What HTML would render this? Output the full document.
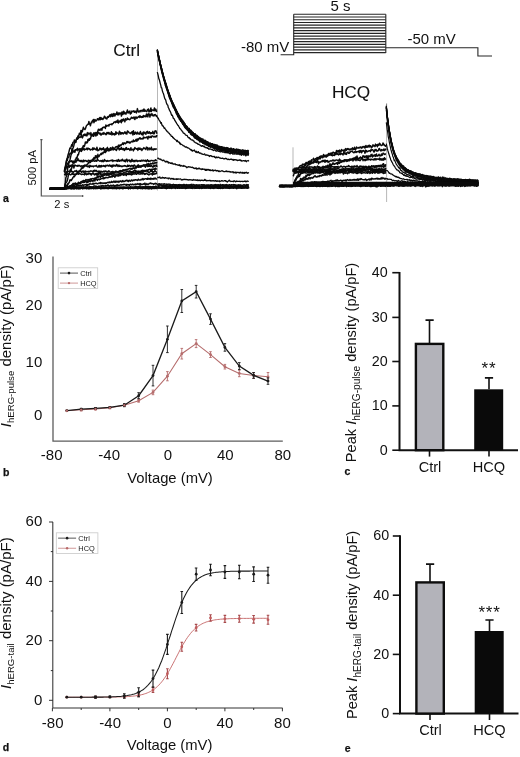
<!DOCTYPE html>
<html><head><meta charset="utf-8"><title>hERG figure</title>
<style>html,body{margin:0;padding:0;background:#fff;}body{width:520px;height:757px;overflow:hidden;font-family:"Liberation Sans", Arial, sans-serif;}svg{display:block;}.k{stroke:#111;stroke-width:.25px;}.k2{stroke:#111;stroke-width:.1px;}</style>
</head><body>
<svg width="520" height="757" viewBox="0 0 520 757" font-family='"Liberation Sans", Arial, sans-serif' fill="#111"><path d="M157.5 49.7V190.5M64.4 171V188.6" stroke="#999" stroke-width="0.7" fill="none"/>
<g fill="none" stroke="#0a0a0a" stroke-width="1.45" stroke-linejoin="round"><path d="M49.5 188.6L50.0 188.7L50.5 188.5L51.0 188.4L51.5 188.5L52.0 188.4L52.5 188.6L53.0 188.9L53.5 188.5L54.0 188.4L54.5 188.7L55.0 188.7L55.5 188.6L56.0 188.4L56.5 188.6L57.0 188.8L57.5 188.3L58.0 188.5L58.5 188.1L59.0 188.3L59.5 188.1L60.0 188.5L60.5 188.3L61.0 188.7L61.5 188.6L62.0 188.6L62.5 188.0L63.0 188.5L63.5 188.6L64.0 188.6M64.4 188.1L64.9 188.4L65.4 188.3L65.9 188.3L66.4 188.9L66.9 188.3L67.4 188.5L67.9 188.8L68.4 188.4L68.9 188.5L69.4 188.6L69.9 188.5L70.4 188.1L70.9 188.5L71.4 188.9L71.9 188.0L72.4 188.7L72.9 188.5L73.4 188.3L73.9 189.1L74.4 188.7L74.9 188.1L75.4 188.5L75.9 188.6L76.4 188.4L76.9 188.7L77.4 188.4L77.9 188.7L78.4 188.9L78.9 188.2L79.4 188.5L79.9 188.3L80.4 188.5L80.9 188.1L81.4 188.3L81.9 188.4L82.4 188.7L82.9 188.8L83.4 188.0L83.9 188.2L84.4 188.6L84.9 187.8L85.4 188.3L85.9 188.4L86.4 188.8L86.9 188.6L87.4 188.3L87.9 188.3L88.4 188.3L88.9 188.9L89.4 188.3L89.9 188.3L90.4 188.5L90.9 188.4L91.4 188.4L91.9 188.1L92.4 188.4L92.9 188.3L93.4 188.8L93.9 188.6L94.4 188.4L94.9 188.6L95.4 188.3L95.9 188.7L96.4 188.4L96.9 188.6L97.4 188.0L97.9 188.5L98.4 187.9L98.9 187.8L99.4 188.3L99.9 188.1L100.4 188.5L100.9 189.1L101.4 188.2L101.9 188.2L102.4 188.5L102.9 188.6L103.4 188.4L103.9 188.3L104.4 188.6L104.9 188.6L105.4 188.1L105.9 188.4L106.4 188.4L106.9 188.1L107.4 188.5L107.9 188.1L108.4 188.7L108.9 188.5L109.4 188.4L109.9 188.2L110.4 188.4L110.9 187.8L111.4 188.1L111.9 188.5L112.4 187.8L112.9 188.7L113.4 187.9L113.9 188.6L114.4 188.1L114.9 188.6L115.4 188.4L115.9 187.9L116.4 188.8L116.9 188.8L117.4 188.4L117.9 188.3L118.4 188.4L118.9 188.1L119.4 188.7L119.9 188.2L120.4 188.4L120.9 188.2L121.4 188.2L121.9 188.0L122.4 188.8L122.9 188.4L123.4 188.7L123.9 188.4L124.4 188.2L124.9 188.3L125.4 188.2L125.9 188.4L126.4 188.3L126.9 188.3L127.4 188.0L127.9 188.2L128.4 188.9L128.9 188.2L129.4 188.1L129.9 188.5L130.4 188.8L130.9 188.0L131.4 188.3L131.9 188.2L132.4 187.9L132.9 188.6L133.4 188.4L133.9 188.4L134.4 188.2L134.9 188.5L135.4 188.2L135.9 188.4L136.4 188.1L136.9 188.0L137.4 188.8L137.9 188.2L138.4 188.5L138.9 188.4L139.4 188.3L139.9 188.2L140.4 188.6L140.9 188.3L141.4 188.4L141.9 188.4L142.4 188.8L142.9 188.6L143.4 188.5L143.9 188.2L144.4 188.0L144.9 188.7L145.4 188.7L145.9 188.4L146.4 188.6L146.9 188.6L147.4 188.6L147.9 188.7L148.4 188.3L148.9 188.9L149.4 188.0L149.9 188.7L150.4 188.5L150.9 188.7L151.4 189.0L151.9 188.8L152.4 188.1L152.9 187.9L153.4 188.6L153.9 188.1L154.4 188.4L154.9 188.7L155.4 187.9L155.9 187.8L156.4 188.5L156.9 188.4"/><path d="M49.5 188.6L50.0 188.7L50.5 188.5L51.0 188.9L51.5 188.7L52.0 188.3L52.5 188.4L53.0 188.8L53.5 188.7L54.0 188.1L54.5 188.9L55.0 188.7L55.5 188.9L56.0 188.5L56.5 188.5L57.0 188.3L57.5 189.2L58.0 188.6L58.5 189.0L59.0 188.4L59.5 188.6L60.0 188.2L60.5 188.5L61.0 188.8L61.5 188.3L62.0 188.9L62.5 188.7L63.0 188.3L63.5 188.5L64.0 188.5M64.4 188.6L64.9 188.4L65.4 188.3L65.9 188.4L66.4 188.1L66.9 188.0L67.4 188.4L67.9 188.6L68.4 187.9L68.9 188.3L69.4 188.1L69.9 188.0L70.4 188.5L70.9 188.1L71.4 188.6L71.9 187.9L72.4 188.3L72.9 188.1L73.4 187.9L73.9 188.3L74.4 188.0L74.9 188.3L75.4 188.1L75.9 187.7L76.4 188.0L76.9 188.0L77.4 188.3L77.9 187.7L78.4 188.0L78.9 187.5L79.4 188.2L79.9 187.6L80.4 187.4L80.9 187.9L81.4 188.3L81.9 187.5L82.4 187.6L82.9 187.7L83.4 187.6L83.9 188.0L84.4 187.7L84.9 187.7L85.4 188.1L85.9 187.7L86.4 188.0L86.9 187.6L87.4 187.5L87.9 187.3L88.4 188.4L88.9 187.8L89.4 187.9L89.9 187.9L90.4 187.9L90.9 187.9L91.4 188.4L91.9 187.5L92.4 187.4L92.9 187.5L93.4 187.4L93.9 188.1L94.4 188.1L94.9 187.5L95.4 187.4L95.9 187.7L96.4 188.2L96.9 187.0L97.4 188.0L97.9 187.5L98.4 188.1L98.9 187.5L99.4 187.7L99.9 187.4L100.4 187.5L100.9 188.2L101.4 188.1L101.9 187.7L102.4 187.6L102.9 187.2L103.4 187.7L103.9 187.8L104.4 187.8L104.9 187.8L105.4 187.5L105.9 187.8L106.4 187.8L106.9 188.2L107.4 188.4L107.9 187.8L108.4 187.6L108.9 187.8L109.4 187.6L109.9 187.6L110.4 187.8L110.9 187.5L111.4 188.0L111.9 187.8L112.4 187.9L112.9 187.8L113.4 187.6L113.9 187.5L114.4 187.7L114.9 187.6L115.4 187.9L115.9 187.8L116.4 187.4L116.9 187.8L117.4 187.4L117.9 187.6L118.4 187.7L118.9 187.2L119.4 187.8L119.9 187.8L120.4 187.8L120.9 187.7L121.4 187.7L121.9 187.5L122.4 187.7L122.9 187.6L123.4 187.8L123.9 187.4L124.4 187.9L124.9 187.8L125.4 187.8L125.9 187.7L126.4 188.0L126.9 187.3L127.4 187.9L127.9 187.9L128.4 187.9L128.9 187.9L129.4 187.6L129.9 187.7L130.4 188.0L130.9 187.9L131.4 187.9L131.9 187.3L132.4 188.0L132.9 188.2L133.4 188.1L133.9 187.9L134.4 187.3L134.9 188.1L135.4 187.8L135.9 187.0L136.4 187.9L136.9 187.4L137.4 187.4L137.9 187.6L138.4 188.2L138.9 187.7L139.4 187.9L139.9 188.3L140.4 188.3L140.9 187.8L141.4 187.7L141.9 187.4L142.4 187.6L142.9 187.9L143.4 187.9L143.9 187.8L144.4 188.1L144.9 187.6L145.4 187.8L145.9 188.0L146.4 188.0L146.9 188.1L147.4 187.9L147.9 187.7L148.4 187.9L148.9 187.5L149.4 187.3L149.9 188.0L150.4 187.8L150.9 187.9L151.4 187.3L151.9 187.7L152.4 187.6L152.9 187.5L153.4 187.1L153.9 187.7L154.4 188.1L154.9 187.9L155.4 187.6L155.9 187.8L156.4 188.0L156.9 187.0"/><path d="M49.5 188.8L50.0 188.6L50.5 188.7L51.0 188.6L51.5 188.8L52.0 188.6L52.5 188.9L53.0 188.7L53.5 188.7L54.0 188.7L54.5 188.2L55.0 188.6L55.5 188.5L56.0 188.7L56.5 188.3L57.0 189.0L57.5 188.6L58.0 188.3L58.5 188.2L59.0 188.5L59.5 188.6L60.0 188.4L60.5 188.6L61.0 188.4L61.5 188.7L62.0 188.4L62.5 188.6L63.0 188.8L63.5 189.2L64.0 188.3M64.4 188.5L64.9 188.3L65.4 188.8L65.9 188.2L66.4 188.4L66.9 188.5L67.4 188.2L67.9 188.2L68.4 188.3L68.9 187.8L69.4 188.0L69.9 188.3L70.4 188.5L70.9 188.4L71.4 187.9L71.9 188.2L72.4 188.6L72.9 188.5L73.4 188.3L73.9 188.1L74.4 188.5L74.9 188.1L75.4 187.9L75.9 188.0L76.4 188.7L76.9 188.3L77.4 188.6L77.9 188.1L78.4 188.5L78.9 188.0L79.4 188.1L79.9 188.9L80.4 188.4L80.9 188.0L81.4 188.1L81.9 188.2L82.4 188.5L82.9 188.0L83.4 187.6L83.9 188.0L84.4 188.1L84.9 188.1L85.4 188.4L85.9 188.1L86.4 188.3L86.9 187.7L87.4 188.3L87.9 188.6L88.4 188.2L88.9 188.0L89.4 188.0L89.9 188.5L90.4 187.7L90.9 187.9L91.4 188.0L91.9 188.1L92.4 187.8L92.9 188.0L93.4 187.8L93.9 187.9L94.4 187.8L94.9 187.5L95.4 187.8L95.9 188.1L96.4 187.5L96.9 187.7L97.4 188.0L97.9 187.4L98.4 187.8L98.9 187.4L99.4 188.1L99.9 188.4L100.4 188.3L100.9 187.6L101.4 187.9L101.9 187.7L102.4 187.7L102.9 188.1L103.4 187.2L103.9 187.9L104.4 187.6L104.9 188.0L105.4 187.7L105.9 187.4L106.4 187.7L106.9 187.8L107.4 187.6L107.9 187.7L108.4 187.4L108.9 186.9L109.4 187.8L109.9 187.7L110.4 187.5L110.9 187.5L111.4 187.8L111.9 187.3L112.4 187.2L112.9 187.4L113.4 187.8L113.9 187.0L114.4 187.8L114.9 187.2L115.4 187.0L115.9 187.7L116.4 187.3L116.9 187.0L117.4 187.2L117.9 187.6L118.4 187.7L118.9 187.2L119.4 187.4L119.9 187.5L120.4 187.1L120.9 187.4L121.4 187.2L121.9 187.1L122.4 187.1L122.9 187.2L123.4 187.2L123.9 187.0L124.4 187.1L124.9 187.5L125.4 187.2L125.9 187.4L126.4 187.5L126.9 187.3L127.4 187.8L127.9 186.9L128.4 187.3L128.9 187.0L129.4 187.6L129.9 187.6L130.4 186.5L130.9 186.8L131.4 187.2L131.9 187.3L132.4 187.2L132.9 187.0L133.4 187.1L133.9 187.2L134.4 186.9L134.9 187.3L135.4 186.3L135.9 187.1L136.4 186.6L136.9 187.2L137.4 186.8L137.9 186.6L138.4 187.0L138.9 186.6L139.4 186.6L139.9 186.4L140.4 186.8L140.9 187.0L141.4 187.1L141.9 186.8L142.4 187.1L142.9 186.8L143.4 186.8L143.9 186.9L144.4 187.1L144.9 186.7L145.4 186.7L145.9 186.7L146.4 186.7L146.9 186.4L147.4 187.0L147.9 186.6L148.4 186.8L148.9 186.4L149.4 186.8L149.9 186.8L150.4 186.5L150.9 187.2L151.4 186.7L151.9 187.1L152.4 186.9L152.9 186.4L153.4 186.5L153.9 186.7L154.4 186.6L154.9 186.6L155.4 186.5L155.9 186.0L156.4 186.5L156.9 185.8"/><path d="M49.5 188.3L50.0 188.7L50.5 188.5L51.0 188.5L51.5 188.2L52.0 188.4L52.5 188.6L53.0 188.8L53.5 188.8L54.0 188.6L54.5 188.6L55.0 188.4L55.5 188.7L56.0 188.5L56.5 188.8L57.0 189.0L57.5 188.6L58.0 188.2L58.5 188.4L59.0 188.2L59.5 188.3L60.0 188.9L60.5 188.7L61.0 188.2L61.5 188.8L62.0 188.9L62.5 188.5L63.0 188.4L63.5 188.5L64.0 188.7M64.4 188.8L64.9 188.9L65.4 188.9L65.9 188.8L66.4 188.8L66.9 188.5L67.4 187.7L67.9 188.1L68.4 188.2L68.9 187.9L69.4 188.3L69.9 187.9L70.4 187.6L70.9 188.4L71.4 188.1L71.9 187.9L72.4 188.1L72.9 188.1L73.4 187.8L73.9 186.8L74.4 187.4L74.9 187.4L75.4 187.2L75.9 187.6L76.4 187.9L76.9 187.3L77.4 187.0L77.9 188.1L78.4 187.2L78.9 186.9L79.4 187.4L79.9 187.4L80.4 187.0L80.9 187.5L81.4 187.0L81.9 186.8L82.4 187.2L82.9 187.3L83.4 186.8L83.9 187.1L84.4 187.0L84.9 187.9L85.4 186.7L85.9 187.4L86.4 186.9L86.9 186.8L87.4 187.1L87.9 187.1L88.4 187.2L88.9 186.8L89.4 186.5L89.9 186.5L90.4 186.8L90.9 186.8L91.4 187.1L91.9 186.7L92.4 186.9L92.9 187.0L93.4 186.5L93.9 185.9L94.4 186.0L94.9 185.9L95.4 186.9L95.9 186.0L96.4 186.7L96.9 186.5L97.4 186.9L97.9 186.6L98.4 186.2L98.9 186.1L99.4 186.2L99.9 186.2L100.4 185.9L100.9 186.1L101.4 186.6L101.9 185.4L102.4 186.1L102.9 185.6L103.4 186.0L103.9 186.2L104.4 185.9L104.9 186.1L105.4 185.3L105.9 186.2L106.4 185.6L106.9 186.0L107.4 185.8L107.9 184.8L108.4 185.4L108.9 185.7L109.4 186.2L109.9 185.7L110.4 185.7L110.9 185.1L111.4 186.0L111.9 186.1L112.4 185.5L112.9 185.4L113.4 184.9L113.9 185.7L114.4 186.3L114.9 185.6L115.4 185.8L115.9 185.5L116.4 185.0L116.9 185.7L117.4 184.8L117.9 185.2L118.4 185.3L118.9 185.5L119.4 185.3L119.9 185.3L120.4 184.8L120.9 184.6L121.4 185.1L121.9 184.8L122.4 184.6L122.9 184.6L123.4 184.8L123.9 184.3L124.4 184.5L124.9 184.3L125.4 184.9L125.9 185.0L126.4 185.5L126.9 184.3L127.4 184.6L127.9 185.1L128.4 184.7L128.9 184.6L129.4 185.3L129.9 184.6L130.4 184.2L130.9 184.2L131.4 184.7L131.9 184.7L132.4 184.1L132.9 184.2L133.4 184.7L133.9 184.7L134.4 184.3L134.9 184.7L135.4 184.6L135.9 183.8L136.4 184.3L136.9 184.5L137.4 184.1L137.9 183.6L138.4 184.2L138.9 184.5L139.4 184.8L139.9 183.5L140.4 185.1L140.9 183.8L141.4 184.5L141.9 184.6L142.4 184.5L142.9 184.2L143.4 183.7L143.9 184.3L144.4 183.8L144.9 183.1L145.4 185.0L145.9 184.2L146.4 184.6L146.9 183.6L147.4 184.4L147.9 184.4L148.4 184.4L148.9 183.8L149.4 183.4L149.9 183.7L150.4 183.0L150.9 183.2L151.4 183.8L151.9 183.4L152.4 183.6L152.9 183.6L153.4 184.3L153.9 184.1L154.4 183.6L154.9 184.0L155.4 183.3L155.9 183.4L156.4 183.9L156.9 183.1"/><path d="M49.5 188.2L50.0 188.5L50.5 188.6L51.0 188.6L51.5 188.3L52.0 188.8L52.5 188.3L53.0 188.5L53.5 188.9L54.0 188.4L54.5 188.5L55.0 188.9L55.5 188.5L56.0 188.5L56.5 188.7L57.0 188.9L57.5 188.0L58.0 188.4L58.5 188.3L59.0 188.3L59.5 188.4L60.0 188.4L60.5 188.7L61.0 188.4L61.5 188.6L62.0 188.7L62.5 188.4L63.0 188.6L63.5 189.0L64.0 188.7M64.4 188.3L64.9 188.3L65.4 187.8L65.9 188.1L66.4 188.3L66.9 187.4L67.4 187.6L67.9 188.0L68.4 187.3L68.9 187.4L69.4 186.8L69.9 186.8L70.4 186.9L70.9 187.9L71.4 186.8L71.9 186.6L72.4 186.5L72.9 186.6L73.4 186.9L73.9 186.6L74.4 187.3L74.9 186.4L75.4 186.9L75.9 186.3L76.4 186.4L76.9 185.5L77.4 185.9L77.9 185.9L78.4 185.8L78.9 184.9L79.4 186.1L79.9 185.5L80.4 185.4L80.9 185.4L81.4 185.4L81.9 185.6L82.4 184.8L82.9 184.9L83.4 185.3L83.9 185.2L84.4 184.9L84.9 184.8L85.4 184.6L85.9 184.9L86.4 185.3L86.9 184.4L87.4 185.3L87.9 185.0L88.4 184.4L88.9 184.9L89.4 183.9L89.9 183.7L90.4 183.9L90.9 184.2L91.4 184.1L91.9 184.0L92.4 184.2L92.9 183.2L93.4 184.2L93.9 183.4L94.4 183.7L94.9 183.7L95.4 183.4L95.9 183.2L96.4 183.3L96.9 183.7L97.4 183.8L97.9 183.8L98.4 183.1L98.9 183.1L99.4 183.0L99.9 183.5L100.4 182.5L100.9 183.7L101.4 183.0L101.9 182.8L102.4 183.2L102.9 183.5L103.4 183.1L103.9 183.4L104.4 182.9L104.9 183.3L105.4 183.3L105.9 182.7L106.4 183.3L106.9 182.7L107.4 182.6L107.9 182.2L108.4 182.4L108.9 182.8L109.4 181.9L109.9 182.6L110.4 182.4L110.9 182.4L111.4 181.3L111.9 182.1L112.4 182.4L112.9 181.8L113.4 182.1L113.9 181.0L114.4 182.2L114.9 181.6L115.4 182.2L115.9 181.0L116.4 182.0L116.9 181.6L117.4 182.0L117.9 181.2L118.4 181.3L118.9 182.4L119.4 181.1L119.9 181.1L120.4 181.3L120.9 180.9L121.4 181.8L121.9 181.9L122.4 180.9L122.9 180.5L123.4 181.6L123.9 181.5L124.4 181.3L124.9 181.4L125.4 180.6L125.9 180.8L126.4 180.3L126.9 180.2L127.4 181.1L127.9 180.4L128.4 181.6L128.9 180.7L129.4 180.3L129.9 180.9L130.4 181.2L130.9 180.6L131.4 179.9L131.9 180.5L132.4 180.9L132.9 180.1L133.4 179.9L133.9 180.6L134.4 180.2L134.9 179.7L135.4 179.9L135.9 179.7L136.4 180.1L136.9 180.0L137.4 180.4L137.9 180.1L138.4 179.2L138.9 179.9L139.4 180.1L139.9 179.9L140.4 180.1L140.9 179.4L141.4 179.2L141.9 179.9L142.4 179.1L142.9 178.6L143.4 179.8L143.9 179.1L144.4 179.2L144.9 178.7L145.4 178.7L145.9 178.7L146.4 179.0L146.9 179.3L147.4 178.2L147.9 179.3L148.4 178.5L148.9 178.5L149.4 179.2L149.9 178.9L150.4 178.2L150.9 179.5L151.4 178.4L151.9 178.8L152.4 178.8L152.9 179.2L153.4 178.4L153.9 179.0L154.4 178.2L154.9 178.9L155.4 178.1L155.9 178.3L156.4 179.1L156.9 178.5"/><path d="M49.5 188.5L50.0 188.7L50.5 188.6L51.0 188.4L51.5 188.8L52.0 188.5L52.5 188.5L53.0 188.3L53.5 188.4L54.0 188.8L54.5 188.2L55.0 188.6L55.5 188.8L56.0 188.5L56.5 188.7L57.0 188.3L57.5 188.9L58.0 188.9L58.5 188.7L59.0 188.2L59.5 188.3L60.0 188.8L60.5 189.0L61.0 188.7L61.5 188.9L62.0 188.4L62.5 188.6L63.0 188.6L63.5 188.7L64.0 188.2M64.4 189.1L64.9 188.9L65.4 187.4L65.9 187.0L66.4 187.7L66.9 187.0L67.4 185.9L67.9 187.3L68.4 186.8L68.9 186.3L69.4 187.4L69.9 186.3L70.4 185.7L70.9 185.9L71.4 185.2L71.9 185.2L72.4 185.6L72.9 185.0L73.4 184.9L73.9 185.8L74.4 185.3L74.9 185.1L75.4 184.8L75.9 184.7L76.4 185.0L76.9 184.2L77.4 185.0L77.9 183.4L78.4 183.7L78.9 183.0L79.4 183.4L79.9 183.7L80.4 184.0L80.9 182.8L81.4 183.0L81.9 182.7L82.4 182.4L82.9 182.1L83.4 182.6L83.9 181.6L84.4 182.4L84.9 182.2L85.4 181.7L85.9 181.5L86.4 181.2L86.9 182.7L87.4 180.9L87.9 182.3L88.4 181.7L88.9 181.1L89.4 180.6L89.9 181.6L90.4 181.8L90.9 180.4L91.4 180.6L91.9 181.1L92.4 180.7L92.9 181.4L93.4 180.0L93.9 180.5L94.4 179.4L94.9 181.0L95.4 179.5L95.9 178.7L96.4 179.6L96.9 179.5L97.4 180.4L97.9 179.2L98.4 179.2L98.9 179.4L99.4 179.8L99.9 178.9L100.4 179.3L100.9 179.0L101.4 178.5L101.9 178.6L102.4 178.4L102.9 177.9L103.4 178.8L103.9 177.4L104.4 178.6L104.9 178.4L105.4 177.8L105.9 177.3L106.4 177.5L106.9 177.8L107.4 177.8L107.9 177.5L108.4 177.7L108.9 176.9L109.4 177.2L109.9 176.2L110.4 177.2L110.9 176.8L111.4 176.5L111.9 177.1L112.4 176.8L112.9 175.0L113.4 176.3L113.9 175.5L114.4 176.6L114.9 177.2L115.4 175.6L115.9 175.9L116.4 175.6L116.9 175.8L117.4 175.9L117.9 176.1L118.4 174.9L118.9 176.0L119.4 174.7L119.9 175.2L120.4 175.6L120.9 175.3L121.4 174.3L121.9 174.4L122.4 174.4L122.9 174.5L123.4 175.0L123.9 173.7L124.4 174.5L124.9 174.5L125.4 174.4L125.9 174.2L126.4 174.7L126.9 174.1L127.4 174.2L127.9 173.9L128.4 174.4L128.9 172.5L129.4 174.0L129.9 173.2L130.4 173.1L130.9 172.6L131.4 172.1L131.9 172.7L132.4 172.5L132.9 173.0L133.4 171.9L133.9 173.3L134.4 172.6L134.9 172.3L135.4 172.0L135.9 171.9L136.4 171.6L136.9 171.8L137.4 172.0L137.9 171.8L138.4 171.1L138.9 171.6L139.4 171.2L139.9 171.6L140.4 172.4L140.9 171.7L141.4 171.2L141.9 170.4L142.4 170.4L142.9 170.2L143.4 171.3L143.9 170.5L144.4 170.8L144.9 170.4L145.4 170.7L145.9 171.3L146.4 170.1L146.9 170.2L147.4 169.9L147.9 170.7L148.4 169.6L148.9 169.5L149.4 169.3L149.9 169.2L150.4 170.1L150.9 171.0L151.4 169.2L151.9 170.0L152.4 169.6L152.9 168.9L153.4 169.2L153.9 169.1L154.4 168.8L154.9 170.1L155.4 168.1L155.9 169.1L156.4 169.0L156.9 168.5"/><path d="M49.5 188.3L50.0 188.8L50.5 188.5L51.0 188.7L51.5 188.5L52.0 188.7L52.5 188.4L53.0 188.6L53.5 188.7L54.0 188.6L54.5 188.5L55.0 188.3L55.5 188.6L56.0 188.7L56.5 188.5L57.0 188.4L57.5 188.7L58.0 189.2L58.5 188.5L59.0 188.7L59.5 188.7L60.0 188.0L60.5 188.6L61.0 188.4L61.5 188.9L62.0 188.5L62.5 188.4L63.0 188.5L63.5 188.6L64.0 188.5M64.4 188.6L64.9 187.5L65.4 187.8L65.9 188.1L66.4 188.5L66.9 187.5L67.4 187.1L67.9 187.3L68.4 187.0L68.9 187.2L69.4 186.7L69.9 185.8L70.4 185.8L70.9 185.6L71.4 185.5L71.9 185.2L72.4 184.5L72.9 183.6L73.4 184.2L73.9 183.3L74.4 184.2L74.9 184.0L75.4 182.9L75.9 184.1L76.4 184.0L76.9 183.4L77.4 184.1L77.9 184.0L78.4 182.2L78.9 183.2L79.4 182.8L79.9 182.6L80.4 182.7L80.9 181.6L81.4 181.5L81.9 181.3L82.4 181.1L82.9 181.3L83.4 180.4L83.9 180.5L84.4 181.2L84.9 180.7L85.4 180.8L85.9 179.4L86.4 179.9L86.9 179.9L87.4 180.0L87.9 179.6L88.4 180.2L88.9 179.5L89.4 179.4L89.9 179.3L90.4 179.5L90.9 178.7L91.4 179.5L91.9 179.0L92.4 178.6L92.9 178.4L93.4 178.6L93.9 178.7L94.4 178.5L94.9 178.1L95.4 178.2L95.9 177.6L96.4 178.1L96.9 177.3L97.4 176.0L97.9 177.8L98.4 176.9L98.9 176.1L99.4 176.5L99.9 176.0L100.4 177.5L100.9 176.5L101.4 175.2L101.9 176.2L102.4 175.6L102.9 176.7L103.4 174.9L103.9 174.1L104.4 175.3L104.9 174.9L105.4 174.8L105.9 173.7L106.4 175.0L106.9 175.5L107.4 173.4L107.9 175.0L108.4 173.9L108.9 175.4L109.4 174.2L109.9 173.7L110.4 174.3L110.9 173.8L111.4 173.1L111.9 173.7L112.4 172.9L112.9 172.0L113.4 174.0L113.9 172.6L114.4 172.3L114.9 172.7L115.4 171.5L115.9 171.5L116.4 171.9L116.9 171.7L117.4 171.9L117.9 172.4L118.4 171.4L118.9 171.8L119.4 171.7L119.9 170.7L120.4 171.2L120.9 170.5L121.4 171.5L121.9 171.0L122.4 170.6L122.9 169.8L123.4 170.4L123.9 169.8L124.4 170.5L124.9 169.9L125.4 169.4L125.9 170.3L126.4 170.0L126.9 169.2L127.4 170.0L127.9 169.1L128.4 169.0L128.9 169.1L129.4 168.5L129.9 168.5L130.4 168.6L130.9 169.4L131.4 169.3L131.9 168.2L132.4 169.1L132.9 168.0L133.4 168.2L133.9 168.3L134.4 167.9L134.9 168.9L135.4 167.6L135.9 166.7L136.4 168.0L136.9 166.9L137.4 166.8L137.9 165.2L138.4 167.3L138.9 167.1L139.4 167.0L139.9 166.9L140.4 167.2L140.9 166.1L141.4 166.6L141.9 165.5L142.4 165.6L142.9 166.3L143.4 165.8L143.9 164.7L144.4 165.6L144.9 165.1L145.4 164.7L145.9 165.2L146.4 164.7L146.9 163.9L147.4 164.0L147.9 165.5L148.4 163.6L148.9 164.4L149.4 164.5L149.9 164.4L150.4 163.3L150.9 163.7L151.4 163.8L151.9 164.1L152.4 163.2L152.9 162.8L153.4 163.8L153.9 163.8L154.4 163.3L154.9 162.6L155.4 163.1L155.9 162.8L156.4 163.1L156.9 161.8"/><path d="M49.5 188.8L50.0 188.8L50.5 188.4L51.0 188.6L51.5 188.9L52.0 188.4L52.5 188.4L53.0 188.8L53.5 189.0L54.0 188.3L54.5 188.0L55.0 188.2L55.5 188.3L56.0 188.6L56.5 188.8L57.0 188.6L57.5 188.4L58.0 188.6L58.5 188.4L59.0 188.6L59.5 188.4L60.0 189.3L60.5 188.8L61.0 188.4L61.5 188.4L62.0 188.5L62.5 188.2L63.0 188.4L63.5 188.4L64.0 188.8M64.4 188.3L64.9 187.3L65.4 186.3L65.9 185.7L66.4 185.8L66.9 185.0L67.4 185.3L67.9 183.4L68.4 184.0L68.9 182.8L69.4 182.0L69.9 179.9L70.4 179.8L70.9 180.6L71.4 180.5L71.9 179.1L72.4 178.9L72.9 177.5L73.4 176.9L73.9 176.2L74.4 176.8L74.9 175.8L75.4 174.8L75.9 174.2L76.4 174.3L76.9 173.6L77.4 172.3L77.9 173.5L78.4 172.0L78.9 171.3L79.4 171.9L79.9 171.1L80.4 169.8L80.9 169.8L81.4 168.2L81.9 168.0L82.4 166.4L82.9 168.4L83.4 165.8L83.9 167.1L84.4 165.6L84.9 165.1L85.4 165.2L85.9 165.1L86.4 164.9L86.9 165.3L87.4 163.9L87.9 163.9L88.4 162.4L88.9 163.0L89.4 162.2L89.9 161.4L90.4 161.2L90.9 160.9L91.4 160.7L91.9 160.5L92.4 159.5L92.9 158.9L93.4 159.6L93.9 157.6L94.4 158.0L94.9 159.2L95.4 155.8L95.9 156.9L96.4 157.5L96.9 155.6L97.4 158.2L97.9 154.3L98.4 156.8L98.9 156.6L99.4 155.8L99.9 154.7L100.4 154.8L100.9 153.6L101.4 154.5L101.9 152.9L102.4 153.2L102.9 153.8L103.4 152.0L103.9 152.3L104.4 152.4L104.9 151.1L105.4 152.6L105.9 151.7L106.4 150.2L106.9 150.9L107.4 150.2L107.9 150.0L108.4 150.3L108.9 149.5L109.4 150.4L109.9 149.0L110.4 149.9L110.9 149.0L111.4 149.4L111.9 148.2L112.4 148.0L112.9 147.3L113.4 148.3L113.9 148.3L114.4 148.9L114.9 148.1L115.4 147.2L115.9 146.7L116.4 146.9L116.9 146.4L117.4 147.2L117.9 146.7L118.4 145.2L118.9 145.1L119.4 146.4L119.9 145.5L120.4 144.9L120.9 145.7L121.4 144.4L121.9 144.3L122.4 144.0L122.9 142.8L123.4 144.6L123.9 143.0L124.4 143.2L124.9 142.9L125.4 143.8L125.9 143.1L126.4 143.0L126.9 141.6L127.4 142.6L127.9 141.5L128.4 142.6L128.9 142.5L129.4 142.0L129.9 143.3L130.4 142.1L130.9 142.0L131.4 141.6L131.9 141.2L132.4 141.9L132.9 141.8L133.4 140.0L133.9 141.5L134.4 141.0L134.9 141.2L135.4 140.7L135.9 139.4L136.4 139.3L136.9 141.3L137.4 140.0L137.9 138.7L138.4 139.9L138.9 139.2L139.4 138.1L139.9 137.7L140.4 138.0L140.9 139.2L141.4 138.9L141.9 138.6L142.4 138.9L142.9 139.0L143.4 137.0L143.9 138.2L144.4 137.7L144.9 137.3L145.4 137.7L145.9 137.9L146.4 137.7L146.9 136.7L147.4 137.3L147.9 139.0L148.4 136.7L148.9 136.2L149.4 137.5L149.9 137.6L150.4 137.4L150.9 136.2L151.4 137.6L151.9 136.3L152.4 135.9L152.9 136.2L153.4 136.5L153.9 137.0L154.4 136.8L154.9 136.3L155.4 136.9L155.9 136.2L156.4 136.7L156.9 135.0"/><path d="M49.5 188.6L50.0 188.7L50.5 189.1L51.0 189.2L51.5 188.4L52.0 188.9L52.5 188.8L53.0 188.7L53.5 188.7L54.0 188.6L54.5 189.0L55.0 188.8L55.5 188.7L56.0 188.9L56.5 188.8L57.0 188.7L57.5 188.7L58.0 189.0L58.5 188.7L59.0 188.6L59.5 188.4L60.0 188.5L60.5 188.3L61.0 188.6L61.5 188.7L62.0 188.1L62.5 188.6L63.0 188.8L63.5 188.6L64.0 188.4M64.4 189.8L64.9 186.3L65.4 184.1L65.9 182.7L66.4 182.2L66.9 181.6L67.4 180.3L67.9 177.9L68.4 175.2L68.9 174.3L69.4 172.8L69.9 172.1L70.4 169.3L70.9 169.9L71.4 169.1L71.9 167.2L72.4 166.6L72.9 164.1L73.4 162.5L73.9 162.2L74.4 162.9L74.9 161.7L75.4 159.3L75.9 159.9L76.4 157.4L76.9 158.2L77.4 156.3L77.9 154.5L78.4 154.8L78.9 152.5L79.4 151.5L79.9 150.2L80.4 151.0L80.9 149.9L81.4 149.1L81.9 148.1L82.4 149.1L82.9 146.6L83.4 145.6L83.9 146.8L84.4 146.3L84.9 144.6L85.4 142.0L85.9 142.4L86.4 143.0L86.9 141.8L87.4 142.7L87.9 139.4L88.4 140.7L88.9 138.9L89.4 140.3L89.9 138.4L90.4 139.0L90.9 136.9L91.4 135.6L91.9 135.4L92.4 135.5L92.9 134.6L93.4 136.3L93.9 136.0L94.4 134.5L94.9 132.9L95.4 133.3L95.9 132.4L96.4 134.0L96.9 132.6L97.4 132.3L97.9 131.1L98.4 129.2L98.9 130.1L99.4 129.4L99.9 130.5L100.4 129.9L100.9 128.7L101.4 128.8L101.9 130.3L102.4 127.6L102.9 127.4L103.4 127.7L103.9 127.0L104.4 127.0L104.9 127.6L105.4 128.5L105.9 124.9L106.4 126.3L106.9 126.1L107.4 125.7L107.9 125.4L108.4 125.0L108.9 126.1L109.4 124.4L109.9 124.5L110.4 124.4L110.9 124.3L111.4 123.9L111.9 124.8L112.4 123.6L112.9 123.6L113.4 123.2L113.9 122.1L114.4 122.1L114.9 121.7L115.4 122.7L115.9 121.6L116.4 121.1L116.9 122.2L117.4 122.3L117.9 120.0L118.4 123.1L118.9 121.4L119.4 121.1L119.9 122.0L120.4 120.9L120.9 120.2L121.4 122.7L121.9 119.4L122.4 120.2L122.9 121.0L123.4 119.0L123.9 119.8L124.4 120.2L124.9 121.9L125.4 118.7L125.9 119.4L126.4 119.9L126.9 119.3L127.4 117.9L127.9 119.4L128.4 119.0L128.9 119.2L129.4 119.7L129.9 119.5L130.4 118.8L130.9 118.6L131.4 117.2L131.9 118.0L132.4 118.2L132.9 117.6L133.4 117.9L133.9 117.0L134.4 119.1L134.9 119.6L135.4 117.1L135.9 117.8L136.4 117.1L136.9 118.4L137.4 117.6L137.9 117.2L138.4 116.8L138.9 117.0L139.4 115.9L139.9 117.4L140.4 116.0L140.9 117.1L141.4 116.7L141.9 117.5L142.4 116.4L142.9 117.3L143.4 115.4L143.9 116.8L144.4 115.9L144.9 116.3L145.4 116.1L145.9 116.9L146.4 114.0L146.9 116.2L147.4 114.4L147.9 116.9L148.4 113.8L148.9 114.7L149.4 114.0L149.9 117.1L150.4 114.2L150.9 115.5L151.4 114.8L151.9 113.6L152.4 114.9L152.9 115.8L153.4 115.0L153.9 116.0L154.4 114.7L154.9 115.0L155.4 114.6L155.9 115.2L156.4 116.6L156.9 115.1"/><path d="M49.5 188.6L50.0 188.2L50.5 188.7L51.0 188.5L51.5 188.5L52.0 188.2L52.5 188.5L53.0 188.4L53.5 188.6L54.0 188.2L54.5 188.6L55.0 188.6L55.5 188.3L56.0 188.4L56.5 188.4L57.0 188.8L57.5 188.0L58.0 188.5L58.5 188.2L59.0 188.5L59.5 188.8L60.0 188.4L60.5 188.6L61.0 188.4L61.5 189.1L62.0 188.8L62.5 188.9L63.0 188.3L63.5 188.3L64.0 188.9M64.4 188.4L64.9 184.9L65.4 182.2L65.9 177.4L66.4 176.6L66.9 173.0L67.4 170.8L67.9 167.0L68.4 165.9L68.9 162.3L69.4 161.9L69.9 160.0L70.4 157.8L70.9 155.6L71.4 153.9L71.9 148.7L72.4 150.9L72.9 148.2L73.4 147.1L73.9 145.4L74.4 142.9L74.9 142.5L75.4 142.6L75.9 142.3L76.4 139.1L76.9 137.7L77.4 139.2L77.9 135.9L78.4 138.1L78.9 135.1L79.4 133.3L79.9 134.5L80.4 134.5L80.9 130.5L81.4 133.0L81.9 130.4L82.4 131.7L82.9 129.1L83.4 127.3L83.9 128.9L84.4 128.9L84.9 129.6L85.4 128.7L85.9 127.2L86.4 125.8L86.9 125.1L87.4 124.9L87.9 124.0L88.4 124.2L88.9 121.4L89.4 123.9L89.9 123.4L90.4 125.8L90.9 123.6L91.4 122.0L91.9 122.8L92.4 120.6L92.9 121.0L93.4 119.4L93.9 122.7L94.4 121.5L94.9 119.4L95.4 120.4L95.9 121.2L96.4 120.5L96.9 120.2L97.4 118.7L97.9 118.7L98.4 119.3L98.9 120.0L99.4 118.0L99.9 117.5L100.4 119.7L100.9 117.4L101.4 119.3L101.9 118.3L102.4 118.8L102.9 119.5L103.4 118.3L103.9 118.2L104.4 116.3L104.9 116.4L105.4 117.7L105.9 118.5L106.4 118.2L106.9 119.0L107.4 116.8L107.9 116.6L108.4 117.3L108.9 116.1L109.4 115.9L109.9 114.8L110.4 116.8L110.9 114.5L111.4 116.1L111.9 113.9L112.4 116.5L112.9 114.2L113.4 116.0L113.9 113.4L114.4 114.5L114.9 116.1L115.4 113.9L115.9 114.7L116.4 114.0L116.9 112.0L117.4 114.7L117.9 114.7L118.4 113.0L118.9 114.7L119.4 113.2L119.9 112.9L120.4 113.8L120.9 113.0L121.4 116.1L121.9 112.0L122.4 114.3L122.9 114.5L123.4 111.3L123.9 111.5L124.4 113.8L124.9 112.6L125.4 113.5L125.9 114.2L126.4 112.5L126.9 111.7L127.4 109.9L127.9 112.9L128.4 111.6L128.9 112.9L129.4 112.7L129.9 111.0L130.4 114.1L130.9 113.4L131.4 113.1L131.9 110.9L132.4 111.6L132.9 111.4L133.4 111.5L133.9 110.7L134.4 112.3L134.9 112.0L135.4 112.1L135.9 111.1L136.4 112.9L136.9 111.7L137.4 108.6L137.9 110.7L138.4 111.3L138.9 112.3L139.4 110.9L139.9 110.9L140.4 110.4L140.9 111.8L141.4 110.5L141.9 110.3L142.4 110.1L142.9 111.4L143.4 110.2L143.9 109.0L144.4 111.3L144.9 109.9L145.4 110.9L145.9 110.9L146.4 111.7L146.9 111.5L147.4 109.8L147.9 110.1L148.4 108.9L148.9 112.0L149.4 110.6L149.9 111.6L150.4 109.7L150.9 107.9L151.4 111.6L151.9 110.0L152.4 110.0L152.9 109.9L153.4 110.5L153.9 110.3L154.4 108.0L154.9 110.8L155.4 109.1L155.9 109.1L156.4 111.4L156.9 110.5"/><path d="M49.5 188.8L50.0 188.9L50.5 188.4L51.0 188.9L51.5 188.5L52.0 188.3L52.5 188.6L53.0 188.2L53.5 188.6L54.0 188.7L54.5 188.5L55.0 188.7L55.5 188.5L56.0 188.6L56.5 188.2L57.0 188.6L57.5 188.4L58.0 188.5L58.5 188.6L59.0 188.6L59.5 188.2L60.0 188.2L60.5 188.5L61.0 188.7L61.5 188.7L62.0 188.8L62.5 188.9L63.0 188.7L63.5 188.6L64.0 188.3M64.4 170.7L64.9 168.2L65.4 166.1L65.9 163.5L66.4 161.0L66.9 158.7L67.4 157.5L67.9 155.3L68.4 153.7L68.9 152.1L69.4 149.9L69.9 148.1L70.4 148.4L70.9 147.2L71.4 145.6L71.9 144.4L72.4 146.1L72.9 142.4L73.4 142.2L73.9 142.0L74.4 140.0L74.9 140.7L75.4 141.7L75.9 140.4L76.4 139.7L76.9 139.2L77.4 138.4L77.9 138.8L78.4 137.4L78.9 136.9L79.4 137.1L79.9 137.6L80.4 136.8L80.9 136.9L81.4 134.1L81.9 137.0L82.4 137.9L82.9 136.8L83.4 135.1L83.9 134.4L84.4 135.4L84.9 134.1L85.4 135.6L85.9 134.3L86.4 135.6L86.9 135.9L87.4 132.6L87.9 134.7L88.4 133.7L88.9 132.9L89.4 133.6L89.9 134.0L90.4 135.1L90.9 132.6L91.4 135.0L91.9 135.9L92.4 134.5L92.9 134.4L93.4 133.8L93.9 132.7L94.4 134.3L94.9 134.1L95.4 134.4L95.9 136.1L96.4 134.4L96.9 134.0L97.4 135.1L97.9 132.3L98.4 132.5L98.9 133.2L99.4 132.9L99.9 134.2L100.4 133.2L100.9 135.1L101.4 134.9L101.9 134.2L102.4 133.1L102.9 134.0L103.4 134.2L103.9 132.4L104.4 133.7L104.9 134.0L105.4 133.6L105.9 134.8L106.4 134.5L106.9 132.5L107.4 133.4L107.9 132.5L108.4 133.8L108.9 132.4L109.4 134.1L109.9 133.6L110.4 134.2L110.9 133.1L111.4 131.8L111.9 134.9L112.4 133.0L112.9 134.5L113.4 133.6L113.9 133.8L114.4 134.9L114.9 133.5L115.4 134.5L115.9 131.7L116.4 134.0L116.9 132.9L117.4 133.0L117.9 133.1L118.4 133.4L118.9 134.7L119.4 131.3L119.9 133.1L120.4 132.4L120.9 134.2L121.4 132.7L121.9 133.5L122.4 132.7L122.9 133.7L123.4 134.0L123.9 132.7L124.4 133.1L124.9 131.7L125.4 133.3L125.9 133.8L126.4 132.5L126.9 134.1L127.4 131.0L127.9 131.2L128.4 131.7L128.9 132.5L129.4 133.0L129.9 132.9L130.4 132.9L130.9 133.7L131.4 132.5L131.9 131.8L132.4 131.8L132.9 135.0L133.4 130.7L133.9 132.8L134.4 134.3L134.9 133.4L135.4 132.1L135.9 132.9L136.4 133.8L136.9 134.1L137.4 132.1L137.9 133.6L138.4 133.2L138.9 134.0L139.4 134.2L139.9 132.6L140.4 131.5L140.9 133.3L141.4 134.6L141.9 133.5L142.4 133.1L142.9 135.2L143.4 131.9L143.9 133.7L144.4 132.3L144.9 132.9L145.4 132.9L145.9 134.3L146.4 132.0L146.9 132.3L147.4 131.3L147.9 133.3L148.4 132.4L148.9 133.2L149.4 131.8L149.9 132.5L150.4 133.8L150.9 132.7L151.4 133.4L151.9 133.3L152.4 132.5L152.9 131.3L153.4 133.8L153.9 133.0L154.4 133.7L154.9 130.9L155.4 131.2L155.9 130.8L156.4 132.0L156.9 133.8"/><path d="M49.5 188.6L50.0 188.7L50.5 188.7L51.0 188.1L51.5 188.5L52.0 188.7L52.5 188.7L53.0 188.9L53.5 188.3L54.0 188.7L54.5 188.4L55.0 188.6L55.5 188.7L56.0 188.8L56.5 188.4L57.0 188.6L57.5 188.3L58.0 188.2L58.5 188.7L59.0 188.6L59.5 188.2L60.0 188.4L60.5 188.6L61.0 189.0L61.5 188.8L62.0 188.8L62.5 188.1L63.0 188.6L63.5 188.7L64.0 188.7M64.4 171.9L64.9 168.4L65.4 167.5L65.9 165.0L66.4 161.9L66.9 159.5L67.4 160.5L67.9 157.2L68.4 157.5L68.9 157.1L69.4 154.0L69.9 154.3L70.4 153.2L70.9 153.3L71.4 152.7L71.9 153.6L72.4 152.2L72.9 151.4L73.4 152.0L73.9 150.7L74.4 150.4L74.9 152.3L75.4 149.7L75.9 149.8L76.4 150.1L76.9 149.2L77.4 148.2L77.9 150.7L78.4 149.1L78.9 149.3L79.4 149.4L79.9 148.8L80.4 148.7L80.9 149.7L81.4 151.4L81.9 150.1L82.4 150.0L82.9 148.2L83.4 149.4L83.9 148.4L84.4 150.0L84.9 149.2L85.4 149.4L85.9 149.3L86.4 148.9L86.9 148.1L87.4 149.8L87.9 148.2L88.4 148.3L88.9 149.0L89.4 148.7L89.9 149.5L90.4 150.1L90.9 149.4L91.4 149.4L91.9 149.3L92.4 149.9L92.9 147.7L93.4 149.5L93.9 148.5L94.4 148.2L94.9 149.2L95.4 148.9L95.9 149.7L96.4 150.1L96.9 147.3L97.4 149.1L97.9 150.7L98.4 149.9L98.9 150.3L99.4 149.3L99.9 148.0L100.4 148.3L100.9 149.7L101.4 149.9L101.9 148.6L102.4 148.9L102.9 149.4L103.4 147.7L103.9 148.9L104.4 150.4L104.9 150.9L105.4 149.0L105.9 150.6L106.4 148.7L106.9 148.5L107.4 147.3L107.9 149.9L108.4 148.8L108.9 151.0L109.4 149.4L109.9 149.3L110.4 147.7L110.9 150.3L111.4 148.8L111.9 149.0L112.4 147.3L112.9 149.8L113.4 149.9L113.9 148.6L114.4 149.2L114.9 149.4L115.4 149.8L115.9 149.2L116.4 150.5L116.9 148.9L117.4 148.6L117.9 148.7L118.4 147.0L118.9 148.4L119.4 149.9L119.9 149.3L120.4 148.4L120.9 149.3L121.4 147.4L121.9 148.8L122.4 149.5L122.9 149.6L123.4 148.4L123.9 149.8L124.4 150.5L124.9 148.7L125.4 149.6L125.9 147.8L126.4 147.5L126.9 149.5L127.4 149.1L127.9 149.2L128.4 148.6L128.9 148.8L129.4 149.7L129.9 150.4L130.4 148.8L130.9 147.7L131.4 150.0L131.9 149.5L132.4 149.6L132.9 149.2L133.4 150.9L133.9 149.1L134.4 149.4L134.9 147.5L135.4 148.5L135.9 148.5L136.4 149.0L136.9 149.3L137.4 148.4L137.9 150.4L138.4 148.1L138.9 148.6L139.4 149.2L139.9 148.0L140.4 149.5L140.9 149.5L141.4 148.8L141.9 150.5L142.4 149.1L142.9 149.2L143.4 148.2L143.9 147.6L144.4 148.5L144.9 148.7L145.4 148.6L145.9 149.6L146.4 147.1L146.9 148.1L147.4 147.5L147.9 150.1L148.4 148.5L148.9 148.6L149.4 148.1L149.9 149.7L150.4 148.6L150.9 149.1L151.4 147.3L151.9 149.9L152.4 149.3L152.9 149.4L153.4 150.0L153.9 148.8L154.4 148.8L154.9 149.5L155.4 149.3L155.9 148.8L156.4 149.0L156.9 148.6"/><path d="M49.5 188.9L50.0 188.8L50.5 188.7L51.0 188.7L51.5 188.4L52.0 188.5L52.5 188.8L53.0 188.6L53.5 189.1L54.0 188.5L54.5 188.0L55.0 188.5L55.5 188.7L56.0 188.7L56.5 188.6L57.0 188.4L57.5 189.0L58.0 188.4L58.5 188.8L59.0 188.5L59.5 188.3L60.0 188.9L60.5 188.0L61.0 188.4L61.5 188.7L62.0 188.5L62.5 188.8L63.0 188.6L63.5 188.5L64.0 189.1M64.4 171.4L64.9 169.5L65.4 167.3L65.9 166.2L66.4 166.0L66.9 165.1L67.4 164.0L67.9 162.9L68.4 163.3L68.9 161.4L69.4 161.9L69.9 161.7L70.4 161.1L70.9 161.6L71.4 160.9L71.9 160.7L72.4 162.3L72.9 161.5L73.4 161.8L73.9 161.0L74.4 161.5L74.9 161.4L75.4 161.6L75.9 162.3L76.4 160.6L76.9 160.9L77.4 160.7L77.9 158.5L78.4 159.8L78.9 160.7L79.4 161.1L79.9 160.3L80.4 161.5L80.9 161.5L81.4 160.4L81.9 161.6L82.4 161.8L82.9 161.0L83.4 160.1L83.9 161.7L84.4 160.6L84.9 160.5L85.4 160.8L85.9 160.4L86.4 161.4L86.9 161.2L87.4 161.5L87.9 161.1L88.4 160.2L88.9 160.6L89.4 161.3L89.9 160.4L90.4 162.6L90.9 160.5L91.4 160.3L91.9 161.4L92.4 161.2L92.9 160.7L93.4 160.6L93.9 161.0L94.4 161.2L94.9 161.2L95.4 160.5L95.9 161.0L96.4 161.2L96.9 161.2L97.4 158.7L97.9 160.1L98.4 160.2L98.9 160.6L99.4 160.8L99.9 161.3L100.4 161.1L100.9 160.6L101.4 160.7L101.9 161.8L102.4 160.3L102.9 160.9L103.4 161.7L103.9 160.9L104.4 159.4L104.9 160.9L105.4 160.4L105.9 160.6L106.4 161.4L106.9 161.0L107.4 160.5L107.9 161.3L108.4 161.0L108.9 160.8L109.4 160.9L109.9 160.9L110.4 160.5L110.9 160.4L111.4 160.7L111.9 160.1L112.4 159.9L112.9 161.5L113.4 160.5L113.9 160.7L114.4 160.6L114.9 160.7L115.4 160.7L115.9 160.7L116.4 160.2L116.9 161.3L117.4 160.3L117.9 161.4L118.4 159.5L118.9 160.0L119.4 161.3L119.9 160.6L120.4 160.3L120.9 160.9L121.4 160.0L121.9 160.7L122.4 159.3L122.9 160.4L123.4 160.3L123.9 161.1L124.4 161.3L124.9 160.1L125.4 161.7L125.9 160.3L126.4 159.4L126.9 159.2L127.4 161.7L127.9 160.6L128.4 160.3L128.9 160.2L129.4 160.0L129.9 161.6L130.4 160.6L130.9 161.9L131.4 160.6L131.9 159.2L132.4 161.2L132.9 160.5L133.4 160.5L133.9 161.7L134.4 160.5L134.9 161.5L135.4 160.7L135.9 160.2L136.4 161.0L136.9 160.3L137.4 161.5L137.9 161.3L138.4 160.7L138.9 161.1L139.4 161.1L139.9 160.5L140.4 161.3L140.9 160.6L141.4 161.1L141.9 160.1L142.4 160.8L142.9 161.0L143.4 160.2L143.9 160.4L144.4 160.4L144.9 161.2L145.4 160.2L145.9 161.0L146.4 161.7L146.9 160.9L147.4 159.7L147.9 160.8L148.4 161.4L148.9 160.5L149.4 161.4L149.9 161.1L150.4 161.0L150.9 160.5L151.4 160.4L151.9 160.5L152.4 160.7L152.9 161.0L153.4 161.0L153.9 160.5L154.4 160.7L154.9 161.0L155.4 159.7L155.9 160.2L156.4 160.2L156.9 160.6"/><path d="M49.5 188.7L50.0 188.8L50.5 188.6L51.0 188.4L51.5 188.5L52.0 188.6L52.5 188.9L53.0 189.0L53.5 188.7L54.0 188.4L54.5 188.4L55.0 188.6L55.5 188.9L56.0 188.7L56.5 188.6L57.0 188.4L57.5 188.8L58.0 188.7L58.5 188.6L59.0 188.6L59.5 189.0L60.0 188.6L60.5 189.0L61.0 188.9L61.5 188.6L62.0 188.8L62.5 188.6L63.0 188.4L63.5 188.5L64.0 188.4M64.4 171.9L64.9 170.4L65.4 169.7L65.9 169.1L66.4 166.2L66.9 167.8L67.4 166.2L67.9 167.1L68.4 166.2L68.9 166.7L69.4 167.3L69.9 165.3L70.4 166.4L70.9 166.2L71.4 165.0L71.9 166.5L72.4 166.1L72.9 165.8L73.4 165.6L73.9 168.0L74.4 165.8L74.9 164.9L75.4 165.5L75.9 165.8L76.4 165.8L76.9 166.0L77.4 165.4L77.9 166.3L78.4 165.7L78.9 165.2L79.4 165.5L79.9 165.8L80.4 166.5L80.9 166.3L81.4 165.8L81.9 166.0L82.4 166.1L82.9 167.2L83.4 165.6L83.9 166.3L84.4 166.4L84.9 165.4L85.4 166.1L85.9 166.1L86.4 165.7L86.9 166.3L87.4 166.6L87.9 166.7L88.4 165.9L88.9 166.1L89.4 167.4L89.9 165.3L90.4 166.1L90.9 166.5L91.4 166.1L91.9 166.4L92.4 166.1L92.9 166.5L93.4 166.8L93.9 165.9L94.4 166.1L94.9 166.0L95.4 165.8L95.9 166.0L96.4 165.3L96.9 166.4L97.4 167.0L97.9 167.0L98.4 166.8L98.9 165.4L99.4 166.9L99.9 165.6L100.4 166.0L100.9 167.1L101.4 165.4L101.9 166.5L102.4 166.2L102.9 165.9L103.4 165.5L103.9 166.3L104.4 165.7L104.9 166.6L105.4 166.7L105.9 165.2L106.4 165.7L106.9 165.8L107.4 165.3L107.9 165.3L108.4 166.1L108.9 165.9L109.4 165.0L109.9 165.7L110.4 166.3L110.9 165.3L111.4 165.4L111.9 167.0L112.4 166.8L112.9 165.0L113.4 165.2L113.9 166.2L114.4 165.3L114.9 165.8L115.4 165.7L115.9 166.3L116.4 164.5L116.9 164.7L117.4 165.3L117.9 166.6L118.4 165.9L118.9 165.0L119.4 166.3L119.9 166.4L120.4 165.9L120.9 165.8L121.4 166.3L121.9 166.7L122.4 166.1L122.9 166.3L123.4 166.0L123.9 165.8L124.4 165.5L124.9 166.2L125.4 165.8L125.9 165.9L126.4 166.6L126.9 166.3L127.4 166.5L127.9 165.1L128.4 166.3L128.9 165.6L129.4 165.5L129.9 165.5L130.4 166.7L130.9 166.5L131.4 165.6L131.9 165.3L132.4 166.0L132.9 165.7L133.4 167.0L133.9 165.1L134.4 164.9L134.9 165.8L135.4 166.0L135.9 166.1L136.4 166.5L136.9 167.2L137.4 165.8L137.9 165.7L138.4 164.9L138.9 166.1L139.4 166.5L139.9 165.8L140.4 166.7L140.9 166.0L141.4 166.9L141.9 166.2L142.4 165.4L142.9 165.6L143.4 165.1L143.9 165.0L144.4 166.2L144.9 166.5L145.4 167.2L145.9 166.0L146.4 165.9L146.9 165.3L147.4 166.6L147.9 166.2L148.4 165.6L148.9 166.4L149.4 166.3L149.9 164.9L150.4 166.4L150.9 166.1L151.4 165.8L151.9 165.7L152.4 167.0L152.9 166.9L153.4 167.1L153.9 165.3L154.4 165.6L154.9 166.5L155.4 165.3L155.9 165.6L156.4 164.9L156.9 167.1"/><path d="M49.5 188.5L50.0 188.5L50.5 188.4L51.0 188.2L51.5 188.5L52.0 188.7L52.5 188.5L53.0 188.6L53.5 188.1L54.0 188.5L54.5 188.6L55.0 188.3L55.5 188.2L56.0 188.7L56.5 188.4L57.0 188.7L57.5 188.5L58.0 188.8L58.5 188.5L59.0 188.2L59.5 188.6L60.0 188.5L60.5 188.8L61.0 188.5L61.5 188.5L62.0 188.8L62.5 188.9L63.0 188.8L63.5 188.9L64.0 188.7M64.4 173.0L64.9 172.7L65.4 172.1L65.9 171.8L66.4 171.7L66.9 172.9L67.4 171.6L67.9 171.4L68.4 171.3L68.9 171.5L69.4 171.6L69.9 170.9L70.4 170.4L70.9 171.7L71.4 170.6L71.9 171.6L72.4 171.6L72.9 172.1L73.4 172.4L73.9 171.7L74.4 171.2L74.9 170.9L75.4 171.1L75.9 171.5L76.4 170.4L76.9 171.5L77.4 171.5L77.9 171.9L78.4 171.3L78.9 171.6L79.4 171.1L79.9 171.2L80.4 170.5L80.9 171.6L81.4 172.4L81.9 171.6L82.4 171.7L82.9 171.0L83.4 172.3L83.9 171.1L84.4 171.9L84.9 171.6L85.4 171.0L85.9 172.1L86.4 171.5L86.9 171.6L87.4 171.7L87.9 171.5L88.4 171.3L88.9 171.8L89.4 171.3L89.9 171.5L90.4 171.1L90.9 170.7L91.4 171.1L91.9 171.2L92.4 171.5L92.9 172.2L93.4 170.6L93.9 171.6L94.4 170.3L94.9 170.9L95.4 171.2L95.9 170.3L96.4 170.5L96.9 171.6L97.4 171.5L97.9 171.4L98.4 171.1L98.9 172.7L99.4 171.4L99.9 171.0L100.4 172.4L100.9 171.8L101.4 171.3L101.9 172.2L102.4 171.6L102.9 171.9L103.4 171.6L103.9 170.9L104.4 172.0L104.9 171.6L105.4 170.9L105.9 171.1L106.4 172.0L106.9 171.3L107.4 171.5L107.9 171.9L108.4 171.6L108.9 170.7L109.4 171.9L109.9 172.0L110.4 172.0L110.9 172.4L111.4 171.7L111.9 171.9L112.4 172.4L112.9 171.3L113.4 172.5L113.9 172.5L114.4 171.9L114.9 172.5L115.4 172.0L115.9 171.0L116.4 172.1L116.9 171.7L117.4 171.7L117.9 171.6L118.4 172.2L118.9 171.8L119.4 171.1L119.9 171.8L120.4 171.9L120.9 171.1L121.4 171.3L121.9 171.3L122.4 171.2L122.9 171.7L123.4 172.1L123.9 172.5L124.4 172.2L124.9 172.1L125.4 172.1L125.9 172.2L126.4 171.3L126.9 171.9L127.4 171.7L127.9 171.4L128.4 171.2L128.9 171.2L129.4 171.4L129.9 170.8L130.4 171.8L130.9 171.5L131.4 171.6L131.9 171.7L132.4 171.9L132.9 171.2L133.4 171.4L133.9 170.6L134.4 170.3L134.9 170.4L135.4 172.3L135.9 170.5L136.4 171.8L136.9 172.3L137.4 171.2L137.9 172.4L138.4 172.5L138.9 172.0L139.4 172.8L139.9 171.8L140.4 171.1L140.9 171.8L141.4 171.3L141.9 170.8L142.4 170.8L142.9 172.8L143.4 171.2L143.9 171.5L144.4 171.1L144.9 171.6L145.4 171.4L145.9 171.3L146.4 170.8L146.9 170.7L147.4 171.1L147.9 171.7L148.4 172.6L148.9 172.1L149.4 172.5L149.9 171.8L150.4 171.5L150.9 170.8L151.4 171.5L151.9 170.3L152.4 171.3L152.9 172.4L153.4 171.7L153.9 172.1L154.4 171.3L154.9 170.8L155.4 171.2L155.9 171.3L156.4 172.2L156.9 172.6"/><path d="M49.5 188.3L50.0 188.6L50.5 189.1L51.0 188.2L51.5 188.8L52.0 188.6L52.5 188.6L53.0 188.5L53.5 188.5L54.0 188.9L54.5 188.8L55.0 188.4L55.5 189.0L56.0 188.3L56.5 188.8L57.0 188.7L57.5 188.9L58.0 188.7L58.5 188.9L59.0 188.6L59.5 188.9L60.0 188.7L60.5 189.2L61.0 188.4L61.5 188.9L62.0 188.7L62.5 188.7L63.0 188.5L63.5 188.7L64.0 188.2M64.4 173.9L64.9 174.8L65.4 173.4L65.9 175.0L66.4 174.0L66.9 174.2L67.4 174.1L67.9 174.3L68.4 173.9L68.9 173.8L69.4 174.0L69.9 174.6L70.4 174.7L70.9 174.7L71.4 174.2L71.9 173.9L72.4 173.1L72.9 174.4L73.4 174.5L73.9 173.8L74.4 174.5L74.9 174.8L75.4 174.1L75.9 174.6L76.4 174.2L76.9 173.1L77.4 173.8L77.9 173.8L78.4 174.3L78.9 173.6L79.4 173.8L79.9 173.5L80.4 174.0L80.9 174.1L81.4 174.6L81.9 174.5L82.4 174.1L82.9 174.2L83.4 174.1L83.9 174.1L84.4 174.9L84.9 172.7L85.4 173.9L85.9 174.2L86.4 174.7L86.9 173.4L87.4 174.2L87.9 174.5L88.4 173.8L88.9 173.0L89.4 173.8L89.9 173.4L90.4 174.4L90.9 173.6L91.4 175.0L91.9 174.1L92.4 173.6L92.9 173.8L93.4 173.4L93.9 174.3L94.4 174.9L94.9 173.9L95.4 174.6L95.9 173.5L96.4 174.2L96.9 175.3L97.4 173.3L97.9 174.7L98.4 174.7L98.9 173.0L99.4 173.3L99.9 173.5L100.4 174.6L100.9 173.8L101.4 174.0L101.9 174.4L102.4 174.1L102.9 174.2L103.4 173.9L103.9 174.7L104.4 173.6L104.9 175.0L105.4 173.9L105.9 173.6L106.4 174.4L106.9 174.3L107.4 173.0L107.9 174.2L108.4 173.3L108.9 173.6L109.4 174.5L109.9 173.6L110.4 174.2L110.9 173.8L111.4 175.1L111.9 174.0L112.4 173.4L112.9 173.4L113.4 173.5L113.9 174.1L114.4 174.0L114.9 174.6L115.4 174.1L115.9 174.1L116.4 174.2L116.9 174.0L117.4 174.2L117.9 174.5L118.4 174.5L118.9 173.7L119.4 173.1L119.9 173.6L120.4 174.2L120.9 172.7L121.4 173.8L121.9 174.3L122.4 173.7L122.9 173.4L123.4 175.0L123.9 174.8L124.4 173.9L124.9 174.8L125.4 174.7L125.9 173.4L126.4 175.5L126.9 173.5L127.4 173.9L127.9 173.4L128.4 174.1L128.9 173.3L129.4 174.0L129.9 174.6L130.4 174.1L130.9 173.9L131.4 174.9L131.9 173.5L132.4 174.6L132.9 173.9L133.4 174.1L133.9 174.0L134.4 174.1L134.9 174.0L135.4 173.6L135.9 173.7L136.4 174.3L136.9 174.0L137.4 173.4L137.9 173.6L138.4 173.6L138.9 174.0L139.4 174.1L139.9 174.1L140.4 173.7L140.9 174.0L141.4 173.3L141.9 172.4L142.4 174.0L142.9 173.1L143.4 173.5L143.9 173.4L144.4 174.4L144.9 173.4L145.4 174.2L145.9 173.7L146.4 173.3L146.9 173.2L147.4 174.3L147.9 174.2L148.4 174.4L148.9 175.0L149.4 174.2L149.9 174.2L150.4 173.9L150.9 174.1L151.4 173.8L151.9 173.5L152.4 175.1L152.9 173.0L153.4 174.1L153.9 174.3L154.4 174.1L154.9 173.5L155.4 173.9L155.9 173.8L156.4 173.4L156.9 174.0"/></g><g fill="none" stroke="#0a0a0a" stroke-width="1.3" stroke-linejoin="round"><path d="M157.3 188.2L157.8 188.3L158.3 188.0L158.8 187.8L159.3 188.2L159.8 188.0L160.3 187.7L160.8 188.4L161.3 188.2L161.8 188.3L162.3 187.9L162.8 188.0L163.3 187.9L163.8 187.9L164.3 188.2L164.8 187.9L165.3 188.3L165.8 188.3L166.3 188.8L166.8 187.7L167.3 188.4L167.8 188.1L168.3 188.1L168.8 187.7L169.3 188.0L169.8 188.4L170.3 188.1L170.8 188.2L171.3 188.0L171.8 188.5L172.3 188.1L172.8 187.5L173.3 187.9L173.8 187.5L174.3 187.1L174.8 187.9L175.3 188.5L175.8 188.1L176.3 187.7L176.8 187.8L177.3 188.4L177.8 188.1L178.3 188.1L178.8 188.1L179.3 188.1L179.8 188.3L180.3 188.2L180.8 188.1L181.3 187.8L181.8 188.2L182.3 187.9L182.8 188.4L183.3 187.7L183.8 188.0L184.3 188.1L184.8 187.7L185.3 188.6L185.8 188.5L186.3 187.9L186.8 188.3L187.3 188.2L187.8 187.3L188.3 188.1L188.8 188.0L189.3 188.1L189.8 187.7L190.3 188.0L190.8 188.0L191.3 188.4L191.8 188.2L192.3 188.0L192.8 188.5L193.3 187.9L193.8 187.9L194.3 187.5L194.8 188.5L195.3 188.3L195.8 188.3L196.3 188.2L196.8 188.1L197.3 188.1L197.8 188.0L198.3 188.0L198.8 188.1L199.3 188.5L199.8 188.2L200.3 188.0L200.8 187.9L201.3 187.8L201.8 188.5L202.3 188.2L202.8 188.1L203.3 187.9L203.8 187.7L204.3 188.0L204.8 188.3L205.3 187.9L205.8 188.0L206.3 188.0L206.8 188.1L207.3 187.6L207.8 188.0L208.3 187.8L208.8 188.3L209.3 187.8L209.8 188.2L210.3 188.5L210.8 187.9L211.3 187.8L211.8 188.1L212.3 188.0L212.8 187.7L213.3 188.2L213.8 188.6L214.3 187.9L214.8 188.0L215.3 187.7L215.8 188.1L216.3 187.6L216.8 187.7L217.3 188.4L217.8 187.7L218.3 188.3L218.8 188.5L219.3 188.1L219.8 188.2L220.3 188.6L220.8 188.0L221.3 187.8L221.8 187.6L222.3 188.0L222.8 188.5L223.3 188.3L223.8 187.7L224.3 187.8L224.8 187.9L225.3 188.1L225.8 188.0L226.3 188.1L226.8 188.1L227.3 187.9L227.8 188.0L228.3 188.1L228.8 188.0L229.3 188.2L229.8 188.6L230.3 188.2L230.8 188.0L231.3 187.5L231.8 188.1L232.3 187.4L232.8 187.6L233.3 188.3L233.8 188.2L234.3 188.0L234.8 187.5L235.3 187.9L235.8 187.8L236.3 188.2L236.8 188.7L237.3 188.1L237.8 187.8L238.3 187.7L238.8 188.0L239.3 188.0L239.8 187.7L240.3 188.0L240.8 187.7L241.3 188.3L241.8 188.3L242.3 188.3L242.8 187.9L243.3 188.2L243.8 188.0L244.3 187.9L244.8 187.9L245.3 187.6L245.8 187.6L246.3 188.2L246.8 187.9L247.3 188.1L247.8 188.3L248.3 187.5L248.8 187.8"/><path d="M157.3 187.5L157.8 187.7L158.3 187.7L158.8 188.0L159.3 187.8L159.8 187.6L160.3 187.6L160.8 187.7L161.3 187.3L161.8 187.5L162.3 187.7L162.8 188.1L163.3 187.4L163.8 187.4L164.3 187.5L164.8 187.9L165.3 187.4L165.8 187.9L166.3 187.2L166.8 187.4L167.3 187.4L167.8 187.7L168.3 187.8L168.8 187.0L169.3 187.2L169.8 187.5L170.3 187.2L170.8 187.0L171.3 187.8L171.8 187.6L172.3 187.6L172.8 187.3L173.3 187.7L173.8 187.4L174.3 187.8L174.8 187.2L175.3 187.2L175.8 187.5L176.3 187.2L176.8 187.6L177.3 187.5L177.8 187.2L178.3 187.5L178.8 187.3L179.3 187.7L179.8 187.2L180.3 187.3L180.8 187.8L181.3 188.1L181.8 188.0L182.3 187.4L182.8 187.5L183.3 187.9L183.8 187.4L184.3 187.1L184.8 187.5L185.3 187.6L185.8 187.2L186.3 186.9L186.8 187.0L187.3 187.6L187.8 187.2L188.3 187.4L188.8 187.5L189.3 187.6L189.8 187.3L190.3 187.6L190.8 187.2L191.3 187.3L191.8 187.1L192.3 187.8L192.8 187.4L193.3 187.2L193.8 187.3L194.3 187.3L194.8 187.6L195.3 186.9L195.8 187.1L196.3 187.3L196.8 188.2L197.3 187.7L197.8 187.4L198.3 187.6L198.8 188.0L199.3 187.3L199.8 187.3L200.3 187.8L200.8 187.6L201.3 187.6L201.8 187.3L202.3 188.0L202.8 187.9L203.3 187.6L203.8 187.6L204.3 186.8L204.8 187.6L205.3 187.4L205.8 187.5L206.3 187.6L206.8 187.3L207.3 186.9L207.8 187.5L208.3 187.2L208.8 187.3L209.3 187.2L209.8 187.3L210.3 186.7L210.8 187.8L211.3 187.5L211.8 187.7L212.3 188.0L212.8 187.4L213.3 186.9L213.8 187.1L214.3 187.0L214.8 187.3L215.3 187.4L215.8 186.8L216.3 187.5L216.8 187.0L217.3 187.5L217.8 187.4L218.3 187.3L218.8 187.4L219.3 187.2L219.8 187.2L220.3 186.9L220.8 187.4L221.3 188.0L221.8 188.0L222.3 187.8L222.8 187.6L223.3 187.2L223.8 187.8L224.3 187.4L224.8 187.4L225.3 187.3L225.8 187.4L226.3 187.3L226.8 187.4L227.3 187.1L227.8 187.3L228.3 188.1L228.8 187.4L229.3 187.3L229.8 187.6L230.3 187.6L230.8 187.1L231.3 187.3L231.8 187.7L232.3 187.5L232.8 187.4L233.3 187.9L233.8 187.2L234.3 187.4L234.8 187.2L235.3 187.8L235.8 186.8L236.3 187.2L236.8 187.2L237.3 187.6L237.8 187.6L238.3 187.8L238.8 186.9L239.3 187.6L239.8 187.3L240.3 187.2L240.8 187.6L241.3 187.1L241.8 186.8L242.3 187.3L242.8 187.0L243.3 187.2L243.8 187.5L244.3 187.5L244.8 187.9L245.3 187.3L245.8 186.9L246.3 187.2L246.8 187.1L247.3 187.0L247.8 187.5L248.3 187.2L248.8 186.8"/><path d="M157.3 186.4L157.8 186.1L158.3 186.1L158.8 186.3L159.3 186.4L159.8 185.9L160.3 185.8L160.8 186.0L161.3 185.8L161.8 186.1L162.3 186.9L162.8 186.1L163.3 186.6L163.8 186.0L164.3 186.5L164.8 186.3L165.3 186.4L165.8 186.6L166.3 187.0L166.8 186.5L167.3 186.5L167.8 186.2L168.3 186.6L168.8 186.4L169.3 186.7L169.8 186.5L170.3 187.0L170.8 185.9L171.3 186.4L171.8 186.7L172.3 186.4L172.8 186.2L173.3 186.4L173.8 186.1L174.3 186.5L174.8 187.2L175.3 186.8L175.8 186.2L176.3 186.2L176.8 186.4L177.3 186.8L177.8 186.3L178.3 186.3L178.8 186.8L179.3 186.8L179.8 186.4L180.3 186.2L180.8 186.1L181.3 186.3L181.8 185.9L182.3 186.8L182.8 186.3L183.3 186.7L183.8 187.1L184.3 186.9L184.8 186.2L185.3 186.8L185.8 186.9L186.3 186.3L186.8 186.3L187.3 186.5L187.8 186.1L188.3 187.0L188.8 185.8L189.3 186.2L189.8 186.5L190.3 186.5L190.8 186.6L191.3 186.6L191.8 186.5L192.3 186.9L192.8 185.9L193.3 186.6L193.8 186.3L194.3 186.6L194.8 186.6L195.3 186.3L195.8 186.4L196.3 186.8L196.8 186.7L197.3 186.4L197.8 187.2L198.3 187.3L198.8 186.1L199.3 186.7L199.8 187.3L200.3 186.8L200.8 186.6L201.3 186.5L201.8 186.4L202.3 186.5L202.8 186.4L203.3 186.8L203.8 186.4L204.3 186.4L204.8 186.2L205.3 186.6L205.8 186.3L206.3 186.5L206.8 186.9L207.3 186.7L207.8 186.7L208.3 186.7L208.8 186.6L209.3 186.5L209.8 186.5L210.3 186.8L210.8 186.2L211.3 187.0L211.8 186.6L212.3 186.4L212.8 186.4L213.3 186.4L213.8 186.6L214.3 186.4L214.8 186.9L215.3 186.3L215.8 185.9L216.3 186.4L216.8 186.0L217.3 186.6L217.8 186.9L218.3 186.8L218.8 186.2L219.3 186.4L219.8 187.1L220.3 186.7L220.8 186.6L221.3 186.9L221.8 187.3L222.3 187.0L222.8 186.6L223.3 186.7L223.8 186.8L224.3 186.4L224.8 186.3L225.3 186.6L225.8 186.3L226.3 186.6L226.8 186.6L227.3 187.3L227.8 186.3L228.3 186.6L228.8 186.5L229.3 186.7L229.8 186.9L230.3 186.4L230.8 186.3L231.3 186.1L231.8 186.3L232.3 186.8L232.8 186.6L233.3 186.3L233.8 186.5L234.3 186.6L234.8 186.7L235.3 186.4L235.8 186.5L236.3 186.0L236.8 186.2L237.3 187.1L237.8 185.9L238.3 186.5L238.8 186.7L239.3 186.5L239.8 186.4L240.3 186.6L240.8 186.6L241.3 186.6L241.8 186.0L242.3 186.6L242.8 186.3L243.3 186.4L243.8 186.7L244.3 186.8L244.8 186.9L245.3 186.4L245.8 186.9L246.3 187.0L246.8 186.9L247.3 187.0L247.8 186.6L248.3 186.5L248.8 186.8"/><path d="M157.3 184.9L157.8 184.6L158.3 185.1L158.8 185.6L159.3 184.9L159.8 185.2L160.3 184.9L160.8 184.8L161.3 184.8L161.8 185.7L162.3 185.9L162.8 185.4L163.3 185.1L163.8 185.5L164.3 185.2L164.8 185.6L165.3 185.4L165.8 185.4L166.3 185.5L166.8 185.2L167.3 185.3L167.8 184.9L168.3 185.3L168.8 185.0L169.3 185.4L169.8 185.2L170.3 185.5L170.8 185.6L171.3 185.0L171.8 185.2L172.3 185.2L172.8 185.7L173.3 186.0L173.8 185.8L174.3 185.4L174.8 186.0L175.3 185.1L175.8 186.0L176.3 185.3L176.8 184.7L177.3 186.3L177.8 186.0L178.3 185.3L178.8 185.6L179.3 185.5L179.8 185.6L180.3 185.1L180.8 185.4L181.3 185.7L181.8 185.7L182.3 186.0L182.8 185.6L183.3 186.3L183.8 185.4L184.3 185.7L184.8 185.0L185.3 185.2L185.8 186.0L186.3 185.3L186.8 185.8L187.3 185.6L187.8 185.3L188.3 185.5L188.8 185.5L189.3 185.5L189.8 185.9L190.3 185.9L190.8 185.5L191.3 185.4L191.8 185.7L192.3 185.6L192.8 186.0L193.3 186.5L193.8 185.9L194.3 185.7L194.8 185.6L195.3 185.4L195.8 185.4L196.3 185.4L196.8 185.6L197.3 185.6L197.8 185.9L198.3 185.6L198.8 185.6L199.3 185.3L199.8 186.2L200.3 185.9L200.8 186.2L201.3 185.9L201.8 186.2L202.3 185.6L202.8 185.9L203.3 186.5L203.8 185.3L204.3 186.1L204.8 186.2L205.3 185.8L205.8 185.9L206.3 186.1L206.8 185.5L207.3 185.8L207.8 185.5L208.3 185.5L208.8 185.5L209.3 185.7L209.8 185.8L210.3 185.9L210.8 185.3L211.3 186.3L211.8 186.1L212.3 186.0L212.8 185.6L213.3 185.7L213.8 185.9L214.3 185.9L214.8 185.2L215.3 186.0L215.8 186.6L216.3 185.2L216.8 186.1L217.3 185.9L217.8 185.7L218.3 186.2L218.8 185.4L219.3 185.8L219.8 186.2L220.3 185.7L220.8 185.6L221.3 185.8L221.8 185.6L222.3 186.2L222.8 185.5L223.3 186.0L223.8 185.4L224.3 186.0L224.8 185.7L225.3 185.0L225.8 185.8L226.3 185.4L226.8 185.6L227.3 186.2L227.8 185.4L228.3 185.4L228.8 186.2L229.3 185.8L229.8 186.2L230.3 185.9L230.8 185.5L231.3 185.8L231.8 186.2L232.3 186.1L232.8 185.8L233.3 185.8L233.8 185.7L234.3 185.6L234.8 186.4L235.3 185.8L235.8 185.4L236.3 185.6L236.8 186.0L237.3 186.0L237.8 185.7L238.3 185.6L238.8 185.8L239.3 185.3L239.8 185.4L240.3 186.0L240.8 185.6L241.3 185.9L241.8 186.2L242.3 186.0L242.8 185.8L243.3 186.4L243.8 186.0L244.3 185.7L244.8 186.0L245.3 185.9L245.8 185.5L246.3 185.8L246.8 185.7L247.3 185.2L247.8 185.7L248.3 185.7L248.8 185.7"/><path d="M157.3 183.8L157.8 184.5L158.3 184.0L158.8 183.7L159.3 184.2L159.8 183.6L160.3 184.4L160.8 184.4L161.3 183.9L161.8 183.9L162.3 184.2L162.8 184.2L163.3 183.9L163.8 184.4L164.3 183.6L164.8 184.1L165.3 184.2L165.8 184.2L166.3 184.4L166.8 184.0L167.3 184.6L167.8 184.3L168.3 184.2L168.8 184.0L169.3 184.1L169.8 184.6L170.3 184.2L170.8 184.5L171.3 184.8L171.8 184.8L172.3 185.0L172.8 184.5L173.3 184.2L173.8 184.9L174.3 184.7L174.8 184.9L175.3 184.6L175.8 185.0L176.3 184.9L176.8 184.8L177.3 184.8L177.8 184.8L178.3 184.7L178.8 184.7L179.3 185.0L179.8 184.5L180.3 185.2L180.8 184.7L181.3 185.0L181.8 184.7L182.3 184.6L182.8 185.3L183.3 184.6L183.8 184.3L184.3 184.5L184.8 184.6L185.3 185.4L185.8 184.8L186.3 185.0L186.8 184.5L187.3 184.9L187.8 185.0L188.3 185.3L188.8 184.6L189.3 185.0L189.8 184.9L190.3 184.5L190.8 184.8L191.3 184.7L191.8 184.1L192.3 185.0L192.8 185.0L193.3 184.7L193.8 184.4L194.3 185.3L194.8 184.9L195.3 185.1L195.8 185.2L196.3 184.7L196.8 185.1L197.3 184.8L197.8 184.8L198.3 184.8L198.8 184.8L199.3 185.2L199.8 184.9L200.3 184.8L200.8 184.8L201.3 185.0L201.8 184.6L202.3 184.7L202.8 184.8L203.3 184.7L203.8 184.8L204.3 184.7L204.8 185.5L205.3 185.3L205.8 185.0L206.3 184.9L206.8 185.5L207.3 185.0L207.8 184.9L208.3 185.0L208.8 185.0L209.3 185.3L209.8 184.9L210.3 185.5L210.8 184.6L211.3 185.1L211.8 184.6L212.3 185.4L212.8 184.8L213.3 184.9L213.8 185.2L214.3 185.3L214.8 184.6L215.3 184.8L215.8 184.5L216.3 185.0L216.8 184.9L217.3 184.8L217.8 184.7L218.3 184.8L218.8 184.7L219.3 185.1L219.8 185.4L220.3 184.3L220.8 184.9L221.3 184.8L221.8 185.1L222.3 184.6L222.8 184.9L223.3 184.6L223.8 185.1L224.3 185.0L224.8 184.9L225.3 185.1L225.8 184.9L226.3 184.5L226.8 185.1L227.3 185.0L227.8 184.9L228.3 185.2L228.8 185.3L229.3 184.6L229.8 184.7L230.3 185.4L230.8 185.4L231.3 184.7L231.8 184.6L232.3 184.8L232.8 184.8L233.3 184.5L233.8 185.0L234.3 184.6L234.8 184.6L235.3 185.2L235.8 184.8L236.3 185.0L236.8 185.2L237.3 185.2L237.8 184.9L238.3 185.0L238.8 184.7L239.3 185.5L239.8 185.2L240.3 184.7L240.8 185.0L241.3 185.2L241.8 185.1L242.3 185.5L242.8 185.4L243.3 184.8L243.8 185.0L244.3 184.6L244.8 185.1L245.3 185.0L245.8 185.8L246.3 185.0L246.8 184.4L247.3 184.8L247.8 185.0L248.3 184.6L248.8 184.7"/><path d="M157.3 177.2L157.8 177.5L158.3 177.4L158.8 177.5L159.3 177.6L159.8 176.9L160.3 178.0L160.8 178.3L161.3 178.0L161.8 178.0L162.3 177.3L162.8 177.8L163.3 177.6L163.8 177.7L164.3 178.3L164.8 177.8L165.3 178.0L165.8 177.6L166.3 178.1L166.8 178.2L167.3 178.1L167.8 178.1L168.3 178.9L168.8 178.0L169.3 178.1L169.8 178.2L170.3 178.9L170.8 179.2L171.3 178.7L171.8 178.4L172.3 178.6L172.8 179.1L173.3 178.5L173.8 179.3L174.3 179.3L174.8 178.9L175.3 179.1L175.8 179.2L176.3 179.5L176.8 178.7L177.3 179.4L177.8 179.0L178.3 178.9L178.8 179.2L179.3 179.2L179.8 179.0L180.3 178.8L180.8 179.0L181.3 179.8L181.8 180.0L182.3 179.6L182.8 179.8L183.3 179.3L183.8 179.5L184.3 179.6L184.8 179.2L185.3 179.3L185.8 179.7L186.3 179.6L186.8 179.4L187.3 179.8L187.8 179.7L188.3 180.1L188.8 179.8L189.3 179.7L189.8 179.9L190.3 179.8L190.8 179.7L191.3 179.8L191.8 180.2L192.3 180.2L192.8 180.4L193.3 179.5L193.8 179.9L194.3 179.9L194.8 180.1L195.3 180.0L195.8 180.0L196.3 180.4L196.8 180.2L197.3 179.8L197.8 180.6L198.3 180.5L198.8 180.1L199.3 180.5L199.8 180.1L200.3 180.7L200.8 180.3L201.3 180.1L201.8 180.3L202.3 180.2L202.8 180.5L203.3 180.5L203.8 180.5L204.3 180.3L204.8 179.4L205.3 180.5L205.8 180.0L206.3 180.6L206.8 180.9L207.3 180.7L207.8 180.5L208.3 180.6L208.8 180.6L209.3 180.5L209.8 180.5L210.3 180.4L210.8 181.0L211.3 180.7L211.8 181.0L212.3 180.7L212.8 180.8L213.3 180.7L213.8 180.9L214.3 181.0L214.8 180.9L215.3 180.6L215.8 180.6L216.3 181.4L216.8 180.8L217.3 180.8L217.8 181.3L218.3 181.2L218.8 181.1L219.3 180.8L219.8 181.7L220.3 181.1L220.8 181.1L221.3 180.9L221.8 180.6L222.3 180.6L222.8 181.1L223.3 181.2L223.8 181.0L224.3 180.7L224.8 180.6L225.3 181.0L225.8 180.7L226.3 181.4L226.8 181.5L227.3 182.0L227.8 181.4L228.3 181.0L228.8 180.9L229.3 180.1L229.8 181.0L230.3 181.1L230.8 181.5L231.3 181.4L231.8 181.4L232.3 181.3L232.8 181.4L233.3 181.7L233.8 180.9L234.3 181.1L234.8 180.9L235.3 181.8L235.8 181.7L236.3 181.5L236.8 181.0L237.3 181.4L237.8 181.3L238.3 181.4L238.8 181.3L239.3 181.5L239.8 181.2L240.3 181.6L240.8 181.5L241.3 181.3L241.8 181.4L242.3 181.3L242.8 181.7L243.3 181.3L243.8 181.5L244.3 181.3L244.8 181.0L245.3 181.7L245.8 181.1L246.3 181.7L246.8 181.6L247.3 181.0L247.8 181.2L248.3 181.3L248.8 181.3"/><path d="M157.3 158.2L157.8 158.4L158.3 158.2L158.8 158.9L159.3 159.0L159.8 159.1L160.3 159.5L160.8 159.1L161.3 159.8L161.8 160.1L162.3 160.3L162.8 160.7L163.3 160.1L163.8 160.2L164.3 161.0L164.8 161.2L165.3 162.0L165.8 161.6L166.3 161.2L166.8 162.0L167.3 161.6L167.8 161.5L168.3 163.1L168.8 162.4L169.3 162.7L169.8 162.8L170.3 163.4L170.8 163.0L171.3 163.5L171.8 162.9L172.3 162.9L172.8 164.0L173.3 164.2L173.8 163.9L174.3 164.0L174.8 164.1L175.3 163.9L175.8 164.8L176.3 164.7L176.8 164.7L177.3 164.8L177.8 165.2L178.3 165.1L178.8 165.3L179.3 164.7L179.8 165.4L180.3 166.1L180.8 165.3L181.3 165.6L181.8 166.0L182.3 166.2L182.8 166.1L183.3 165.5L183.8 166.3L184.3 165.8L184.8 166.1L185.3 166.6L185.8 166.4L186.3 166.9L186.8 167.8L187.3 167.1L187.8 167.2L188.3 166.7L188.8 166.9L189.3 166.8L189.8 167.1L190.3 167.0L190.8 167.2L191.3 167.5L191.8 167.3L192.3 167.2L192.8 167.3L193.3 168.0L193.8 168.0L194.3 168.4L194.8 168.5L195.3 168.1L195.8 168.5L196.3 167.9L196.8 169.2L197.3 168.9L197.8 168.5L198.3 168.2L198.8 168.9L199.3 168.1L199.8 168.6L200.3 169.2L200.8 169.0L201.3 168.9L201.8 169.5L202.3 168.8L202.8 169.4L203.3 169.2L203.8 169.1L204.3 169.6L204.8 169.2L205.3 170.3L205.8 169.4L206.3 170.4L206.8 169.4L207.3 170.0L207.8 169.5L208.3 169.5L208.8 170.1L209.3 170.3L209.8 169.7L210.3 170.6L210.8 169.9L211.3 170.3L211.8 170.5L212.3 170.6L212.8 169.8L213.3 171.0L213.8 170.7L214.3 170.4L214.8 170.3L215.3 170.1L215.8 170.3L216.3 171.0L216.8 170.7L217.3 170.5L217.8 170.7L218.3 171.5L218.8 170.9L219.3 170.9L219.8 171.6L220.3 171.3L220.8 171.2L221.3 171.0L221.8 170.7L222.3 170.9L222.8 171.2L223.3 171.3L223.8 171.6L224.3 171.7L224.8 171.6L225.3 171.6L225.8 171.2L226.3 170.9L226.8 171.5L227.3 171.4L227.8 171.5L228.3 171.7L228.8 171.4L229.3 171.5L229.8 171.9L230.3 172.0L230.8 171.7L231.3 172.2L231.8 172.0L232.3 171.7L232.8 172.1L233.3 172.8L233.8 171.9L234.3 172.6L234.8 172.7L235.3 172.8L235.8 172.0L236.3 173.0L236.8 172.4L237.3 172.3L237.8 172.3L238.3 172.7L238.8 172.5L239.3 172.4L239.8 173.0L240.3 172.3L240.8 172.2L241.3 172.9L241.8 172.9L242.3 173.1L242.8 172.3L243.3 173.1L243.8 172.9L244.3 173.4L244.8 172.4L245.3 172.9L245.8 172.8L246.3 172.3L246.8 172.7L247.3 173.3L247.8 172.8L248.3 172.7L248.8 173.3"/><path d="M157.3 116.4L157.8 118.1L158.3 118.2L158.8 119.5L159.3 120.4L159.8 121.0L160.3 121.8L160.8 123.3L161.3 122.6L161.8 124.6L162.3 125.8L162.8 125.7L163.3 126.4L163.8 127.3L164.3 128.4L164.8 128.0L165.3 129.1L165.8 129.6L166.3 130.5L166.8 131.0L167.3 131.7L167.8 131.9L168.3 132.7L168.8 133.0L169.3 133.5L169.8 134.2L170.3 134.8L170.8 134.9L171.3 136.4L171.8 136.3L172.3 136.3L172.8 137.7L173.3 137.5L173.8 138.4L174.3 138.7L174.8 139.2L175.3 139.6L175.8 139.8L176.3 140.4L176.8 141.5L177.3 140.4L177.8 141.6L178.3 142.1L178.8 141.9L179.3 142.2L179.8 143.8L180.3 143.3L180.8 144.5L181.3 144.3L181.8 144.4L182.3 144.9L182.8 145.3L183.3 145.8L183.8 145.8L184.3 146.0L184.8 146.4L185.3 147.1L185.8 147.2L186.3 146.8L186.8 147.2L187.3 147.8L187.8 147.7L188.3 148.1L188.8 148.1L189.3 148.6L189.8 149.1L190.3 149.6L190.8 149.4L191.3 150.4L191.8 149.9L192.3 151.2L192.8 150.7L193.3 150.7L193.8 150.6L194.3 150.0L194.8 151.1L195.3 151.4L195.8 152.3L196.3 151.3L196.8 152.6L197.3 152.1L197.8 152.6L198.3 151.6L198.8 152.7L199.3 152.7L199.8 153.3L200.3 153.2L200.8 153.0L201.3 153.8L201.8 153.9L202.3 154.0L202.8 154.3L203.3 154.5L203.8 154.3L204.3 153.9L204.8 154.1L205.3 155.2L205.8 155.1L206.3 155.0L206.8 154.9L207.3 155.2L207.8 155.4L208.3 155.4L208.8 155.4L209.3 156.5L209.8 155.9L210.3 155.7L210.8 155.6L211.3 155.9L211.8 156.5L212.3 156.7L212.8 156.4L213.3 156.6L213.8 156.6L214.3 156.4L214.8 157.4L215.3 157.1L215.8 158.0L216.3 156.9L216.8 157.3L217.3 157.7L217.8 157.4L218.3 157.1L218.8 157.3L219.3 157.8L219.8 158.0L220.3 157.9L220.8 158.3L221.3 158.4L221.8 158.3L222.3 158.2L222.8 158.2L223.3 158.6L223.8 158.8L224.3 158.6L224.8 158.8L225.3 158.6L225.8 158.2L226.3 158.5L226.8 159.1L227.3 159.1L227.8 159.6L228.3 159.1L228.8 159.4L229.3 159.7L229.8 159.6L230.3 159.1L230.8 159.3L231.3 159.5L231.8 159.1L232.3 159.7L232.8 160.0L233.3 159.5L233.8 160.4L234.3 159.7L234.8 159.7L235.3 159.8L235.8 159.7L236.3 160.1L236.8 160.0L237.3 160.6L237.8 160.3L238.3 160.3L238.8 160.1L239.3 159.8L239.8 160.3L240.3 160.0L240.8 160.7L241.3 160.4L241.8 161.1L242.3 160.8L242.8 160.8L243.3 160.7L243.8 160.7L244.3 160.9L244.8 161.0L245.3 160.5L245.8 161.0L246.3 161.7L246.8 160.8L247.3 160.8L247.8 160.7L248.3 160.5L248.8 161.4"/><path d="M157.3 72.1L157.8 73.9L158.3 75.8L158.8 78.6L159.3 79.6L159.8 81.5L160.3 83.6L160.8 85.3L161.3 87.9L161.8 88.0L162.3 90.6L162.8 92.3L163.3 93.3L163.8 94.9L164.3 96.8L164.8 98.7L165.3 99.2L165.8 100.3L166.3 102.6L166.8 104.0L167.3 104.7L167.8 105.2L168.3 107.7L168.8 108.3L169.3 109.9L169.8 110.7L170.3 111.6L170.8 112.7L171.3 114.4L171.8 115.4L172.3 115.1L172.8 116.5L173.3 118.4L173.8 118.5L174.3 119.1L174.8 120.4L175.3 121.2L175.8 122.0L176.3 122.7L176.8 123.6L177.3 124.3L177.8 125.3L178.3 125.6L178.8 126.5L179.3 127.3L179.8 128.4L180.3 128.8L180.8 129.2L181.3 130.1L181.8 130.7L182.3 131.5L182.8 131.9L183.3 132.9L183.8 133.3L184.3 133.3L184.8 133.7L185.3 134.7L185.8 135.1L186.3 135.3L186.8 135.3L187.3 135.7L187.8 136.9L188.3 137.5L188.8 137.9L189.3 137.6L189.8 138.8L190.3 138.7L190.8 139.4L191.3 139.8L191.8 139.8L192.3 140.2L192.8 140.0L193.3 140.8L193.8 140.8L194.3 141.9L194.8 142.1L195.3 142.7L195.8 142.8L196.3 142.8L196.8 143.4L197.3 143.5L197.8 144.1L198.3 144.3L198.8 144.1L199.3 144.7L199.8 145.0L200.3 145.1L200.8 145.7L201.3 146.3L201.8 145.8L202.3 146.0L202.8 145.6L203.3 146.5L203.8 146.6L204.3 146.2L204.8 147.3L205.3 147.6L205.8 147.3L206.3 147.6L206.8 147.6L207.3 148.4L207.8 147.8L208.3 148.4L208.8 149.3L209.3 148.8L209.8 149.1L210.3 149.1L210.8 148.9L211.3 149.4L211.8 149.7L212.3 149.4L212.8 150.0L213.3 150.4L213.8 150.5L214.3 149.7L214.8 150.0L215.3 150.0L215.8 151.0L216.3 151.0L216.8 151.1L217.3 150.7L217.8 150.7L218.3 151.2L218.8 151.4L219.3 151.1L219.8 151.6L220.3 151.9L220.8 151.8L221.3 151.5L221.8 151.2L222.3 151.9L222.8 152.2L223.3 152.1L223.8 152.1L224.3 152.1L224.8 152.7L225.3 152.5L225.8 152.7L226.3 152.4L226.8 152.6L227.3 152.9L227.8 152.6L228.3 152.5L228.8 152.9L229.3 153.6L229.8 153.3L230.3 153.8L230.8 153.3L231.3 153.3L231.8 153.0L232.3 153.3L232.8 154.1L233.3 153.8L233.8 154.0L234.3 154.0L234.8 153.8L235.3 153.8L235.8 154.0L236.3 154.2L236.8 154.2L237.3 154.2L237.8 154.2L238.3 153.9L238.8 154.1L239.3 153.9L239.8 154.7L240.3 153.6L240.8 154.3L241.3 155.3L241.8 154.4L242.3 154.1L242.8 154.6L243.3 155.1L243.8 154.6L244.3 154.9L244.8 154.8L245.3 154.6L245.8 155.9L246.3 154.9L246.8 154.7L247.3 154.7L247.8 155.1L248.3 155.1L248.8 155.3"/><path d="M157.3 51.9L157.8 53.8L158.3 56.9L158.8 59.3L159.3 61.4L159.8 63.2L160.3 65.5L160.8 67.5L161.3 70.1L161.8 72.3L162.3 74.3L162.8 75.6L163.3 77.8L163.8 79.7L164.3 81.1L164.8 83.0L165.3 85.5L165.8 86.5L166.3 88.3L166.8 89.4L167.3 91.1L167.8 92.0L168.3 94.1L168.8 95.9L169.3 97.6L169.8 98.7L170.3 99.8L170.8 100.9L171.3 102.0L171.8 103.3L172.3 104.8L172.8 105.5L173.3 107.3L173.8 107.7L174.3 108.5L174.8 109.9L175.3 110.7L175.8 111.8L176.3 113.7L176.8 114.2L177.3 115.3L177.8 116.5L178.3 117.5L178.8 117.7L179.3 119.2L179.8 119.7L180.3 120.4L180.8 121.4L181.3 121.5L181.8 122.5L182.3 123.5L182.8 124.5L183.3 124.8L183.8 125.6L184.3 126.7L184.8 127.5L185.3 127.9L185.8 128.7L186.3 128.8L186.8 129.4L187.3 130.2L187.8 130.6L188.3 131.1L188.8 132.4L189.3 132.3L189.8 132.5L190.3 133.6L190.8 134.5L191.3 134.4L191.8 135.3L192.3 135.2L192.8 135.6L193.3 136.0L193.8 136.6L194.3 137.7L194.8 137.1L195.3 138.5L195.8 138.0L196.3 138.6L196.8 139.4L197.3 139.7L197.8 139.9L198.3 139.6L198.8 140.7L199.3 140.5L199.8 142.1L200.3 141.4L200.8 141.9L201.3 141.7L201.8 142.3L202.3 142.3L202.8 143.4L203.3 143.2L203.8 143.8L204.3 143.6L204.8 144.0L205.3 144.8L205.8 144.3L206.3 144.3L206.8 145.3L207.3 145.0L207.8 145.5L208.3 146.2L208.8 145.8L209.3 146.6L209.8 146.3L210.3 147.2L210.8 147.4L211.3 146.9L211.8 147.2L212.3 147.2L212.8 147.7L213.3 148.3L213.8 147.5L214.3 148.5L214.8 147.9L215.3 148.3L215.8 148.1L216.3 149.6L216.8 149.1L217.3 149.3L217.8 149.1L218.3 149.9L218.8 148.9L219.3 149.8L219.8 150.7L220.3 149.9L220.8 150.2L221.3 150.5L221.8 150.2L222.3 150.6L222.8 151.0L223.3 150.9L223.8 151.1L224.3 150.9L224.8 151.3L225.3 151.3L225.8 151.9L226.3 151.7L226.8 151.5L227.3 150.8L227.8 152.0L228.3 152.1L228.8 151.6L229.3 151.4L229.8 151.8L230.3 152.6L230.8 152.0L231.3 152.3L231.8 152.6L232.3 153.0L232.8 152.7L233.3 152.7L233.8 152.6L234.3 153.5L234.8 153.4L235.3 153.0L235.8 152.6L236.3 152.9L236.8 153.5L237.3 153.1L237.8 153.7L238.3 153.6L238.8 153.6L239.3 153.8L239.8 153.8L240.3 153.4L240.8 153.7L241.3 154.7L241.8 153.5L242.3 153.8L242.8 154.4L243.3 154.0L243.8 153.8L244.3 153.7L244.8 154.4L245.3 154.6L245.8 154.8L246.3 154.4L246.8 154.8L247.3 154.1L247.8 154.6L248.3 154.3L248.8 154.7"/><path d="M157.3 51.2L157.8 53.4L158.3 55.9L158.8 58.5L159.3 60.4L159.8 62.8L160.3 64.9L160.8 66.2L161.3 68.9L161.8 71.5L162.3 72.9L162.8 74.9L163.3 76.6L163.8 78.5L164.3 80.8L164.8 82.1L165.3 83.5L165.8 84.5L166.3 87.0L166.8 88.1L167.3 89.6L167.8 92.1L168.3 93.5L168.8 94.0L169.3 96.4L169.8 97.6L170.3 98.5L170.8 100.3L171.3 100.8L171.8 102.2L172.3 103.3L172.8 104.6L173.3 106.5L173.8 106.8L174.3 108.0L174.8 109.1L175.3 110.6L175.8 111.4L176.3 112.8L176.8 113.2L177.3 114.0L177.8 115.2L178.3 116.3L178.8 116.8L179.3 118.1L179.8 119.5L180.3 119.5L180.8 120.5L181.3 121.8L181.8 121.8L182.3 122.5L182.8 123.2L183.3 124.4L183.8 125.1L184.3 125.6L184.8 126.3L185.3 127.4L185.8 127.9L186.3 127.7L186.8 128.8L187.3 129.4L187.8 130.2L188.3 130.5L188.8 130.9L189.3 131.5L189.8 131.6L190.3 132.7L190.8 133.0L191.3 133.9L191.8 133.8L192.3 134.5L192.8 134.8L193.3 135.2L193.8 136.2L194.3 136.3L194.8 137.0L195.3 136.8L195.8 137.7L196.3 137.4L196.8 138.2L197.3 138.6L197.8 139.4L198.3 139.6L198.8 139.8L199.3 140.5L199.8 140.6L200.3 141.0L200.8 141.4L201.3 141.5L201.8 141.7L202.3 142.2L202.8 142.2L203.3 142.8L203.8 143.3L204.3 143.5L204.8 143.3L205.3 143.3L205.8 144.0L206.3 144.2L206.8 144.9L207.3 144.6L207.8 144.9L208.3 145.4L208.8 145.2L209.3 145.6L209.8 146.4L210.3 146.6L210.8 146.5L211.3 146.6L211.8 146.3L212.3 147.0L212.8 147.1L213.3 147.3L213.8 147.2L214.3 147.6L214.8 147.7L215.3 148.0L215.8 148.6L216.3 148.4L216.8 147.8L217.3 148.2L217.8 148.1L218.3 148.6L218.8 149.2L219.3 149.3L219.8 149.1L220.3 149.5L220.8 149.3L221.3 149.2L221.8 149.3L222.3 149.6L222.8 150.5L223.3 149.7L223.8 150.7L224.3 150.9L224.8 150.5L225.3 150.6L225.8 150.5L226.3 150.8L226.8 151.2L227.3 151.1L227.8 151.5L228.3 151.7L228.8 151.5L229.3 151.6L229.8 151.5L230.3 151.7L230.8 151.3L231.3 151.9L231.8 152.0L232.3 151.7L232.8 152.8L233.3 151.8L233.8 151.9L234.3 152.4L234.8 151.7L235.3 152.2L235.8 152.0L236.3 152.2L236.8 152.6L237.3 152.8L237.8 153.2L238.3 153.1L238.8 153.3L239.3 153.2L239.8 152.9L240.3 153.5L240.8 153.0L241.3 153.0L241.8 153.8L242.3 153.6L242.8 153.5L243.3 153.7L243.8 153.8L244.3 153.1L244.8 153.6L245.3 153.2L245.8 153.7L246.3 153.5L246.8 154.3L247.3 154.0L247.8 153.6L248.3 153.9L248.8 153.6"/><path d="M157.3 50.7L157.8 53.3L158.3 55.3L158.8 58.3L159.3 59.4L159.8 62.1L160.3 64.9L160.8 66.3L161.3 68.0L161.8 71.0L162.3 72.7L162.8 74.0L163.3 76.6L163.8 77.8L164.3 79.4L164.8 81.6L165.3 83.2L165.8 84.6L166.3 86.5L166.8 87.8L167.3 89.7L167.8 91.2L168.3 93.0L168.8 94.0L169.3 95.1L169.8 96.4L170.3 98.1L170.8 100.1L171.3 101.1L171.8 101.8L172.3 103.6L172.8 104.0L173.3 105.9L173.8 106.6L174.3 108.1L174.8 109.1L175.3 109.8L175.8 111.1L176.3 111.6L176.8 112.9L177.3 114.2L177.8 116.2L178.3 115.9L178.8 116.6L179.3 117.1L179.8 118.7L180.3 118.5L180.8 119.6L181.3 120.8L181.8 121.1L182.3 122.8L182.8 123.3L183.3 123.5L183.8 124.2L184.3 124.6L184.8 125.2L185.3 126.5L185.8 127.2L186.3 127.8L186.8 128.3L187.3 128.6L187.8 129.5L188.3 129.5L188.8 130.5L189.3 131.6L189.8 132.1L190.3 131.9L190.8 132.5L191.3 133.6L191.8 134.2L192.3 133.5L192.8 134.4L193.3 135.0L193.8 135.8L194.3 135.5L194.8 136.5L195.3 136.5L195.8 137.9L196.3 137.6L196.8 137.8L197.3 138.1L197.8 138.9L198.3 139.2L198.8 138.9L199.3 139.7L199.8 139.5L200.3 140.0L200.8 140.1L201.3 140.4L201.8 141.0L202.3 141.2L202.8 142.0L203.3 142.4L203.8 142.3L204.3 142.2L204.8 143.2L205.3 142.4L205.8 142.7L206.3 143.9L206.8 144.1L207.3 144.5L207.8 144.3L208.3 144.2L208.8 144.6L209.3 145.2L209.8 145.0L210.3 145.2L210.8 145.2L211.3 145.5L211.8 146.4L212.3 146.4L212.8 146.0L213.3 146.2L213.8 146.6L214.3 147.2L214.8 146.7L215.3 147.3L215.8 146.7L216.3 147.2L216.8 148.0L217.3 148.3L217.8 147.7L218.3 148.0L218.8 148.7L219.3 148.4L219.8 148.5L220.3 149.0L220.8 149.0L221.3 149.5L221.8 149.5L222.3 149.1L222.8 149.4L223.3 149.6L223.8 149.2L224.3 149.5L224.8 150.3L225.3 149.5L225.8 150.5L226.3 150.3L226.8 150.3L227.3 150.6L227.8 150.7L228.3 151.1L228.8 150.6L229.3 150.8L229.8 150.8L230.3 151.7L230.8 151.4L231.3 150.9L231.8 151.2L232.3 151.1L232.8 151.5L233.3 151.6L233.8 152.4L234.3 151.0L234.8 152.1L235.3 152.0L235.8 151.7L236.3 151.9L236.8 151.9L237.3 152.1L237.8 152.5L238.3 151.7L238.8 152.8L239.3 152.2L239.8 153.0L240.3 152.6L240.8 153.0L241.3 152.8L241.8 153.1L242.3 152.8L242.8 152.5L243.3 153.1L243.8 153.2L244.3 153.7L244.8 152.3L245.3 153.0L245.8 153.5L246.3 152.7L246.8 153.1L247.3 154.0L247.8 153.8L248.3 153.0L248.8 153.9"/><path d="M157.3 49.9L157.8 52.4L158.3 54.5L158.8 57.4L159.3 59.5L159.8 61.1L160.3 63.8L160.8 65.6L161.3 68.6L161.8 69.9L162.3 71.9L162.8 73.9L163.3 75.7L163.8 77.6L164.3 79.9L164.8 81.2L165.3 83.1L165.8 84.9L166.3 85.8L166.8 88.3L167.3 89.5L167.8 91.0L168.3 91.9L168.8 93.9L169.3 95.2L169.8 96.2L170.3 98.5L170.8 99.2L171.3 100.2L171.8 101.6L172.3 103.0L172.8 104.3L173.3 105.2L173.8 106.6L174.3 107.8L174.8 107.9L175.3 109.2L175.8 110.1L176.3 111.4L176.8 112.9L177.3 113.6L177.8 113.9L178.3 115.1L178.8 116.4L179.3 116.7L179.8 117.7L180.3 118.7L180.8 118.7L181.3 120.4L181.8 121.1L182.3 121.9L182.8 122.1L183.3 122.9L183.8 123.6L184.3 124.6L184.8 125.2L185.3 125.9L185.8 127.1L186.3 127.5L186.8 127.4L187.3 128.0L187.8 129.5L188.3 129.3L188.8 130.5L189.3 131.1L189.8 130.8L190.3 131.5L190.8 132.1L191.3 132.2L191.8 132.7L192.3 133.4L192.8 134.3L193.3 134.2L193.8 134.8L194.3 135.1L194.8 135.2L195.3 136.6L195.8 135.7L196.3 136.7L196.8 137.5L197.3 137.1L197.8 138.2L198.3 138.8L198.8 138.4L199.3 139.1L199.8 139.0L200.3 139.9L200.8 140.1L201.3 140.4L201.8 141.1L202.3 141.1L202.8 141.7L203.3 141.7L203.8 141.4L204.3 142.2L204.8 142.5L205.3 142.1L205.8 143.3L206.3 143.1L206.8 143.5L207.3 143.3L207.8 143.8L208.3 144.1L208.8 144.1L209.3 144.5L209.8 143.9L210.3 145.4L210.8 144.7L211.3 144.5L211.8 145.2L212.3 145.4L212.8 146.1L213.3 145.7L213.8 146.3L214.3 146.1L214.8 147.4L215.3 146.9L215.8 147.6L216.3 146.7L216.8 147.5L217.3 147.0L217.8 147.7L218.3 147.9L218.8 147.3L219.3 147.6L219.8 147.7L220.3 147.7L220.8 148.1L221.3 148.2L221.8 148.1L222.3 148.8L222.8 149.1L223.3 148.5L223.8 148.9L224.3 149.2L224.8 149.3L225.3 149.2L225.8 149.8L226.3 150.0L226.8 150.0L227.3 149.8L227.8 150.7L228.3 150.7L228.8 150.0L229.3 150.2L229.8 150.8L230.3 150.2L230.8 150.7L231.3 150.6L231.8 150.5L232.3 150.7L232.8 150.3L233.3 150.8L233.8 150.3L234.3 151.9L234.8 151.7L235.3 151.7L235.8 151.4L236.3 151.7L236.8 151.9L237.3 151.9L237.8 151.9L238.3 151.4L238.8 151.9L239.3 151.6L239.8 151.4L240.3 151.5L240.8 152.1L241.3 152.4L241.8 151.6L242.3 152.8L242.8 152.7L243.3 152.1L243.8 152.2L244.3 152.3L244.8 152.8L245.3 152.3L245.8 152.1L246.3 152.7L246.8 151.9L247.3 152.7L247.8 153.1L248.3 152.9L248.8 153.1"/><path d="M157.3 50.1L157.8 52.3L158.3 54.6L158.8 56.7L159.3 59.0L159.8 61.5L160.3 63.2L160.8 66.0L161.3 67.5L161.8 69.4L162.3 72.1L162.8 73.5L163.3 75.6L163.8 77.1L164.3 78.2L164.8 80.9L165.3 81.9L165.8 84.5L166.3 85.1L166.8 86.6L167.3 88.9L167.8 90.4L168.3 91.8L168.8 92.8L169.3 94.9L169.8 95.4L170.3 97.1L170.8 98.3L171.3 99.7L171.8 101.3L172.3 102.0L172.8 103.6L173.3 104.8L173.8 105.1L174.3 106.4L174.8 107.7L175.3 108.7L175.8 110.0L176.3 110.2L176.8 112.1L177.3 113.1L177.8 113.7L178.3 114.2L178.8 115.5L179.3 116.2L179.8 117.4L180.3 118.0L180.8 119.1L181.3 119.5L181.8 120.9L182.3 120.4L182.8 121.5L183.3 122.8L183.8 122.8L184.3 124.2L184.8 124.2L185.3 125.3L185.8 125.6L186.3 126.4L186.8 127.2L187.3 127.7L187.8 128.2L188.3 129.6L188.8 129.4L189.3 129.6L189.8 130.8L190.3 131.3L190.8 131.9L191.3 132.6L191.8 132.1L192.3 133.3L192.8 133.8L193.3 133.8L193.8 134.4L194.3 133.7L194.8 134.9L195.3 136.2L195.8 135.3L196.3 136.1L196.8 136.8L197.3 137.3L197.8 138.0L198.3 137.2L198.8 138.2L199.3 138.8L199.8 138.4L200.3 139.1L200.8 140.1L201.3 140.2L201.8 140.3L202.3 139.4L202.8 140.6L203.3 141.1L203.8 141.1L204.3 141.5L204.8 142.8L205.3 141.9L205.8 141.9L206.3 142.6L206.8 142.6L207.3 142.9L207.8 143.2L208.3 143.7L208.8 143.8L209.3 143.5L209.8 144.1L210.3 144.5L210.8 144.3L211.3 145.1L211.8 145.2L212.3 144.7L212.8 145.4L213.3 146.2L213.8 146.2L214.3 145.8L214.8 146.3L215.3 145.9L215.8 145.8L216.3 146.7L216.8 146.7L217.3 147.0L217.8 146.9L218.3 147.2L218.8 147.1L219.3 147.5L219.8 147.8L220.3 147.6L220.8 148.1L221.3 147.3L221.8 147.8L222.3 148.7L222.8 148.9L223.3 148.5L223.8 148.5L224.3 148.2L224.8 148.9L225.3 149.1L225.8 148.5L226.3 149.3L226.8 149.4L227.3 149.4L227.8 149.0L228.3 149.7L228.8 149.0L229.3 150.2L229.8 149.8L230.3 149.4L230.8 150.4L231.3 150.4L231.8 149.9L232.3 151.0L232.8 149.9L233.3 150.5L233.8 150.8L234.3 149.7L234.8 150.9L235.3 150.6L235.8 150.7L236.3 150.4L236.8 151.0L237.3 150.5L237.8 150.7L238.3 150.9L238.8 150.7L239.3 151.7L239.8 150.8L240.3 151.1L240.8 151.3L241.3 151.4L241.8 151.8L242.3 151.8L242.8 151.5L243.3 151.5L243.8 151.7L244.3 152.1L244.8 152.1L245.3 151.7L245.8 151.2L246.3 152.7L246.8 152.4L247.3 152.2L247.8 152.2L248.3 152.0L248.8 151.8"/><path d="M157.3 49.4L157.8 52.0L158.3 54.5L158.8 56.7L159.3 58.6L159.8 61.3L160.3 63.5L160.8 65.7L161.3 67.1L161.8 69.5L162.3 70.9L162.8 73.7L163.3 74.9L163.8 77.0L164.3 78.7L164.8 80.4L165.3 81.9L165.8 83.3L166.3 86.1L166.8 87.1L167.3 88.7L167.8 90.8L168.3 91.5L168.8 93.1L169.3 94.3L169.8 96.1L170.3 97.2L170.8 98.4L171.3 99.4L171.8 100.9L172.3 102.4L172.8 102.4L173.3 104.2L173.8 105.2L174.3 106.4L174.8 106.8L175.3 108.8L175.8 109.3L176.3 110.5L176.8 111.4L177.3 111.9L177.8 113.2L178.3 113.6L178.8 114.8L179.3 115.9L179.8 116.9L180.3 117.7L180.8 118.4L181.3 120.0L181.8 120.2L182.3 120.3L182.8 121.3L183.3 122.0L183.8 122.8L184.3 123.3L184.8 123.9L185.3 125.4L185.8 125.5L186.3 126.0L186.8 126.6L187.3 127.2L187.8 128.4L188.3 128.6L188.8 129.4L189.3 128.4L189.8 130.1L190.3 130.9L190.8 131.7L191.3 131.5L191.8 131.4L192.3 132.7L192.8 132.7L193.3 132.7L193.8 133.6L194.3 134.6L194.8 135.1L195.3 135.3L195.8 135.1L196.3 136.7L196.8 135.8L197.3 136.5L197.8 136.4L198.3 137.8L198.8 137.8L199.3 138.3L199.8 138.3L200.3 138.6L200.8 139.0L201.3 138.6L201.8 139.9L202.3 140.2L202.8 140.0L203.3 140.4L203.8 140.8L204.3 141.5L204.8 141.4L205.3 141.5L205.8 141.6L206.3 141.5L206.8 142.0L207.3 142.5L207.8 142.6L208.3 142.9L208.8 143.4L209.3 143.5L209.8 143.7L210.3 144.0L210.8 144.0L211.3 144.2L211.8 144.5L212.3 143.9L212.8 145.2L213.3 144.5L213.8 145.4L214.3 145.3L214.8 145.8L215.3 145.6L215.8 145.4L216.3 146.3L216.8 146.2L217.3 146.3L217.8 146.4L218.3 146.9L218.8 147.0L219.3 146.9L219.8 146.4L220.3 147.0L220.8 147.3L221.3 148.0L221.8 147.6L222.3 147.6L222.8 148.1L223.3 147.8L223.8 148.0L224.3 148.1L224.8 147.7L225.3 148.6L225.8 148.6L226.3 148.4L226.8 148.2L227.3 148.8L227.8 149.3L228.3 148.7L228.8 148.6L229.3 149.2L229.8 148.6L230.3 148.5L230.8 149.2L231.3 149.2L231.8 149.4L232.3 149.4L232.8 149.8L233.3 149.7L233.8 149.7L234.3 149.8L234.8 150.2L235.3 150.4L235.8 150.5L236.3 150.5L236.8 149.1L237.3 150.0L237.8 150.3L238.3 150.6L238.8 150.0L239.3 151.1L239.8 150.8L240.3 150.5L240.8 150.9L241.3 150.7L241.8 150.7L242.3 151.2L242.8 150.9L243.3 150.6L243.8 150.9L244.3 151.2L244.8 150.9L245.3 151.7L245.8 151.0L246.3 152.0L246.8 151.8L247.3 151.2L247.8 151.6L248.3 152.0L248.8 151.6"/><path d="M157.3 49.9L157.8 52.2L158.3 55.0L158.8 56.7L159.3 59.4L159.8 61.3L160.3 63.7L160.8 65.7L161.3 67.8L161.8 69.3L162.3 71.3L162.8 73.2L163.3 75.4L163.8 77.4L164.3 79.2L164.8 80.4L165.3 82.3L165.8 83.3L166.3 84.7L166.8 86.7L167.3 88.3L167.8 89.4L168.3 90.8L168.8 93.0L169.3 93.9L169.8 95.0L170.3 97.7L170.8 98.2L171.3 99.3L171.8 100.8L172.3 101.5L172.8 103.5L173.3 103.5L173.8 104.7L174.3 106.2L174.8 107.0L175.3 108.8L175.8 108.8L176.3 110.1L176.8 111.4L177.3 112.4L177.8 113.5L178.3 114.1L178.8 115.6L179.3 115.6L179.8 116.6L180.3 117.7L180.8 118.0L181.3 118.8L181.8 119.5L182.3 120.2L182.8 120.7L183.3 121.6L183.8 122.0L184.3 123.3L184.8 123.3L185.3 125.2L185.8 125.7L186.3 126.1L186.8 126.2L187.3 126.7L187.8 127.9L188.3 128.1L188.8 128.7L189.3 128.8L189.8 130.0L190.3 129.8L190.8 130.6L191.3 130.5L191.8 131.3L192.3 132.2L192.8 132.3L193.3 132.7L193.8 133.6L194.3 133.7L194.8 134.6L195.3 133.7L195.8 135.2L196.3 135.5L196.8 135.2L197.3 135.6L197.8 136.7L198.3 136.4L198.8 136.9L199.3 137.7L199.8 137.7L200.3 138.3L200.8 138.1L201.3 138.8L201.8 139.4L202.3 139.4L202.8 138.8L203.3 140.1L203.8 140.2L204.3 140.1L204.8 141.2L205.3 140.3L205.8 141.8L206.3 141.2L206.8 142.2L207.3 141.9L207.8 141.7L208.3 142.4L208.8 142.7L209.3 143.0L209.8 143.4L210.3 142.9L210.8 143.6L211.3 143.9L211.8 143.7L212.3 143.7L212.8 143.8L213.3 144.6L213.8 144.8L214.3 144.4L214.8 144.4L215.3 145.5L215.8 144.6L216.3 145.4L216.8 145.2L217.3 145.0L217.8 145.8L218.3 145.9L218.8 146.6L219.3 147.0L219.8 146.3L220.3 146.9L220.8 147.0L221.3 146.6L221.8 146.6L222.3 147.6L222.8 147.0L223.3 147.2L223.8 147.3L224.3 147.4L224.8 147.4L225.3 148.0L225.8 148.2L226.3 147.8L226.8 147.5L227.3 148.1L227.8 147.7L228.3 148.1L228.8 148.8L229.3 149.3L229.8 148.7L230.3 148.3L230.8 149.0L231.3 148.1L231.8 148.7L232.3 149.5L232.8 149.3L233.3 148.7L233.8 148.7L234.3 149.6L234.8 149.4L235.3 149.3L235.8 149.7L236.3 149.4L236.8 149.0L237.3 150.0L237.8 149.6L238.3 149.5L238.8 149.5L239.3 150.1L239.8 149.8L240.3 150.3L240.8 150.1L241.3 150.6L241.8 150.2L242.3 150.1L242.8 149.7L243.3 150.1L243.8 150.8L244.3 151.6L244.8 150.2L245.3 150.3L245.8 150.8L246.3 150.9L246.8 150.6L247.3 150.9L247.8 150.3L248.3 150.8L248.8 151.3"/></g>
<path d="M49.6 188.6H64.4" stroke="#0a0a0a" stroke-width="2.4" fill="none"/>
<path d="M64.4 187.6H249.3" stroke="#0a0a0a" stroke-width="1.6" fill="none"/>
<path d="M41.3 139.6V196H82.7M40.3 139.6h2.2M82.7 195v2" fill="none" stroke="#555" stroke-width="1.2"/>
<text x="36.3" y="167.8" font-size="11.2" text-anchor="middle" transform="rotate(-90 36.3 167.8)">500 pA</text>
<text x="61.8" y="207.6" font-size="11.2" text-anchor="middle">2 s</text>
<text x="126.7" y="55.8" font-size="17.2" text-anchor="middle" class="k2">Ctrl</text>
<text x="351" y="98.3" font-size="17.2" text-anchor="middle" class="k2">HCQ</text>
<text x="2.9" y="202.2" font-size="10.5" font-weight="bold" class="k">a</text>
<path d="M293 147.3V187M386.6 112V202" stroke="#999" stroke-width="0.7" fill="none"/><path d="M386.6 103.5V112" stroke="#555" stroke-width="0.8" fill="none"/>
<g fill="none" stroke="#0a0a0a" stroke-width="1.45" stroke-linejoin="round"><path d="M279.2 186.4L279.7 185.9L280.2 185.9L280.7 186.1L281.2 186.3L281.7 186.1L282.2 185.8L282.7 186.1L283.2 186.2L283.7 185.8L284.2 185.7L284.7 186.1L285.2 186.1L285.7 186.2L286.2 186.0L286.7 185.8L287.2 185.9L287.7 185.7L288.2 185.8L288.7 185.8L289.2 185.9L289.7 186.3L290.2 185.7L290.7 186.0L291.2 185.8L291.7 186.4L292.2 186.1L292.7 185.9M293.0 186.3L293.5 186.0L294.0 185.8L294.5 186.5L295.0 186.2L295.5 186.6L296.0 186.4L296.5 186.3L297.0 186.0L297.5 185.6L298.0 186.2L298.5 186.0L299.0 186.2L299.5 186.0L300.0 185.7L300.5 185.6L301.0 186.2L301.5 186.4L302.0 185.9L302.5 186.1L303.0 186.5L303.5 185.7L304.0 185.9L304.5 185.6L305.0 186.4L305.5 186.1L306.0 185.8L306.5 185.4L307.0 185.9L307.5 186.3L308.0 185.9L308.5 185.8L309.0 186.2L309.5 185.6L310.0 186.0L310.5 186.2L311.0 185.7L311.5 185.7L312.0 186.1L312.5 186.0L313.0 185.9L313.5 186.1L314.0 186.1L314.5 185.7L315.0 185.8L315.5 186.1L316.0 186.4L316.5 186.5L317.0 185.7L317.5 186.4L318.0 186.3L318.5 186.0L319.0 186.2L319.5 186.3L320.0 186.6L320.5 185.6L321.0 186.2L321.5 185.9L322.0 185.9L322.5 186.4L323.0 186.3L323.5 185.6L324.0 185.9L324.5 186.1L325.0 185.5L325.5 186.3L326.0 186.0L326.5 186.0L327.0 186.1L327.5 186.6L328.0 186.0L328.5 185.9L329.0 186.6L329.5 185.8L330.0 185.8L330.5 185.5L331.0 186.4L331.5 186.1L332.0 186.2L332.5 186.0L333.0 185.9L333.5 185.7L334.0 185.7L334.5 186.1L335.0 186.0L335.5 186.6L336.0 185.7L336.5 185.8L337.0 185.6L337.5 186.5L338.0 185.6L338.5 186.3L339.0 186.5L339.5 185.9L340.0 186.2L340.5 185.3L341.0 185.9L341.5 185.4L342.0 186.0L342.5 186.0L343.0 185.7L343.5 186.3L344.0 186.1L344.5 185.8L345.0 185.8L345.5 185.5L346.0 185.9L346.5 186.7L347.0 185.7L347.5 186.1L348.0 185.8L348.5 186.3L349.0 186.1L349.5 185.9L350.0 185.4L350.5 185.8L351.0 186.4L351.5 185.9L352.0 186.2L352.5 185.8L353.0 185.3L353.5 186.1L354.0 186.1L354.5 185.8L355.0 185.9L355.5 186.1L356.0 185.8L356.5 186.1L357.0 185.9L357.5 185.2L358.0 185.9L358.5 185.8L359.0 185.7L359.5 186.1L360.0 185.8L360.5 186.2L361.0 186.4L361.5 186.0L362.0 185.5L362.5 185.7L363.0 186.3L363.5 185.9L364.0 185.7L364.5 186.0L365.0 186.2L365.5 186.1L366.0 186.2L366.5 185.7L367.0 185.9L367.5 185.9L368.0 186.0L368.5 185.3L369.0 185.9L369.5 185.5L370.0 186.5L370.5 186.5L371.0 186.6L371.5 186.3L372.0 185.8L372.5 186.3L373.0 185.9L373.5 186.2L374.0 185.7L374.5 185.8L375.0 186.2L375.5 186.6L376.0 186.0L376.5 186.8L377.0 186.9L377.5 185.6L378.0 186.0L378.5 185.7L379.0 185.9L379.5 185.8L380.0 186.0L380.5 186.3L381.0 186.3L381.5 186.1L382.0 186.0L382.5 186.0L383.0 186.0L383.5 186.2L384.0 186.0L384.5 186.2L385.0 185.5L385.5 186.3L386.0 186.6"/><path d="M279.2 186.0L279.7 185.8L280.2 186.0L280.7 186.3L281.2 186.1L281.7 185.9L282.2 185.8L282.7 185.9L283.2 186.1L283.7 186.5L284.2 185.7L284.7 186.0L285.2 185.9L285.7 185.8L286.2 186.1L286.7 186.1L287.2 185.6L287.7 185.7L288.2 186.3L288.7 186.1L289.2 186.1L289.7 185.9L290.2 185.9L290.7 186.1L291.2 185.9L291.7 185.7L292.2 186.0L292.7 186.2M293.0 185.6L293.5 186.3L294.0 186.2L294.5 185.6L295.0 185.9L295.5 185.9L296.0 186.1L296.5 186.1L297.0 185.4L297.5 185.4L298.0 186.2L298.5 185.9L299.0 186.0L299.5 185.9L300.0 186.3L300.5 185.4L301.0 186.1L301.5 185.5L302.0 186.0L302.5 186.2L303.0 185.3L303.5 185.9L304.0 185.6L304.5 185.6L305.0 185.7L305.5 185.3L306.0 185.4L306.5 185.9L307.0 186.0L307.5 185.5L308.0 185.2L308.5 186.5L309.0 186.0L309.5 185.8L310.0 185.3L310.5 185.5L311.0 185.7L311.5 185.3L312.0 186.2L312.5 185.7L313.0 185.8L313.5 185.3L314.0 185.3L314.5 185.4L315.0 185.7L315.5 185.5L316.0 185.5L316.5 185.7L317.0 185.7L317.5 186.1L318.0 185.6L318.5 185.3L319.0 185.6L319.5 186.1L320.0 185.4L320.5 185.6L321.0 185.5L321.5 185.8L322.0 185.7L322.5 185.3L323.0 185.5L323.5 185.9L324.0 186.0L324.5 185.9L325.0 185.9L325.5 185.5L326.0 185.5L326.5 185.9L327.0 185.2L327.5 185.6L328.0 185.0L328.5 185.5L329.0 185.4L329.5 185.2L330.0 185.8L330.5 185.3L331.0 185.5L331.5 185.5L332.0 185.3L332.5 186.1L333.0 185.4L333.5 185.7L334.0 185.1L334.5 185.4L335.0 185.5L335.5 185.5L336.0 185.4L336.5 185.6L337.0 186.1L337.5 185.5L338.0 185.5L338.5 185.5L339.0 186.5L339.5 186.1L340.0 185.8L340.5 185.8L341.0 185.3L341.5 185.5L342.0 185.7L342.5 185.6L343.0 185.3L343.5 185.3L344.0 185.8L344.5 185.7L345.0 184.9L345.5 185.6L346.0 186.0L346.5 185.4L347.0 185.7L347.5 185.1L348.0 185.9L348.5 185.2L349.0 185.2L349.5 185.5L350.0 186.4L350.5 185.4L351.0 185.2L351.5 185.7L352.0 185.7L352.5 186.2L353.0 185.2L353.5 185.0L354.0 185.5L354.5 185.7L355.0 185.7L355.5 186.0L356.0 185.1L356.5 185.3L357.0 185.5L357.5 185.9L358.0 185.8L358.5 185.4L359.0 185.2L359.5 185.9L360.0 185.9L360.5 186.5L361.0 185.5L361.5 186.1L362.0 185.2L362.5 185.4L363.0 185.4L363.5 185.4L364.0 185.3L364.5 185.4L365.0 185.6L365.5 185.4L366.0 185.8L366.5 185.6L367.0 185.6L367.5 186.1L368.0 185.7L368.5 185.6L369.0 185.6L369.5 185.6L370.0 185.8L370.5 185.3L371.0 186.0L371.5 186.1L372.0 186.0L372.5 185.4L373.0 185.0L373.5 185.4L374.0 185.6L374.5 185.9L375.0 185.5L375.5 185.5L376.0 186.1L376.5 185.4L377.0 186.0L377.5 185.9L378.0 185.1L378.5 185.7L379.0 185.4L379.5 185.3L380.0 185.0L380.5 185.1L381.0 185.7L381.5 185.5L382.0 185.7L382.5 185.2L383.0 185.5L383.5 185.5L384.0 185.1L384.5 185.0L385.0 185.7L385.5 185.6L386.0 185.3"/><path d="M279.2 185.7L279.7 186.1L280.2 185.6L280.7 185.8L281.2 185.8L281.7 186.0L282.2 185.6L282.7 186.3L283.2 185.9L283.7 185.9L284.2 185.9L284.7 185.8L285.2 185.7L285.7 186.3L286.2 186.0L286.7 186.0L287.2 186.2L287.7 185.8L288.2 186.1L288.7 186.0L289.2 185.8L289.7 186.2L290.2 185.6L290.7 186.1L291.2 185.8L291.7 186.1L292.2 186.3L292.7 186.1M293.0 185.8L293.5 186.0L294.0 185.8L294.5 185.5L295.0 185.6L295.5 186.0L296.0 186.1L296.5 185.3L297.0 185.9L297.5 186.1L298.0 185.9L298.5 185.5L299.0 186.2L299.5 185.5L300.0 186.1L300.5 186.4L301.0 185.2L301.5 185.9L302.0 186.0L302.5 185.9L303.0 185.6L303.5 185.7L304.0 185.3L304.5 185.9L305.0 186.0L305.5 185.6L306.0 185.5L306.5 185.6L307.0 185.8L307.5 185.8L308.0 185.7L308.5 185.8L309.0 185.3L309.5 184.8L310.0 186.0L310.5 186.2L311.0 185.3L311.5 185.5L312.0 185.8L312.5 186.1L313.0 185.9L313.5 186.2L314.0 185.7L314.5 185.8L315.0 185.8L315.5 185.5L316.0 186.1L316.5 185.9L317.0 186.0L317.5 185.5L318.0 186.0L318.5 185.3L319.0 185.8L319.5 184.7L320.0 185.3L320.5 185.9L321.0 185.5L321.5 185.7L322.0 185.1L322.5 186.1L323.0 185.8L323.5 185.6L324.0 185.7L324.5 185.7L325.0 186.1L325.5 185.7L326.0 185.1L326.5 185.5L327.0 186.0L327.5 185.8L328.0 185.4L328.5 185.8L329.0 185.6L329.5 185.7L330.0 185.0L330.5 185.2L331.0 185.7L331.5 185.4L332.0 185.6L332.5 186.2L333.0 185.4L333.5 185.6L334.0 185.3L334.5 185.3L335.0 185.5L335.5 185.0L336.0 184.7L336.5 185.9L337.0 185.4L337.5 185.8L338.0 185.5L338.5 185.5L339.0 185.7L339.5 185.7L340.0 185.0L340.5 185.8L341.0 185.1L341.5 185.5L342.0 186.3L342.5 185.4L343.0 186.0L343.5 185.3L344.0 185.6L344.5 185.4L345.0 185.5L345.5 185.1L346.0 185.1L346.5 185.5L347.0 184.8L347.5 185.1L348.0 185.6L348.5 185.1L349.0 185.0L349.5 185.0L350.0 185.4L350.5 185.2L351.0 185.4L351.5 185.2L352.0 185.9L352.5 185.1L353.0 184.6L353.5 185.3L354.0 185.3L354.5 185.3L355.0 184.7L355.5 185.7L356.0 185.3L356.5 185.2L357.0 184.7L357.5 185.4L358.0 185.2L358.5 185.7L359.0 185.1L359.5 184.8L360.0 185.3L360.5 184.9L361.0 185.4L361.5 184.8L362.0 185.2L362.5 185.1L363.0 185.2L363.5 185.0L364.0 184.9L364.5 185.2L365.0 185.0L365.5 185.2L366.0 185.1L366.5 184.4L367.0 185.1L367.5 185.6L368.0 185.2L368.5 185.3L369.0 185.3L369.5 185.0L370.0 184.7L370.5 185.4L371.0 185.5L371.5 185.3L372.0 185.2L372.5 185.2L373.0 185.1L373.5 185.2L374.0 185.1L374.5 185.2L375.0 184.8L375.5 184.9L376.0 185.3L376.5 184.9L377.0 184.2L377.5 185.1L378.0 184.3L378.5 185.7L379.0 185.3L379.5 185.3L380.0 184.8L380.5 184.6L381.0 184.9L381.5 185.0L382.0 184.7L382.5 185.1L383.0 185.2L383.5 185.2L384.0 184.6L384.5 184.3L385.0 185.0L385.5 184.8L386.0 185.1"/><path d="M279.2 186.1L279.7 186.1L280.2 186.0L280.7 185.8L281.2 185.4L281.7 185.9L282.2 186.2L282.7 186.0L283.2 185.5L283.7 186.0L284.2 185.6L284.7 186.5L285.2 186.0L285.7 185.7L286.2 186.2L286.7 185.8L287.2 186.1L287.7 186.0L288.2 185.7L288.7 186.2L289.2 185.7L289.7 186.3L290.2 186.0L290.7 185.8L291.2 185.6L291.7 186.4L292.2 186.3L292.7 185.7M293.0 186.5L293.5 186.0L294.0 185.9L294.5 185.9L295.0 185.8L295.5 186.4L296.0 185.9L296.5 185.3L297.0 186.5L297.5 186.1L298.0 185.5L298.5 185.7L299.0 185.5L299.5 185.8L300.0 185.9L300.5 185.8L301.0 185.5L301.5 185.4L302.0 186.0L302.5 185.6L303.0 186.4L303.5 185.4L304.0 185.9L304.5 185.6L305.0 185.4L305.5 186.0L306.0 185.6L306.5 185.3L307.0 185.5L307.5 185.9L308.0 185.1L308.5 186.0L309.0 185.7L309.5 185.4L310.0 185.9L310.5 186.0L311.0 185.7L311.5 185.5L312.0 186.0L312.5 185.9L313.0 185.1L313.5 185.3L314.0 185.3L314.5 185.2L315.0 184.9L315.5 185.7L316.0 185.4L316.5 185.4L317.0 185.8L317.5 185.1L318.0 185.3L318.5 185.4L319.0 185.1L319.5 185.2L320.0 185.5L320.5 185.2L321.0 185.7L321.5 185.0L322.0 185.3L322.5 184.7L323.0 185.2L323.5 185.0L324.0 185.6L324.5 185.4L325.0 185.3L325.5 185.7L326.0 185.6L326.5 185.4L327.0 184.9L327.5 184.6L328.0 185.1L328.5 185.0L329.0 184.9L329.5 185.0L330.0 184.5L330.5 185.5L331.0 184.6L331.5 184.8L332.0 185.2L332.5 184.5L333.0 185.3L333.5 185.3L334.0 184.9L334.5 184.6L335.0 184.8L335.5 184.3L336.0 185.4L336.5 184.9L337.0 184.7L337.5 184.6L338.0 185.1L338.5 185.4L339.0 184.4L339.5 184.7L340.0 184.3L340.5 185.1L341.0 184.9L341.5 185.6L342.0 184.8L342.5 184.7L343.0 184.6L343.5 185.1L344.0 184.2L344.5 185.0L345.0 184.8L345.5 184.6L346.0 184.4L346.5 185.1L347.0 185.3L347.5 184.6L348.0 184.9L348.5 185.3L349.0 184.5L349.5 184.6L350.0 184.2L350.5 184.6L351.0 184.6L351.5 184.5L352.0 184.4L352.5 184.1L353.0 184.1L353.5 184.3L354.0 184.8L354.5 184.4L355.0 184.3L355.5 184.8L356.0 184.7L356.5 184.3L357.0 184.3L357.5 184.7L358.0 184.6L358.5 184.2L359.0 184.6L359.5 184.5L360.0 184.8L360.5 184.2L361.0 184.7L361.5 184.6L362.0 184.1L362.5 184.8L363.0 184.7L363.5 184.0L364.0 185.1L364.5 184.0L365.0 184.1L365.5 184.3L366.0 184.6L366.5 184.5L367.0 184.3L367.5 184.8L368.0 184.5L368.5 184.8L369.0 185.2L369.5 184.4L370.0 183.4L370.5 184.1L371.0 183.9L371.5 184.3L372.0 184.3L372.5 183.8L373.0 183.8L373.5 184.1L374.0 184.1L374.5 183.3L375.0 184.5L375.5 184.2L376.0 184.2L376.5 184.3L377.0 183.8L377.5 184.1L378.0 184.5L378.5 184.5L379.0 184.3L379.5 184.0L380.0 183.8L380.5 184.5L381.0 184.3L381.5 183.9L382.0 183.3L382.5 183.8L383.0 183.4L383.5 184.5L384.0 184.1L384.5 183.8L385.0 183.9L385.5 184.9L386.0 184.4"/><path d="M279.2 185.8L279.7 186.3L280.2 185.7L280.7 186.0L281.2 185.8L281.7 185.7L282.2 186.4L282.7 185.5L283.2 186.4L283.7 185.7L284.2 186.0L284.7 186.6L285.2 185.5L285.7 185.7L286.2 186.3L286.7 186.1L287.2 185.9L287.7 186.0L288.2 185.8L288.7 186.0L289.2 186.4L289.7 185.9L290.2 186.0L290.7 186.3L291.2 186.5L291.7 185.9L292.2 186.1L292.7 185.9M293.0 185.8L293.5 185.7L294.0 185.6L294.5 185.2L295.0 185.0L295.5 185.4L296.0 185.7L296.5 186.0L297.0 185.4L297.5 185.5L298.0 185.7L298.5 185.7L299.0 185.4L299.5 185.4L300.0 186.0L300.5 185.2L301.0 185.2L301.5 184.7L302.0 185.4L302.5 185.2L303.0 185.9L303.5 185.1L304.0 185.5L304.5 185.5L305.0 185.7L305.5 184.7L306.0 185.6L306.5 185.1L307.0 185.0L307.5 184.9L308.0 184.9L308.5 184.9L309.0 184.2L309.5 185.1L310.0 185.0L310.5 184.6L311.0 184.9L311.5 185.7L312.0 185.0L312.5 184.7L313.0 185.4L313.5 184.5L314.0 184.7L314.5 184.6L315.0 184.7L315.5 185.0L316.0 184.9L316.5 184.5L317.0 184.6L317.5 184.7L318.0 184.5L318.5 184.6L319.0 184.4L319.5 184.4L320.0 184.6L320.5 184.2L321.0 184.7L321.5 184.5L322.0 184.2L322.5 184.3L323.0 184.3L323.5 184.4L324.0 184.5L324.5 184.4L325.0 184.1L325.5 184.9L326.0 184.7L326.5 184.4L327.0 184.7L327.5 184.5L328.0 184.3L328.5 184.4L329.0 185.2L329.5 184.6L330.0 184.6L330.5 184.1L331.0 184.5L331.5 185.0L332.0 184.4L332.5 184.6L333.0 184.6L333.5 184.4L334.0 184.7L334.5 184.2L335.0 184.3L335.5 183.9L336.0 185.0L336.5 184.2L337.0 184.1L337.5 184.6L338.0 183.9L338.5 184.1L339.0 183.8L339.5 184.0L340.0 183.9L340.5 184.2L341.0 184.0L341.5 183.8L342.0 183.9L342.5 183.9L343.0 183.8L343.5 184.3L344.0 184.1L344.5 184.0L345.0 183.5L345.5 184.1L346.0 183.4L346.5 183.9L347.0 183.9L347.5 183.6L348.0 183.5L348.5 183.6L349.0 184.5L349.5 183.7L350.0 183.7L350.5 184.1L351.0 183.9L351.5 184.1L352.0 183.3L352.5 183.4L353.0 184.8L353.5 183.7L354.0 183.6L354.5 183.7L355.0 184.0L355.5 183.2L356.0 183.7L356.5 183.6L357.0 183.8L357.5 183.7L358.0 183.4L358.5 183.3L359.0 182.7L359.5 183.9L360.0 183.1L360.5 183.4L361.0 184.1L361.5 183.4L362.0 183.7L362.5 183.4L363.0 183.7L363.5 183.5L364.0 183.3L364.5 183.9L365.0 183.4L365.5 183.0L366.0 183.3L366.5 183.6L367.0 183.0L367.5 183.7L368.0 183.6L368.5 184.1L369.0 183.1L369.5 183.6L370.0 182.8L370.5 183.2L371.0 183.4L371.5 183.4L372.0 183.3L372.5 183.3L373.0 183.1L373.5 183.1L374.0 183.4L374.5 183.4L375.0 183.4L375.5 183.6L376.0 183.6L376.5 182.6L377.0 183.0L377.5 183.1L378.0 183.0L378.5 183.5L379.0 183.4L379.5 183.1L380.0 183.2L380.5 183.5L381.0 183.0L381.5 183.0L382.0 183.4L382.5 183.2L383.0 183.5L383.5 183.2L384.0 183.3L384.5 182.9L385.0 182.7L385.5 183.0L386.0 182.1"/><path d="M279.2 186.0L279.7 186.0L280.2 186.0L280.7 185.6L281.2 186.2L281.7 185.8L282.2 186.0L282.7 185.4L283.2 186.1L283.7 186.3L284.2 185.5L284.7 186.4L285.2 186.1L285.7 185.8L286.2 185.6L286.7 186.3L287.2 186.1L287.7 186.1L288.2 185.9L288.7 185.8L289.2 186.2L289.7 185.8L290.2 186.2L290.7 185.6L291.2 185.8L291.7 185.7L292.2 186.3L292.7 185.6M293.0 185.6L293.5 185.7L294.0 185.3L294.5 185.9L295.0 185.6L295.5 185.0L296.0 184.9L296.5 183.8L297.0 184.1L297.5 184.2L298.0 184.2L298.5 183.7L299.0 183.7L299.5 183.7L300.0 184.4L300.5 184.0L301.0 183.7L301.5 183.6L302.0 183.8L302.5 183.3L303.0 183.4L303.5 182.8L304.0 183.7L304.5 183.7L305.0 183.4L305.5 183.4L306.0 183.3L306.5 183.9L307.0 183.2L307.5 182.5L308.0 182.6L308.5 183.2L309.0 183.3L309.5 183.1L310.0 183.1L310.5 182.8L311.0 182.1L311.5 182.4L312.0 181.9L312.5 182.4L313.0 182.0L313.5 182.5L314.0 182.4L314.5 181.7L315.0 182.6L315.5 182.6L316.0 181.7L316.5 182.3L317.0 182.5L317.5 182.0L318.0 182.4L318.5 182.1L319.0 182.5L319.5 182.1L320.0 181.9L320.5 182.1L321.0 182.2L321.5 181.9L322.0 181.6L322.5 181.5L323.0 181.6L323.5 181.5L324.0 181.8L324.5 181.7L325.0 181.6L325.5 181.6L326.0 181.6L326.5 182.1L327.0 181.9L327.5 181.2L328.0 181.6L328.5 181.2L329.0 181.3L329.5 181.2L330.0 181.0L330.5 180.7L331.0 180.3L331.5 181.3L332.0 181.6L332.5 180.8L333.0 181.3L333.5 180.9L334.0 181.1L334.5 180.7L335.0 180.9L335.5 180.9L336.0 180.0L336.5 181.0L337.0 180.8L337.5 179.9L338.0 181.0L338.5 180.7L339.0 180.8L339.5 180.8L340.0 180.5L340.5 180.2L341.0 180.4L341.5 180.4L342.0 181.4L342.5 181.2L343.0 180.3L343.5 180.3L344.0 180.6L344.5 180.6L345.0 180.1L345.5 180.0L346.0 181.1L346.5 180.7L347.0 179.7L347.5 179.6L348.0 179.9L348.5 180.3L349.0 180.4L349.5 180.0L350.0 179.5L350.5 180.2L351.0 180.3L351.5 180.0L352.0 179.8L352.5 180.2L353.0 180.0L353.5 179.5L354.0 180.0L354.5 179.4L355.0 180.2L355.5 180.0L356.0 179.4L356.5 179.9L357.0 180.3L357.5 178.9L358.0 179.7L358.5 180.3L359.0 179.1L359.5 179.6L360.0 179.1L360.5 179.6L361.0 178.6L361.5 178.9L362.0 179.3L362.5 179.6L363.0 179.6L363.5 179.6L364.0 179.9L364.5 179.7L365.0 179.7L365.5 179.0L366.0 179.3L366.5 180.6L367.0 180.2L367.5 179.6L368.0 179.6L368.5 179.6L369.0 179.1L369.5 180.0L370.0 179.0L370.5 179.1L371.0 180.0L371.5 178.3L372.0 179.2L372.5 178.4L373.0 178.8L373.5 179.0L374.0 178.9L374.5 179.0L375.0 178.7L375.5 178.9L376.0 178.4L376.5 178.7L377.0 178.3L377.5 179.1L378.0 178.3L378.5 179.1L379.0 178.6L379.5 178.6L380.0 179.2L380.5 178.8L381.0 178.0L381.5 178.9L382.0 177.5L382.5 178.7L383.0 178.5L383.5 178.0L384.0 178.6L384.5 178.4L385.0 179.3L385.5 178.3L386.0 179.3"/><path d="M279.2 185.9L279.7 185.8L280.2 185.9L280.7 185.7L281.2 185.9L281.7 185.8L282.2 186.7L282.7 186.2L283.2 185.9L283.7 186.0L284.2 186.0L284.7 186.0L285.2 185.9L285.7 186.0L286.2 186.2L286.7 186.2L287.2 186.1L287.7 186.3L288.2 186.0L288.7 185.7L289.2 185.6L289.7 185.8L290.2 186.0L290.7 186.1L291.2 186.3L291.7 185.8L292.2 185.8L292.7 186.2M293.0 186.6L293.5 184.8L294.0 184.7L294.5 184.9L295.0 184.0L295.5 183.5L296.0 182.2L296.5 183.7L297.0 183.1L297.5 182.6L298.0 182.0L298.5 181.4L299.0 181.8L299.5 181.6L300.0 182.0L300.5 180.7L301.0 181.8L301.5 180.9L302.0 181.3L302.5 180.1L303.0 180.5L303.5 180.8L304.0 180.1L304.5 179.1L305.0 179.6L305.5 179.8L306.0 178.7L306.5 178.5L307.0 179.2L307.5 178.5L308.0 179.2L308.5 178.1L309.0 177.6L309.5 178.0L310.0 179.0L310.5 177.7L311.0 178.0L311.5 178.0L312.0 177.3L312.5 178.2L313.0 177.6L313.5 177.6L314.0 176.4L314.5 176.2L315.0 175.6L315.5 176.8L316.0 176.6L316.5 177.0L317.0 177.2L317.5 176.3L318.0 176.1L318.5 176.4L319.0 176.8L319.5 175.5L320.0 176.1L320.5 175.6L321.0 175.4L321.5 175.9L322.0 175.0L322.5 174.7L323.0 175.5L323.5 175.0L324.0 174.8L324.5 174.8L325.0 175.0L325.5 174.4L326.0 174.9L326.5 174.6L327.0 175.0L327.5 174.8L328.0 174.5L328.5 173.9L329.0 174.0L329.5 173.5L330.0 175.1L330.5 173.5L331.0 173.8L331.5 174.1L332.0 172.6L332.5 172.8L333.0 172.9L333.5 172.5L334.0 172.3L334.5 172.6L335.0 173.4L335.5 173.0L336.0 172.6L336.5 172.5L337.0 171.5L337.5 172.6L338.0 172.4L338.5 171.5L339.0 172.1L339.5 171.8L340.0 171.5L340.5 171.2L341.0 171.3L341.5 171.1L342.0 171.7L342.5 171.5L343.0 171.4L343.5 171.1L344.0 170.9L344.5 172.0L345.0 170.0L345.5 171.4L346.0 170.9L346.5 170.7L347.0 170.3L347.5 170.4L348.0 169.8L348.5 169.6L349.0 170.2L349.5 169.3L350.0 170.5L350.5 170.5L351.0 168.2L351.5 169.0L352.0 169.9L352.5 169.8L353.0 169.6L353.5 169.7L354.0 169.8L354.5 169.8L355.0 170.1L355.5 169.2L356.0 169.5L356.5 168.2L357.0 168.9L357.5 168.2L358.0 169.5L358.5 169.8L359.0 168.9L359.5 167.9L360.0 168.4L360.5 168.4L361.0 168.4L361.5 168.8L362.0 168.6L362.5 166.7L363.0 168.7L363.5 167.7L364.0 167.5L364.5 168.5L365.0 167.5L365.5 166.9L366.0 166.9L366.5 167.5L367.0 167.8L367.5 168.0L368.0 167.1L368.5 166.9L369.0 167.9L369.5 166.8L370.0 167.6L370.5 167.0L371.0 166.9L371.5 166.6L372.0 166.8L372.5 166.3L373.0 166.1L373.5 166.3L374.0 166.0L374.5 166.4L375.0 166.2L375.5 166.0L376.0 165.9L376.5 165.9L377.0 166.8L377.5 165.8L378.0 165.5L378.5 165.5L379.0 165.9L379.5 165.4L380.0 165.4L380.5 165.3L381.0 165.4L381.5 165.5L382.0 165.4L382.5 164.3L383.0 164.5L383.5 163.7L384.0 165.3L384.5 165.4L385.0 165.4L385.5 164.8L386.0 165.2"/><path d="M279.2 186.3L279.7 186.2L280.2 186.3L280.7 186.2L281.2 186.1L281.7 186.4L282.2 185.8L282.7 186.2L283.2 186.3L283.7 185.8L284.2 185.7L284.7 186.1L285.2 186.0L285.7 186.1L286.2 186.2L286.7 185.8L287.2 186.1L287.7 186.3L288.2 185.9L288.7 185.9L289.2 185.7L289.7 186.2L290.2 186.5L290.7 185.7L291.2 186.2L291.7 186.2L292.2 185.9L292.7 185.9M293.0 185.3L293.5 185.1L294.0 185.3L294.5 185.2L295.0 184.4L295.5 184.5L296.0 183.7L296.5 182.4L297.0 183.8L297.5 183.2L298.0 181.5L298.5 182.9L299.0 181.6L299.5 181.0L300.0 181.9L300.5 178.5L301.0 178.8L301.5 180.0L302.0 179.0L302.5 178.2L303.0 179.5L303.5 178.5L304.0 177.0L304.5 177.1L305.0 177.8L305.5 178.1L306.0 175.2L306.5 176.5L307.0 175.7L307.5 174.5L308.0 175.3L308.5 174.0L309.0 174.5L309.5 175.6L310.0 174.6L310.5 174.5L311.0 174.1L311.5 173.7L312.0 173.8L312.5 172.1L313.0 172.4L313.5 173.0L314.0 171.6L314.5 171.6L315.0 172.5L315.5 172.4L316.0 170.7L316.5 170.3L317.0 171.1L317.5 170.6L318.0 169.7L318.5 170.4L319.0 170.1L319.5 169.6L320.0 171.3L320.5 170.0L321.0 169.4L321.5 169.4L322.0 170.5L322.5 169.0L323.0 167.5L323.5 168.0L324.0 167.7L324.5 167.0L325.0 167.4L325.5 167.2L326.0 166.8L326.5 166.3L327.0 167.0L327.5 165.2L328.0 166.7L328.5 165.9L329.0 165.9L329.5 163.9L330.0 166.5L330.5 164.0L331.0 164.4L331.5 165.3L332.0 164.3L332.5 164.2L333.0 162.8L333.5 163.9L334.0 164.2L334.5 164.3L335.0 163.5L335.5 163.7L336.0 163.7L336.5 162.8L337.0 162.6L337.5 164.3L338.0 162.2L338.5 163.5L339.0 162.6L339.5 163.4L340.0 161.8L340.5 162.5L341.0 162.2L341.5 161.7L342.0 161.9L342.5 161.0L343.0 161.4L343.5 161.0L344.0 161.7L344.5 161.0L345.0 160.0L345.5 160.6L346.0 160.6L346.5 159.9L347.0 161.4L347.5 160.6L348.0 160.8L348.5 159.6L349.0 159.7L349.5 160.6L350.0 158.8L350.5 159.9L351.0 159.6L351.5 159.1L352.0 159.4L352.5 158.5L353.0 159.2L353.5 158.2L354.0 158.0L354.5 159.7L355.0 158.2L355.5 157.1L356.0 159.2L356.5 157.9L357.0 155.9L357.5 158.1L358.0 158.7L358.5 158.2L359.0 159.1L359.5 157.7L360.0 158.1L360.5 156.9L361.0 157.7L361.5 158.5L362.0 157.7L362.5 157.4L363.0 155.8L363.5 156.8L364.0 156.1L364.5 157.5L365.0 156.3L365.5 157.0L366.0 156.0L366.5 157.9L367.0 155.7L367.5 156.6L368.0 158.2L368.5 156.5L369.0 155.6L369.5 156.6L370.0 156.8L370.5 156.6L371.0 154.6L371.5 156.0L372.0 154.3L372.5 157.0L373.0 155.7L373.5 155.3L374.0 156.0L374.5 155.8L375.0 154.6L375.5 156.4L376.0 155.1L376.5 154.0L377.0 156.1L377.5 156.1L378.0 155.8L378.5 155.3L379.0 154.2L379.5 155.4L380.0 156.0L380.5 155.2L381.0 155.7L381.5 154.0L382.0 155.2L382.5 155.1L383.0 153.3L383.5 153.2L384.0 153.8L384.5 154.3L385.0 154.5L385.5 153.9L386.0 154.0"/><path d="M279.2 185.7L279.7 185.8L280.2 185.8L280.7 185.9L281.2 185.9L281.7 186.0L282.2 186.3L282.7 185.7L283.2 185.6L283.7 185.6L284.2 186.3L284.7 186.4L285.2 185.6L285.7 185.6L286.2 186.1L286.7 186.3L287.2 186.3L287.7 186.1L288.2 186.2L288.7 186.1L289.2 185.9L289.7 186.5L290.2 186.0L290.7 185.7L291.2 185.9L291.7 185.6L292.2 186.0L292.7 186.3M293.0 185.1L293.5 185.9L294.0 185.7L294.5 183.4L295.0 181.2L295.5 180.5L296.0 180.1L296.5 178.5L297.0 177.7L297.5 177.7L298.0 176.9L298.5 176.8L299.0 174.6L299.5 176.4L300.0 175.0L300.5 174.2L301.0 172.3L301.5 173.6L302.0 171.3L302.5 172.5L303.0 171.3L303.5 169.2L304.0 169.0L304.5 170.3L305.0 169.1L305.5 167.7L306.0 167.5L306.5 167.0L307.0 165.8L307.5 165.8L308.0 165.0L308.5 164.7L309.0 165.0L309.5 163.5L310.0 164.4L310.5 163.6L311.0 163.7L311.5 163.5L312.0 163.4L312.5 162.6L313.0 162.3L313.5 161.2L314.0 161.5L314.5 160.0L315.0 160.3L315.5 160.8L316.0 159.8L316.5 160.0L317.0 158.5L317.5 160.2L318.0 158.3L318.5 158.9L319.0 158.3L319.5 158.8L320.0 157.5L320.5 156.8L321.0 155.8L321.5 156.9L322.0 155.9L322.5 157.1L323.0 157.6L323.5 154.5L324.0 155.0L324.5 156.1L325.0 156.7L325.5 155.7L326.0 155.6L326.5 155.5L327.0 155.4L327.5 156.1L328.0 155.1L328.5 153.4L329.0 153.9L329.5 154.3L330.0 153.3L330.5 153.6L331.0 153.2L331.5 152.9L332.0 153.9L332.5 152.9L333.0 152.2L333.5 152.3L334.0 152.8L334.5 154.3L335.0 152.7L335.5 153.6L336.0 152.6L336.5 150.4L337.0 152.3L337.5 151.2L338.0 150.6L338.5 150.7L339.0 152.9L339.5 150.1L340.0 150.8L340.5 152.1L341.0 151.6L341.5 149.5L342.0 150.7L342.5 150.3L343.0 150.4L343.5 151.1L344.0 149.9L344.5 150.0L345.0 151.3L345.5 148.6L346.0 149.7L346.5 150.3L347.0 148.8L347.5 149.2L348.0 148.5L348.5 149.6L349.0 148.9L349.5 149.9L350.0 150.0L350.5 149.2L351.0 148.7L351.5 149.2L352.0 148.9L352.5 147.8L353.0 149.6L353.5 148.8L354.0 149.2L354.5 147.3L355.0 149.1L355.5 150.0L356.0 148.7L356.5 146.9L357.0 148.1L357.5 147.9L358.0 148.1L358.5 147.6L359.0 148.1L359.5 147.3L360.0 147.8L360.5 146.9L361.0 147.5L361.5 148.2L362.0 146.9L362.5 147.7L363.0 146.4L363.5 146.8L364.0 146.8L364.5 147.9L365.0 146.2L365.5 147.8L366.0 145.5L366.5 146.5L367.0 147.3L367.5 147.1L368.0 145.6L368.5 145.4L369.0 147.0L369.5 145.2L370.0 146.7L370.5 145.7L371.0 146.1L371.5 147.9L372.0 147.2L372.5 146.6L373.0 144.7L373.5 146.0L374.0 145.7L374.5 145.6L375.0 146.7L375.5 144.1L376.0 145.7L376.5 145.5L377.0 144.7L377.5 146.7L378.0 144.2L378.5 145.2L379.0 145.2L379.5 143.3L380.0 143.8L380.5 144.2L381.0 145.5L381.5 145.6L382.0 145.3L382.5 144.9L383.0 142.9L383.5 144.8L384.0 144.2L384.5 145.5L385.0 145.6L385.5 146.2L386.0 144.9"/><path d="M279.2 185.8L279.7 186.0L280.2 185.8L280.7 186.6L281.2 186.2L281.7 186.1L282.2 185.8L282.7 186.2L283.2 186.2L283.7 185.9L284.2 185.9L284.7 185.6L285.2 186.0L285.7 186.2L286.2 186.3L286.7 186.2L287.2 186.2L287.7 185.9L288.2 185.9L288.7 186.3L289.2 186.1L289.7 185.8L290.2 186.1L290.7 186.2L291.2 186.2L291.7 186.0L292.2 185.9L292.7 186.1M293.0 187.3L293.5 184.7L294.0 182.6L294.5 182.1L295.0 179.6L295.5 179.6L296.0 178.0L296.5 177.9L297.0 176.2L297.5 176.0L298.0 176.0L298.5 173.2L299.0 171.9L299.5 172.1L300.0 170.9L300.5 170.4L301.0 169.1L301.5 169.4L302.0 168.4L302.5 166.0L303.0 167.0L303.5 166.9L304.0 167.0L304.5 165.2L305.0 164.5L305.5 165.6L306.0 163.8L306.5 164.0L307.0 163.9L307.5 163.7L308.0 162.8L308.5 161.5L309.0 162.9L309.5 161.4L310.0 161.1L310.5 162.8L311.0 161.6L311.5 159.8L312.0 160.0L312.5 160.0L313.0 159.3L313.5 158.2L314.0 160.1L314.5 159.9L315.0 159.3L315.5 158.6L316.0 158.9L316.5 159.0L317.0 157.5L317.5 157.9L318.0 157.6L318.5 158.4L319.0 157.9L319.5 156.5L320.0 156.9L320.5 158.7L321.0 156.4L321.5 157.1L322.0 156.4L322.5 157.7L323.0 156.6L323.5 156.2L324.0 155.5L324.5 156.1L325.0 156.8L325.5 156.6L326.0 155.0L326.5 157.1L327.0 155.6L327.5 154.9L328.0 155.7L328.5 155.0L329.0 155.0L329.5 154.8L330.0 155.2L330.5 154.8L331.0 153.7L331.5 155.4L332.0 154.5L332.5 155.8L333.0 155.2L333.5 155.2L334.0 154.7L334.5 155.5L335.0 154.2L335.5 153.6L336.0 154.6L336.5 152.1L337.0 153.9L337.5 154.3L338.0 153.7L338.5 154.9L339.0 154.4L339.5 153.9L340.0 153.5L340.5 154.6L341.0 153.1L341.5 153.3L342.0 154.1L342.5 153.9L343.0 155.0L343.5 153.2L344.0 151.8L344.5 153.7L345.0 154.1L345.5 153.0L346.0 154.3L346.5 154.4L347.0 152.4L347.5 152.5L348.0 151.9L348.5 153.2L349.0 153.3L349.5 153.1L350.0 151.7L350.5 152.0L351.0 151.4L351.5 151.2L352.0 151.4L352.5 151.1L353.0 152.2L353.5 152.6L354.0 152.7L354.5 152.1L355.0 151.6L355.5 152.1L356.0 152.5L356.5 151.7L357.0 152.0L357.5 151.6L358.0 151.4L358.5 151.8L359.0 150.9L359.5 152.5L360.0 150.4L360.5 151.9L361.0 150.5L361.5 152.7L362.0 152.1L362.5 150.8L363.0 151.0L363.5 150.5L364.0 151.2L364.5 151.6L365.0 153.2L365.5 150.1L366.0 152.1L366.5 150.6L367.0 151.2L367.5 151.7L368.0 151.4L368.5 151.2L369.0 150.7L369.5 150.8L370.0 150.9L370.5 151.7L371.0 149.6L371.5 150.3L372.0 149.7L372.5 149.8L373.0 149.9L373.5 151.3L374.0 152.1L374.5 151.5L375.0 149.5L375.5 150.4L376.0 149.4L376.5 150.6L377.0 151.2L377.5 150.7L378.0 150.8L378.5 150.0L379.0 148.6L379.5 148.5L380.0 149.9L380.5 150.4L381.0 150.9L381.5 149.6L382.0 149.9L382.5 150.0L383.0 150.6L383.5 149.7L384.0 148.9L384.5 150.5L385.0 150.0L385.5 149.9L386.0 148.6"/><path d="M279.2 185.6L279.7 185.8L280.2 186.1L280.7 186.2L281.2 185.6L281.7 185.9L282.2 185.6L282.7 185.9L283.2 186.9L283.7 186.0L284.2 185.9L284.7 185.8L285.2 185.7L285.7 185.5L286.2 186.0L286.7 185.9L287.2 186.4L287.7 185.6L288.2 186.1L288.7 186.3L289.2 185.5L289.7 186.2L290.2 185.6L290.7 186.1L291.2 186.4L291.7 186.0L292.2 186.1L292.7 185.8M293.0 176.2L293.5 175.6L294.0 173.8L294.5 172.9L295.0 172.4L295.5 171.9L296.0 169.6L296.5 170.0L297.0 168.9L297.5 169.1L298.0 168.9L298.5 167.9L299.0 168.1L299.5 166.3L300.0 166.2L300.5 165.5L301.0 165.8L301.5 165.5L302.0 165.1L302.5 164.2L303.0 164.6L303.5 164.2L304.0 164.6L304.5 163.9L305.0 164.6L305.5 163.8L306.0 162.4L306.5 163.3L307.0 162.4L307.5 163.7L308.0 163.9L308.5 162.9L309.0 163.0L309.5 161.8L310.0 161.2L310.5 162.1L311.0 162.2L311.5 161.4L312.0 162.3L312.5 162.4L313.0 162.5L313.5 163.0L314.0 162.5L314.5 161.7L315.0 161.9L315.5 162.2L316.0 161.1L316.5 162.5L317.0 162.2L317.5 161.5L318.0 161.2L318.5 163.9L319.0 162.0L319.5 162.0L320.0 162.5L320.5 162.0L321.0 161.5L321.5 161.7L322.0 160.7L322.5 161.7L323.0 160.3L323.5 161.4L324.0 161.5L324.5 160.2L325.0 162.3L325.5 160.3L326.0 161.7L326.5 160.7L327.0 161.2L327.5 160.5L328.0 162.4L328.5 161.5L329.0 162.0L329.5 161.3L330.0 161.2L330.5 160.9L331.0 160.6L331.5 161.1L332.0 160.8L332.5 160.6L333.0 159.8L333.5 160.5L334.0 161.0L334.5 160.3L335.0 160.8L335.5 160.5L336.0 159.9L336.5 160.0L337.0 160.1L337.5 160.3L338.0 160.3L338.5 161.1L339.0 159.8L339.5 159.1L340.0 160.8L340.5 160.1L341.0 160.3L341.5 161.9L342.0 161.2L342.5 160.7L343.0 160.9L343.5 160.3L344.0 160.8L344.5 159.8L345.0 159.8L345.5 159.9L346.0 161.1L346.5 161.1L347.0 159.8L347.5 160.8L348.0 160.0L348.5 160.7L349.0 159.9L349.5 160.6L350.0 160.0L350.5 159.8L351.0 160.0L351.5 160.1L352.0 159.6L352.5 159.1L353.0 161.0L353.5 159.7L354.0 158.8L354.5 158.5L355.0 158.1L355.5 159.5L356.0 160.7L356.5 158.8L357.0 159.6L357.5 158.6L358.0 160.4L358.5 160.0L359.0 159.9L359.5 160.5L360.0 160.7L360.5 160.3L361.0 159.3L361.5 158.8L362.0 159.0L362.5 158.5L363.0 160.7L363.5 159.5L364.0 159.7L364.5 159.7L365.0 160.8L365.5 159.2L366.0 160.3L366.5 159.7L367.0 159.4L367.5 158.3L368.0 160.0L368.5 159.0L369.0 159.2L369.5 159.6L370.0 159.5L370.5 160.1L371.0 159.0L371.5 159.5L372.0 159.5L372.5 159.4L373.0 159.8L373.5 159.2L374.0 160.1L374.5 158.9L375.0 158.4L375.5 159.2L376.0 160.0L376.5 158.9L377.0 158.8L377.5 159.0L378.0 159.3L378.5 159.1L379.0 159.4L379.5 158.1L380.0 160.1L380.5 159.5L381.0 158.6L381.5 160.0L382.0 159.4L382.5 160.0L383.0 158.4L383.5 160.1L384.0 159.1L384.5 157.8L385.0 159.5L385.5 158.9L386.0 158.4"/><path d="M279.2 185.9L279.7 186.4L280.2 185.7L280.7 185.8L281.2 186.1L281.7 186.1L282.2 186.0L282.7 186.5L283.2 186.0L283.7 186.1L284.2 185.9L284.7 186.4L285.2 186.2L285.7 186.1L286.2 185.6L286.7 186.1L287.2 185.9L287.7 186.1L288.2 186.2L288.7 185.8L289.2 186.1L289.7 186.2L290.2 186.0L290.7 185.9L291.2 185.7L291.7 185.8L292.2 185.7L292.7 186.3M293.0 172.1L293.5 170.6L294.0 170.7L294.5 169.5L295.0 167.9L295.5 170.0L296.0 169.7L296.5 168.0L297.0 168.2L297.5 168.5L298.0 168.0L298.5 167.6L299.0 167.7L299.5 167.7L300.0 167.4L300.5 167.8L301.0 167.5L301.5 167.1L302.0 167.5L302.5 166.5L303.0 168.2L303.5 166.4L304.0 167.3L304.5 167.5L305.0 167.5L305.5 167.4L306.0 168.0L306.5 166.6L307.0 167.2L307.5 167.3L308.0 166.9L308.5 166.9L309.0 167.9L309.5 166.8L310.0 166.9L310.5 167.0L311.0 167.0L311.5 167.2L312.0 167.0L312.5 167.3L313.0 167.2L313.5 167.4L314.0 167.8L314.5 166.6L315.0 168.0L315.5 166.8L316.0 167.4L316.5 167.1L317.0 166.9L317.5 166.0L318.0 167.9L318.5 166.6L319.0 166.6L319.5 167.6L320.0 167.0L320.5 168.0L321.0 167.9L321.5 167.4L322.0 167.1L322.5 167.4L323.0 166.2L323.5 167.1L324.0 167.0L324.5 166.7L325.0 167.1L325.5 166.1L326.0 167.4L326.5 167.6L327.0 166.2L327.5 167.0L328.0 167.8L328.5 167.1L329.0 166.3L329.5 166.4L330.0 167.4L330.5 167.9L331.0 166.3L331.5 166.9L332.0 166.4L332.5 166.7L333.0 167.0L333.5 166.8L334.0 166.5L334.5 168.0L335.0 166.8L335.5 166.7L336.0 167.4L336.5 166.8L337.0 166.7L337.5 167.3L338.0 166.2L338.5 167.2L339.0 167.4L339.5 167.2L340.0 166.7L340.5 166.8L341.0 165.8L341.5 166.7L342.0 166.9L342.5 167.2L343.0 166.8L343.5 166.5L344.0 166.3L344.5 166.7L345.0 166.8L345.5 167.4L346.0 166.7L346.5 166.5L347.0 166.7L347.5 166.5L348.0 166.6L348.5 165.5L349.0 165.9L349.5 166.1L350.0 167.0L350.5 166.7L351.0 166.8L351.5 167.3L352.0 166.1L352.5 167.3L353.0 166.9L353.5 166.3L354.0 167.5L354.5 165.9L355.0 166.1L355.5 166.6L356.0 166.9L356.5 166.6L357.0 165.5L357.5 166.5L358.0 166.6L358.5 168.0L359.0 167.4L359.5 166.7L360.0 166.0L360.5 166.8L361.0 166.0L361.5 166.7L362.0 166.8L362.5 166.4L363.0 166.8L363.5 166.4L364.0 166.3L364.5 167.4L365.0 166.9L365.5 166.4L366.0 166.2L366.5 166.7L367.0 166.9L367.5 167.1L368.0 167.4L368.5 166.8L369.0 166.0L369.5 167.7L370.0 167.2L370.5 167.0L371.0 167.3L371.5 165.8L372.0 166.4L372.5 166.3L373.0 167.2L373.5 165.9L374.0 166.4L374.5 167.4L375.0 166.9L375.5 166.3L376.0 167.6L376.5 165.8L377.0 166.8L377.5 166.4L378.0 166.8L378.5 166.4L379.0 166.1L379.5 166.7L380.0 165.8L380.5 166.8L381.0 166.4L381.5 167.0L382.0 166.3L382.5 166.2L383.0 166.7L383.5 167.2L384.0 165.4L384.5 166.6L385.0 166.9L385.5 165.7L386.0 166.0"/><path d="M279.2 185.7L279.7 186.1L280.2 186.4L280.7 186.2L281.2 185.7L281.7 185.3L282.2 186.2L282.7 186.1L283.2 185.9L283.7 186.3L284.2 185.9L284.7 186.0L285.2 185.7L285.7 186.1L286.2 185.9L286.7 185.9L287.2 186.3L287.7 186.1L288.2 185.6L288.7 186.2L289.2 186.2L289.7 185.8L290.2 185.9L290.7 186.0L291.2 185.9L291.7 186.0L292.2 186.2L292.7 185.9M293.0 171.0L293.5 169.4L294.0 169.4L294.5 170.5L295.0 170.6L295.5 169.4L296.0 169.2L296.5 168.7L297.0 169.8L297.5 169.3L298.0 168.7L298.5 169.3L299.0 169.8L299.5 169.4L300.0 170.2L300.5 169.7L301.0 169.3L301.5 169.1L302.0 169.4L302.5 169.7L303.0 169.5L303.5 169.6L304.0 169.2L304.5 169.4L305.0 169.7L305.5 169.0L306.0 168.4L306.5 169.9L307.0 169.4L307.5 168.8L308.0 169.2L308.5 168.9L309.0 168.2L309.5 169.0L310.0 168.3L310.5 169.2L311.0 169.0L311.5 169.6L312.0 169.0L312.5 169.2L313.0 168.9L313.5 168.9L314.0 168.4L314.5 169.5L315.0 169.1L315.5 168.8L316.0 169.2L316.5 168.8L317.0 168.7L317.5 169.2L318.0 169.7L318.5 168.9L319.0 168.3L319.5 168.7L320.0 169.9L320.5 168.6L321.0 169.6L321.5 168.9L322.0 169.4L322.5 169.0L323.0 168.3L323.5 168.8L324.0 170.1L324.5 169.0L325.0 169.3L325.5 168.9L326.0 169.0L326.5 169.2L327.0 169.3L327.5 170.1L328.0 169.0L328.5 168.9L329.0 168.7L329.5 168.4L330.0 168.2L330.5 169.4L331.0 168.1L331.5 169.7L332.0 169.5L332.5 168.9L333.0 168.5L333.5 169.0L334.0 169.0L334.5 169.6L335.0 168.7L335.5 168.8L336.0 169.0L336.5 168.9L337.0 168.7L337.5 168.2L338.0 168.2L338.5 168.7L339.0 168.9L339.5 169.5L340.0 170.2L340.5 169.9L341.0 169.2L341.5 170.0L342.0 169.0L342.5 168.8L343.0 170.2L343.5 168.5L344.0 168.8L344.5 168.9L345.0 169.8L345.5 168.7L346.0 169.4L346.5 168.8L347.0 168.4L347.5 169.1L348.0 169.1L348.5 168.4L349.0 168.6L349.5 168.6L350.0 169.5L350.5 169.3L351.0 169.1L351.5 169.3L352.0 168.8L352.5 169.3L353.0 168.7L353.5 168.4L354.0 168.7L354.5 169.1L355.0 169.1L355.5 169.5L356.0 168.2L356.5 168.9L357.0 169.2L357.5 168.5L358.0 169.1L358.5 168.8L359.0 168.5L359.5 169.6L360.0 168.3L360.5 169.5L361.0 168.8L361.5 168.5L362.0 168.6L362.5 168.6L363.0 168.6L363.5 169.1L364.0 168.1L364.5 169.6L365.0 169.4L365.5 169.7L366.0 168.5L366.5 167.9L367.0 168.7L367.5 168.9L368.0 169.2L368.5 168.8L369.0 169.0L369.5 169.1L370.0 168.2L370.5 169.9L371.0 168.4L371.5 169.1L372.0 169.5L372.5 168.6L373.0 169.0L373.5 169.8L374.0 168.9L374.5 169.5L375.0 169.2L375.5 169.1L376.0 169.4L376.5 168.9L377.0 168.9L377.5 169.5L378.0 169.1L378.5 169.3L379.0 168.4L379.5 169.0L380.0 169.6L380.5 169.5L381.0 169.2L381.5 168.7L382.0 168.7L382.5 169.2L383.0 169.7L383.5 169.0L384.0 169.7L384.5 168.9L385.0 169.6L385.5 168.5L386.0 169.1"/><path d="M279.2 185.9L279.7 185.7L280.2 185.8L280.7 185.7L281.2 186.4L281.7 185.7L282.2 185.7L282.7 186.0L283.2 186.4L283.7 185.6L284.2 185.6L284.7 186.0L285.2 186.1L285.7 185.6L286.2 185.5L286.7 185.8L287.2 186.2L287.7 186.0L288.2 186.2L288.7 186.0L289.2 186.0L289.7 186.1L290.2 186.0L290.7 186.1L291.2 185.8L291.7 185.8L292.2 186.1L292.7 185.9M293.0 168.6L293.5 169.8L294.0 170.0L294.5 169.9L295.0 169.6L295.5 170.5L296.0 171.3L296.5 169.7L297.0 169.4L297.5 169.7L298.0 169.7L298.5 169.5L299.0 169.6L299.5 170.6L300.0 170.6L300.5 170.9L301.0 170.5L301.5 169.9L302.0 170.7L302.5 169.8L303.0 170.0L303.5 169.6L304.0 170.8L304.5 170.7L305.0 169.9L305.5 170.0L306.0 170.2L306.5 170.3L307.0 170.6L307.5 170.2L308.0 170.4L308.5 169.4L309.0 170.0L309.5 169.3L310.0 171.0L310.5 170.9L311.0 170.5L311.5 170.7L312.0 171.2L312.5 170.6L313.0 169.4L313.5 170.1L314.0 169.0L314.5 169.7L315.0 169.5L315.5 170.2L316.0 170.4L316.5 169.7L317.0 170.0L317.5 170.3L318.0 170.1L318.5 170.1L319.0 169.0L319.5 169.9L320.0 170.6L320.5 170.3L321.0 169.4L321.5 170.0L322.0 170.3L322.5 169.7L323.0 170.5L323.5 169.8L324.0 170.0L324.5 170.1L325.0 171.3L325.5 170.0L326.0 169.9L326.5 170.5L327.0 169.9L327.5 170.3L328.0 169.0L328.5 170.3L329.0 170.2L329.5 169.5L330.0 170.8L330.5 170.0L331.0 170.1L331.5 169.5L332.0 169.4L332.5 169.9L333.0 169.4L333.5 170.4L334.0 170.6L334.5 169.8L335.0 169.4L335.5 170.0L336.0 169.6L336.5 170.2L337.0 170.3L337.5 170.0L338.0 170.2L338.5 170.7L339.0 171.0L339.5 169.9L340.0 170.5L340.5 170.0L341.0 169.6L341.5 170.8L342.0 170.4L342.5 170.2L343.0 170.3L343.5 170.1L344.0 169.6L344.5 171.1L345.0 170.6L345.5 170.3L346.0 170.6L346.5 170.8L347.0 170.1L347.5 170.5L348.0 170.0L348.5 170.5L349.0 170.0L349.5 171.4L350.0 170.0L350.5 170.4L351.0 170.4L351.5 170.0L352.0 170.6L352.5 170.1L353.0 170.0L353.5 170.2L354.0 169.8L354.5 170.8L355.0 170.5L355.5 170.7L356.0 169.5L356.5 170.3L357.0 169.8L357.5 170.2L358.0 170.8L358.5 170.3L359.0 170.1L359.5 170.7L360.0 170.7L360.5 171.1L361.0 169.2L361.5 170.3L362.0 170.0L362.5 169.7L363.0 170.2L363.5 169.6L364.0 169.1L364.5 169.7L365.0 170.0L365.5 171.1L366.0 169.8L366.5 169.6L367.0 169.2L367.5 170.0L368.0 170.1L368.5 170.2L369.0 169.5L369.5 169.8L370.0 169.0L370.5 170.3L371.0 169.4L371.5 168.8L372.0 170.8L372.5 170.4L373.0 170.4L373.5 170.4L374.0 169.7L374.5 170.7L375.0 169.7L375.5 171.1L376.0 170.3L376.5 169.3L377.0 170.6L377.5 171.2L378.0 170.1L378.5 170.7L379.0 170.1L379.5 169.9L380.0 168.9L380.5 170.8L381.0 170.0L381.5 170.4L382.0 169.6L382.5 169.7L383.0 170.7L383.5 170.0L384.0 170.0L384.5 169.5L385.0 170.3L385.5 170.6L386.0 170.0"/><path d="M279.2 185.7L279.7 185.8L280.2 186.6L280.7 185.8L281.2 186.7L281.7 186.0L282.2 185.9L282.7 186.3L283.2 185.9L283.7 186.1L284.2 185.7L284.7 185.7L285.2 185.8L285.7 186.1L286.2 185.8L286.7 185.5L287.2 186.1L287.7 186.0L288.2 185.9L288.7 185.8L289.2 185.4L289.7 186.4L290.2 185.9L290.7 186.1L291.2 186.4L291.7 186.3L292.2 186.1L292.7 186.0M293.0 170.2L293.5 171.0L294.0 171.2L294.5 170.9L295.0 171.4L295.5 171.5L296.0 171.7L296.5 171.5L297.0 172.1L297.5 171.5L298.0 171.8L298.5 171.4L299.0 171.1L299.5 170.9L300.0 171.3L300.5 171.7L301.0 172.0L301.5 171.4L302.0 171.1L302.5 171.1L303.0 172.1L303.5 171.5L304.0 171.1L304.5 171.8L305.0 170.7L305.5 171.5L306.0 171.4L306.5 171.3L307.0 170.8L307.5 171.9L308.0 172.3L308.5 170.7L309.0 171.5L309.5 171.7L310.0 172.6L310.5 171.2L311.0 170.9L311.5 171.4L312.0 172.4L312.5 171.4L313.0 171.5L313.5 172.3L314.0 170.3L314.5 170.3L315.0 171.9L315.5 171.8L316.0 170.7L316.5 171.7L317.0 171.4L317.5 171.5L318.0 171.0L318.5 171.2L319.0 171.0L319.5 171.4L320.0 171.3L320.5 172.3L321.0 171.7L321.5 170.6L322.0 171.6L322.5 172.1L323.0 171.5L323.5 172.0L324.0 171.4L324.5 171.8L325.0 170.9L325.5 171.8L326.0 170.7L326.5 172.1L327.0 170.6L327.5 170.3L328.0 171.7L328.5 171.3L329.0 171.5L329.5 171.6L330.0 171.4L330.5 170.9L331.0 171.5L331.5 171.6L332.0 171.7L332.5 172.4L333.0 171.0L333.5 171.4L334.0 171.7L334.5 171.2L335.0 170.8L335.5 171.1L336.0 171.9L336.5 171.3L337.0 171.7L337.5 171.0L338.0 171.6L338.5 171.1L339.0 171.0L339.5 171.5L340.0 171.4L340.5 172.2L341.0 170.6L341.5 171.7L342.0 172.2L342.5 172.1L343.0 171.2L343.5 171.1L344.0 171.1L344.5 171.6L345.0 171.5L345.5 171.6L346.0 171.7L346.5 170.9L347.0 170.8L347.5 170.8L348.0 170.7L348.5 171.3L349.0 171.6L349.5 172.7L350.0 171.7L350.5 171.4L351.0 172.1L351.5 171.0L352.0 171.6L352.5 171.9L353.0 171.8L353.5 171.6L354.0 171.2L354.5 170.8L355.0 171.3L355.5 171.1L356.0 171.8L356.5 171.3L357.0 171.7L357.5 170.6L358.0 171.9L358.5 171.0L359.0 170.6L359.5 170.7L360.0 171.1L360.5 172.0L361.0 171.8L361.5 170.8L362.0 171.4L362.5 171.3L363.0 170.6L363.5 170.9L364.0 170.4L364.5 171.0L365.0 170.0L365.5 171.0L366.0 170.9L366.5 171.0L367.0 171.0L367.5 172.0L368.0 171.2L368.5 171.5L369.0 171.8L369.5 171.9L370.0 171.7L370.5 171.1L371.0 170.8L371.5 171.0L372.0 171.2L372.5 171.4L373.0 171.4L373.5 172.0L374.0 171.3L374.5 172.3L375.0 171.9L375.5 171.2L376.0 171.8L376.5 169.9L377.0 172.1L377.5 171.6L378.0 171.6L378.5 170.5L379.0 172.7L379.5 171.3L380.0 171.3L380.5 172.0L381.0 171.3L381.5 171.0L382.0 171.7L382.5 170.9L383.0 171.8L383.5 171.5L384.0 172.0L384.5 170.8L385.0 172.0L385.5 171.6L386.0 172.4"/><path d="M279.2 186.3L279.7 186.0L280.2 185.8L280.7 185.8L281.2 185.8L281.7 185.8L282.2 185.6L282.7 186.3L283.2 186.1L283.7 186.2L284.2 185.9L284.7 186.1L285.2 186.0L285.7 186.3L286.2 186.2L286.7 186.1L287.2 185.8L287.7 185.7L288.2 185.8L288.7 185.8L289.2 185.9L289.7 185.7L290.2 186.4L290.7 186.1L291.2 185.5L291.7 185.7L292.2 185.7L292.7 186.1M293.0 171.5L293.5 171.1L294.0 172.3L294.5 172.1L295.0 173.0L295.5 173.2L296.0 172.7L296.5 172.9L297.0 172.6L297.5 172.4L298.0 172.0L298.5 172.8L299.0 172.6L299.5 172.4L300.0 172.6L300.5 172.5L301.0 172.1L301.5 172.3L302.0 173.2L302.5 172.5L303.0 173.3L303.5 172.0L304.0 171.9L304.5 172.7L305.0 173.0L305.5 172.3L306.0 172.9L306.5 173.1L307.0 173.1L307.5 172.5L308.0 172.6L308.5 171.8L309.0 172.6L309.5 172.7L310.0 173.3L310.5 172.0L311.0 172.2L311.5 172.1L312.0 173.1L312.5 171.3L313.0 172.1L313.5 173.6L314.0 172.9L314.5 171.9L315.0 172.6L315.5 173.0L316.0 172.9L316.5 172.5L317.0 172.2L317.5 173.0L318.0 172.6L318.5 173.0L319.0 172.8L319.5 172.4L320.0 173.3L320.5 172.3L321.0 172.8L321.5 172.3L322.0 172.5L322.5 172.5L323.0 172.3L323.5 172.7L324.0 173.3L324.5 173.5L325.0 173.3L325.5 172.5L326.0 173.3L326.5 172.8L327.0 173.5L327.5 172.0L328.0 173.3L328.5 172.3L329.0 173.2L329.5 172.4L330.0 173.1L330.5 172.5L331.0 171.7L331.5 172.1L332.0 172.5L332.5 172.6L333.0 171.5L333.5 172.0L334.0 172.2L334.5 172.5L335.0 172.7L335.5 172.2L336.0 171.8L336.5 172.8L337.0 172.4L337.5 173.0L338.0 172.3L338.5 172.9L339.0 172.2L339.5 172.7L340.0 172.6L340.5 172.8L341.0 172.1L341.5 172.5L342.0 172.2L342.5 172.5L343.0 172.9L343.5 174.1L344.0 172.6L344.5 173.0L345.0 172.7L345.5 173.2L346.0 172.8L346.5 173.1L347.0 172.8L347.5 173.8L348.0 173.3L348.5 171.7L349.0 172.8L349.5 172.6L350.0 171.5L350.5 172.2L351.0 172.4L351.5 172.2L352.0 172.7L352.5 171.7L353.0 173.0L353.5 173.0L354.0 172.8L354.5 172.4L355.0 172.6L355.5 172.4L356.0 173.2L356.5 172.9L357.0 173.6L357.5 172.4L358.0 173.3L358.5 172.3L359.0 172.5L359.5 172.1L360.0 172.9L360.5 172.6L361.0 172.9L361.5 173.4L362.0 172.6L362.5 172.8L363.0 173.1L363.5 172.6L364.0 172.3L364.5 172.8L365.0 172.9L365.5 173.0L366.0 173.0L366.5 172.3L367.0 172.8L367.5 173.2L368.0 172.4L368.5 172.8L369.0 172.3L369.5 172.7L370.0 173.5L370.5 172.7L371.0 172.1L371.5 172.8L372.0 172.7L372.5 173.2L373.0 171.9L373.5 172.1L374.0 172.6L374.5 171.8L375.0 173.2L375.5 171.6L376.0 172.2L376.5 171.9L377.0 172.3L377.5 173.0L378.0 172.9L378.5 173.1L379.0 172.9L379.5 171.6L380.0 172.8L380.5 171.7L381.0 172.4L381.5 172.4L382.0 172.3L382.5 172.9L383.0 172.2L383.5 173.5L384.0 172.9L384.5 173.2L385.0 173.0L385.5 173.1L386.0 172.6"/></g><g fill="none" stroke="#0a0a0a" stroke-width="1.2" stroke-linejoin="round"><path d="M386.3 186.1L386.8 185.5L387.3 186.4L387.8 185.9L388.3 184.9L388.8 185.9L389.3 186.2L389.8 186.1L390.3 186.4L390.8 186.2L391.3 186.0L391.8 185.2L392.3 185.5L392.8 186.0L393.3 186.2L393.8 185.6L394.3 185.7L394.8 186.1L395.3 185.2L395.8 185.2L396.3 185.8L396.8 186.0L397.3 185.7L397.8 185.1L398.3 185.9L398.8 185.4L399.3 186.1L399.8 185.8L400.3 186.0L400.8 186.1L401.3 185.7L401.8 186.2L402.3 186.3L402.8 186.0L403.3 186.3L403.8 185.6L404.3 186.2L404.8 186.0L405.3 185.5L405.8 185.8L406.3 185.7L406.8 185.7L407.3 185.9L407.8 186.2L408.3 185.7L408.8 185.9L409.3 185.3L409.8 185.9L410.3 186.2L410.8 186.1L411.3 186.0L411.8 185.7L412.3 185.5L412.8 185.8L413.3 185.4L413.8 185.4L414.3 186.2L414.8 185.5L415.3 186.5L415.8 185.3L416.3 186.0L416.8 185.4L417.3 185.9L417.8 185.5L418.3 185.8L418.8 185.8L419.3 185.7L419.8 186.0L420.3 186.4L420.8 185.6L421.3 186.1L421.8 185.9L422.3 185.8L422.8 186.6L423.3 185.1L423.8 185.6L424.3 185.2L424.8 185.7L425.3 185.7L425.8 187.1L426.3 185.9L426.8 186.4L427.3 186.3L427.8 185.7L428.3 186.0L428.8 186.4L429.3 185.9L429.8 185.9L430.3 186.0L430.8 185.3L431.3 185.5L431.8 185.9L432.3 186.0L432.8 185.5L433.3 185.7L433.8 185.8L434.3 185.8L434.8 186.1L435.3 185.9L435.8 185.9L436.3 185.3L436.8 185.4L437.3 185.9L437.8 185.3L438.3 185.9L438.8 185.6L439.3 185.5L439.8 186.0L440.3 185.6L440.8 185.5L441.3 185.6L441.8 185.8L442.3 186.8L442.8 185.1L443.3 185.8L443.8 185.7L444.3 186.1L444.8 185.7L445.3 184.9L445.8 186.3L446.3 185.4L446.8 185.8L447.3 185.3L447.8 185.4L448.3 185.6L448.8 186.1L449.3 186.1L449.8 185.6L450.3 186.0L450.8 185.7L451.3 185.8L451.8 185.9L452.3 186.0L452.8 185.6L453.3 185.8L453.8 185.9L454.3 185.8L454.8 185.5L455.3 186.4L455.8 185.6L456.3 186.1L456.8 185.9L457.3 186.2L457.8 185.0L458.3 186.5L458.8 185.7L459.3 185.4L459.8 185.8L460.3 186.6L460.8 186.0L461.3 185.4L461.8 185.6L462.3 186.3L462.8 185.3L463.3 185.7L463.8 185.7L464.3 186.5L464.8 185.7L465.3 186.3L465.8 185.6L466.3 185.5L466.8 186.1L467.3 186.0L467.8 185.2L468.3 186.0L468.8 186.0L469.3 185.6L469.8 185.9L470.3 185.9L470.8 185.6L471.3 185.6L471.8 185.6L472.3 185.7L472.8 185.3L473.3 185.8L473.8 185.3L474.3 185.8L474.8 185.8L475.3 185.4L475.8 186.1L476.3 186.5L476.8 186.2L477.3 185.3L477.8 186.2L478.3 185.9"/><path d="M386.3 185.6L386.8 185.8L387.3 186.2L387.8 185.3L388.3 185.8L388.8 186.3L389.3 185.6L389.8 186.0L390.3 184.7L390.8 186.0L391.3 185.5L391.8 184.9L392.3 185.8L392.8 185.9L393.3 185.9L393.8 185.9L394.3 185.5L394.8 185.2L395.3 185.3L395.8 185.5L396.3 185.6L396.8 185.3L397.3 185.5L397.8 185.8L398.3 185.6L398.8 186.3L399.3 186.2L399.8 185.1L400.3 185.3L400.8 185.0L401.3 185.1L401.8 185.7L402.3 185.1L402.8 185.1L403.3 185.4L403.8 185.7L404.3 185.3L404.8 185.3L405.3 185.8L405.8 185.6L406.3 185.6L406.8 185.8L407.3 185.1L407.8 185.5L408.3 185.2L408.8 185.8L409.3 185.7L409.8 185.1L410.3 185.9L410.8 185.0L411.3 185.8L411.8 185.5L412.3 185.1L412.8 185.1L413.3 185.3L413.8 185.4L414.3 185.2L414.8 185.6L415.3 185.0L415.8 185.4L416.3 185.4L416.8 184.8L417.3 185.5L417.8 185.0L418.3 184.6L418.8 185.2L419.3 185.3L419.8 185.7L420.3 185.3L420.8 185.9L421.3 185.9L421.8 185.8L422.3 185.9L422.8 185.5L423.3 185.2L423.8 185.6L424.3 185.8L424.8 185.5L425.3 185.3L425.8 184.9L426.3 185.7L426.8 185.5L427.3 185.0L427.8 185.5L428.3 185.7L428.8 185.4L429.3 185.7L429.8 185.7L430.3 184.9L430.8 185.3L431.3 185.6L431.8 185.7L432.3 185.9L432.8 184.7L433.3 185.4L433.8 185.7L434.3 185.8L434.8 186.0L435.3 185.1L435.8 185.3L436.3 185.0L436.8 185.7L437.3 185.0L437.8 185.8L438.3 185.7L438.8 185.6L439.3 184.7L439.8 185.2L440.3 185.7L440.8 184.9L441.3 185.3L441.8 185.4L442.3 185.7L442.8 185.5L443.3 185.5L443.8 185.3L444.3 185.4L444.8 185.4L445.3 185.7L445.8 185.3L446.3 185.8L446.8 184.8L447.3 185.8L447.8 185.3L448.3 185.8L448.8 185.4L449.3 185.7L449.8 185.9L450.3 185.2L450.8 185.4L451.3 185.3L451.8 185.5L452.3 184.8L452.8 185.3L453.3 185.3L453.8 185.1L454.3 185.3L454.8 184.9L455.3 185.9L455.8 185.6L456.3 186.0L456.8 185.1L457.3 185.0L457.8 185.5L458.3 184.8L458.8 185.5L459.3 185.2L459.8 185.3L460.3 185.5L460.8 185.4L461.3 186.0L461.8 185.6L462.3 184.9L462.8 185.7L463.3 184.9L463.8 185.4L464.3 185.0L464.8 185.1L465.3 185.8L465.8 185.2L466.3 185.2L466.8 185.2L467.3 185.3L467.8 185.9L468.3 185.0L468.8 185.0L469.3 185.6L469.8 184.8L470.3 185.3L470.8 185.8L471.3 185.4L471.8 185.2L472.3 185.1L472.8 185.1L473.3 185.2L473.8 185.4L474.3 185.8L474.8 185.7L475.3 185.2L475.8 185.1L476.3 185.6L476.8 184.8L477.3 185.2L477.8 185.3L478.3 185.0"/><path d="M386.3 185.5L386.8 185.5L387.3 185.1L387.8 185.3L388.3 185.5L388.8 185.0L389.3 185.1L389.8 185.3L390.3 185.0L390.8 184.8L391.3 184.7L391.8 185.0L392.3 184.8L392.8 185.2L393.3 184.9L393.8 185.5L394.3 185.4L394.8 184.6L395.3 185.3L395.8 184.8L396.3 185.4L396.8 185.1L397.3 185.0L397.8 185.2L398.3 184.8L398.8 185.1L399.3 185.1L399.8 184.9L400.3 185.1L400.8 184.6L401.3 185.2L401.8 184.6L402.3 185.2L402.8 185.1L403.3 185.2L403.8 184.8L404.3 186.0L404.8 184.9L405.3 185.0L405.8 184.7L406.3 185.5L406.8 184.8L407.3 185.3L407.8 184.7L408.3 185.1L408.8 184.9L409.3 185.3L409.8 184.9L410.3 184.7L410.8 185.1L411.3 184.6L411.8 184.7L412.3 185.2L412.8 184.4L413.3 185.2L413.8 184.8L414.3 184.7L414.8 185.1L415.3 185.2L415.8 184.8L416.3 184.9L416.8 185.2L417.3 185.2L417.8 185.0L418.3 184.7L418.8 184.7L419.3 184.8L419.8 185.2L420.3 185.2L420.8 185.1L421.3 185.4L421.8 184.9L422.3 184.9L422.8 184.9L423.3 185.6L423.8 184.3L424.3 185.1L424.8 185.1L425.3 185.0L425.8 185.8L426.3 185.4L426.8 185.2L427.3 184.7L427.8 185.2L428.3 184.9L428.8 185.0L429.3 185.1L429.8 184.8L430.3 185.2L430.8 185.5L431.3 185.3L431.8 185.1L432.3 184.4L432.8 185.4L433.3 185.3L433.8 184.9L434.3 184.8L434.8 185.2L435.3 184.7L435.8 185.3L436.3 184.6L436.8 184.7L437.3 185.0L437.8 184.5L438.3 185.0L438.8 185.2L439.3 184.6L439.8 185.3L440.3 184.8L440.8 185.2L441.3 185.1L441.8 184.8L442.3 184.8L442.8 184.4L443.3 184.8L443.8 184.7L444.3 185.5L444.8 185.3L445.3 184.5L445.8 185.3L446.3 185.1L446.8 184.9L447.3 185.1L447.8 185.3L448.3 184.8L448.8 184.9L449.3 185.1L449.8 184.7L450.3 185.1L450.8 185.0L451.3 184.8L451.8 184.7L452.3 185.1L452.8 185.3L453.3 185.1L453.8 184.7L454.3 185.2L454.8 185.1L455.3 185.2L455.8 185.4L456.3 184.7L456.8 185.0L457.3 184.8L457.8 184.7L458.3 185.7L458.8 185.3L459.3 184.4L459.8 185.1L460.3 184.8L460.8 185.4L461.3 185.0L461.8 184.9L462.3 185.0L462.8 185.1L463.3 185.0L463.8 184.9L464.3 185.0L464.8 185.2L465.3 184.6L465.8 185.0L466.3 185.0L466.8 184.8L467.3 185.2L467.8 184.6L468.3 184.9L468.8 184.7L469.3 185.2L469.8 184.8L470.3 185.0L470.8 185.1L471.3 184.5L471.8 185.1L472.3 184.8L472.8 184.9L473.3 185.0L473.8 185.3L474.3 185.2L474.8 185.6L475.3 185.1L475.8 184.8L476.3 184.8L476.8 185.2L477.3 185.5L477.8 185.1L478.3 184.8"/><path d="M386.3 183.8L386.8 184.3L387.3 183.9L387.8 183.7L388.3 184.4L388.8 185.2L389.3 184.9L389.8 184.4L390.3 184.2L390.8 184.4L391.3 184.7L391.8 183.9L392.3 183.8L392.8 185.1L393.3 184.5L393.8 185.0L394.3 184.5L394.8 184.9L395.3 184.2L395.8 184.6L396.3 185.0L396.8 184.8L397.3 184.3L397.8 184.8L398.3 184.2L398.8 184.0L399.3 184.6L399.8 185.0L400.3 184.8L400.8 184.0L401.3 184.8L401.8 184.7L402.3 184.3L402.8 183.6L403.3 184.8L403.8 184.8L404.3 184.7L404.8 183.9L405.3 184.0L405.8 184.9L406.3 184.8L406.8 184.7L407.3 184.4L407.8 184.7L408.3 184.3L408.8 184.4L409.3 184.2L409.8 184.6L410.3 184.4L410.8 184.9L411.3 184.8L411.8 184.2L412.3 185.2L412.8 184.1L413.3 184.7L413.8 184.9L414.3 185.0L414.8 183.8L415.3 184.9L415.8 185.0L416.3 185.0L416.8 183.8L417.3 184.3L417.8 184.5L418.3 184.4L418.8 185.0L419.3 184.3L419.8 185.0L420.3 184.7L420.8 184.0L421.3 184.2L421.8 184.4L422.3 184.6L422.8 184.9L423.3 184.5L423.8 184.9L424.3 184.0L424.8 183.5L425.3 184.4L425.8 184.7L426.3 184.4L426.8 184.2L427.3 184.7L427.8 185.2L428.3 184.5L428.8 184.3L429.3 184.3L429.8 185.3L430.3 184.5L430.8 184.8L431.3 185.0L431.8 184.9L432.3 184.2L432.8 184.9L433.3 184.9L433.8 184.7L434.3 184.9L434.8 184.4L435.3 184.5L435.8 184.4L436.3 184.8L436.8 184.3L437.3 184.7L437.8 184.2L438.3 184.5L438.8 184.4L439.3 184.5L439.8 184.6L440.3 184.5L440.8 184.5L441.3 183.9L441.8 185.0L442.3 184.4L442.8 184.5L443.3 184.3L443.8 184.9L444.3 184.3L444.8 184.8L445.3 185.0L445.8 185.2L446.3 185.0L446.8 184.8L447.3 184.2L447.8 185.0L448.3 185.0L448.8 184.9L449.3 184.9L449.8 184.6L450.3 184.4L450.8 185.0L451.3 185.0L451.8 184.2L452.3 184.9L452.8 184.7L453.3 184.9L453.8 184.7L454.3 185.0L454.8 184.9L455.3 184.9L455.8 184.1L456.3 184.9L456.8 184.6L457.3 184.2L457.8 184.8L458.3 184.1L458.8 184.9L459.3 185.2L459.8 184.4L460.3 184.9L460.8 184.8L461.3 184.8L461.8 184.1L462.3 184.8L462.8 184.6L463.3 184.9L463.8 184.6L464.3 185.0L464.8 184.7L465.3 184.8L465.8 185.1L466.3 184.7L466.8 184.9L467.3 184.7L467.8 184.8L468.3 184.4L468.8 184.9L469.3 185.0L469.8 184.6L470.3 184.9L470.8 184.8L471.3 184.2L471.8 184.7L472.3 185.1L472.8 184.4L473.3 184.0L473.8 184.7L474.3 184.4L474.8 185.3L475.3 184.6L475.8 184.6L476.3 184.4L476.8 184.7L477.3 184.4L477.8 184.3L478.3 184.6"/><path d="M386.3 183.1L386.8 183.4L387.3 183.1L387.8 183.1L388.3 183.5L388.8 183.2L389.3 183.6L389.8 184.0L390.3 183.5L390.8 183.6L391.3 183.5L391.8 183.5L392.3 183.5L392.8 183.5L393.3 183.8L393.8 182.9L394.3 183.4L394.8 183.7L395.3 183.3L395.8 183.5L396.3 183.4L396.8 183.8L397.3 183.9L397.8 184.1L398.3 183.8L398.8 183.4L399.3 183.8L399.8 183.9L400.3 184.2L400.8 183.0L401.3 183.9L401.8 183.1L402.3 184.0L402.8 183.9L403.3 184.0L403.8 184.1L404.3 183.9L404.8 183.6L405.3 183.9L405.8 184.2L406.3 183.8L406.8 183.9L407.3 183.5L407.8 184.3L408.3 183.7L408.8 183.6L409.3 183.7L409.8 183.6L410.3 183.8L410.8 184.3L411.3 184.2L411.8 184.4L412.3 184.4L412.8 183.6L413.3 184.1L413.8 184.4L414.3 184.7L414.8 183.5L415.3 183.5L415.8 184.1L416.3 183.9L416.8 183.6L417.3 184.1L417.8 183.7L418.3 183.2L418.8 184.0L419.3 184.0L419.8 184.2L420.3 184.3L420.8 184.1L421.3 183.9L421.8 183.8L422.3 183.5L422.8 183.9L423.3 184.4L423.8 184.2L424.3 184.7L424.8 184.0L425.3 183.4L425.8 184.3L426.3 184.4L426.8 183.6L427.3 183.5L427.8 184.1L428.3 184.3L428.8 183.7L429.3 183.9L429.8 183.8L430.3 183.7L430.8 183.6L431.3 184.1L431.8 183.9L432.3 183.8L432.8 183.2L433.3 184.7L433.8 183.8L434.3 184.0L434.8 183.7L435.3 184.2L435.8 183.6L436.3 184.1L436.8 184.0L437.3 184.4L437.8 183.7L438.3 183.9L438.8 184.0L439.3 184.8L439.8 183.6L440.3 184.2L440.8 183.9L441.3 184.2L441.8 184.3L442.3 184.2L442.8 184.2L443.3 184.2L443.8 183.9L444.3 184.0L444.8 183.6L445.3 184.0L445.8 183.9L446.3 184.0L446.8 184.4L447.3 184.3L447.8 184.3L448.3 184.5L448.8 183.3L449.3 184.3L449.8 184.1L450.3 184.1L450.8 183.7L451.3 184.3L451.8 184.5L452.3 184.5L452.8 184.1L453.3 184.4L453.8 184.5L454.3 184.8L454.8 184.6L455.3 184.2L455.8 184.2L456.3 184.2L456.8 184.2L457.3 184.0L457.8 184.4L458.3 183.9L458.8 183.9L459.3 184.3L459.8 184.0L460.3 184.1L460.8 183.5L461.3 184.4L461.8 184.2L462.3 184.1L462.8 184.3L463.3 184.2L463.8 183.9L464.3 184.8L464.8 184.0L465.3 184.5L465.8 184.8L466.3 184.0L466.8 184.2L467.3 183.9L467.8 184.5L468.3 184.1L468.8 183.8L469.3 184.6L469.8 184.5L470.3 183.9L470.8 184.6L471.3 184.3L471.8 185.1L472.3 184.8L472.8 184.0L473.3 184.1L473.8 183.9L474.3 184.2L474.8 184.2L475.3 184.4L475.8 184.2L476.3 183.7L476.8 183.9L477.3 184.7L477.8 184.6L478.3 184.1"/><path d="M386.3 179.1L386.8 178.5L387.3 178.6L387.8 179.5L388.3 179.1L388.8 179.3L389.3 179.3L389.8 179.1L390.3 179.5L390.8 179.4L391.3 179.3L391.8 179.9L392.3 180.7L392.8 180.7L393.3 180.2L393.8 180.4L394.3 180.6L394.8 181.0L395.3 180.7L395.8 180.5L396.3 180.6L396.8 181.2L397.3 181.8L397.8 180.7L398.3 180.3L398.8 181.3L399.3 181.1L399.8 181.2L400.3 181.7L400.8 181.3L401.3 180.9L401.8 180.7L402.3 181.4L402.8 181.1L403.3 181.6L403.8 181.2L404.3 181.5L404.8 181.2L405.3 181.6L405.8 181.6L406.3 182.0L406.8 182.3L407.3 181.8L407.8 181.6L408.3 182.6L408.8 182.1L409.3 182.2L409.8 182.3L410.3 182.6L410.8 182.5L411.3 182.4L411.8 182.5L412.3 181.9L412.8 182.0L413.3 182.2L413.8 182.3L414.3 182.3L414.8 182.5L415.3 182.4L415.8 182.3L416.3 181.9L416.8 182.8L417.3 182.7L417.8 182.2L418.3 182.7L418.8 182.7L419.3 182.6L419.8 182.0L420.3 182.2L420.8 182.4L421.3 183.2L421.8 182.4L422.3 182.6L422.8 182.3L423.3 182.6L423.8 182.9L424.3 182.1L424.8 181.8L425.3 183.1L425.8 182.9L426.3 182.7L426.8 183.2L427.3 183.2L427.8 182.2L428.3 182.9L428.8 183.3L429.3 182.7L429.8 182.9L430.3 183.3L430.8 182.9L431.3 182.6L431.8 182.8L432.3 182.6L432.8 183.3L433.3 182.5L433.8 183.4L434.3 182.5L434.8 183.1L435.3 182.6L435.8 183.0L436.3 183.5L436.8 183.6L437.3 183.6L437.8 183.2L438.3 183.2L438.8 183.3L439.3 183.4L439.8 183.1L440.3 183.6L440.8 183.4L441.3 183.7L441.8 183.5L442.3 183.5L442.8 183.1L443.3 183.2L443.8 182.9L444.3 183.2L444.8 183.3L445.3 183.7L445.8 182.9L446.3 184.5L446.8 183.3L447.3 183.8L447.8 183.8L448.3 182.5L448.8 183.3L449.3 183.9L449.8 182.6L450.3 183.7L450.8 183.1L451.3 183.3L451.8 183.6L452.3 182.8L452.8 183.6L453.3 183.3L453.8 183.2L454.3 183.8L454.8 184.7L455.3 183.6L455.8 183.7L456.3 183.5L456.8 183.3L457.3 183.6L457.8 184.1L458.3 183.6L458.8 183.9L459.3 183.5L459.8 184.5L460.3 183.0L460.8 183.8L461.3 183.8L461.8 183.7L462.3 183.2L462.8 183.2L463.3 183.6L463.8 183.7L464.3 183.2L464.8 183.3L465.3 183.9L465.8 184.0L466.3 183.5L466.8 183.4L467.3 183.4L467.8 184.6L468.3 183.9L468.8 183.7L469.3 184.1L469.8 184.5L470.3 184.1L470.8 183.2L471.3 183.7L471.8 183.6L472.3 183.6L472.8 183.3L473.3 183.6L473.8 183.4L474.3 183.9L474.8 183.8L475.3 183.3L475.8 183.2L476.3 183.6L476.8 184.0L477.3 184.0L477.8 183.8L478.3 182.6"/><path d="M386.3 170.0L386.8 170.5L387.3 170.5L387.8 171.2L388.3 171.7L388.8 172.7L389.3 173.4L389.8 173.0L390.3 173.7L390.8 174.0L391.3 174.0L391.8 173.9L392.3 174.6L392.8 174.6L393.3 175.3L393.8 175.6L394.3 175.9L394.8 176.1L395.3 176.6L395.8 176.3L396.3 177.1L396.8 176.4L397.3 177.2L397.8 177.5L398.3 177.3L398.8 177.2L399.3 178.1L399.8 177.8L400.3 178.5L400.8 178.6L401.3 178.5L401.8 178.6L402.3 179.1L402.8 179.0L403.3 178.7L403.8 179.2L404.3 179.4L404.8 179.4L405.3 179.5L405.8 179.5L406.3 179.6L406.8 179.4L407.3 179.3L407.8 180.3L408.3 179.8L408.8 180.1L409.3 179.6L409.8 180.3L410.3 180.0L410.8 181.4L411.3 180.1L411.8 180.2L412.3 180.9L412.8 181.0L413.3 180.0L413.8 180.8L414.3 181.1L414.8 180.4L415.3 181.2L415.8 180.8L416.3 180.7L416.8 181.0L417.3 181.0L417.8 180.7L418.3 182.0L418.8 181.1L419.3 181.1L419.8 181.7L420.3 181.4L420.8 181.9L421.3 181.4L421.8 181.6L422.3 181.6L422.8 181.7L423.3 181.6L423.8 181.6L424.3 182.3L424.8 181.5L425.3 181.6L425.8 181.7L426.3 182.1L426.8 182.0L427.3 182.2L427.8 181.5L428.3 182.1L428.8 182.0L429.3 181.9L429.8 182.1L430.3 181.4L430.8 182.2L431.3 182.2L431.8 181.7L432.3 182.2L432.8 182.8L433.3 182.1L433.8 182.5L434.3 182.2L434.8 182.0L435.3 182.0L435.8 182.2L436.3 182.9L436.8 182.7L437.3 182.2L437.8 182.8L438.3 182.4L438.8 182.3L439.3 182.7L439.8 182.2L440.3 182.0L440.8 183.0L441.3 182.0L441.8 182.8L442.3 182.1L442.8 182.7L443.3 182.6L443.8 182.5L444.3 182.0L444.8 182.7L445.3 182.7L445.8 182.5L446.3 182.8L446.8 183.1L447.3 182.6L447.8 182.9L448.3 182.4L448.8 183.0L449.3 183.1L449.8 183.7L450.3 183.2L450.8 183.1L451.3 183.4L451.8 182.6L452.3 183.3L452.8 182.8L453.3 182.8L453.8 183.4L454.3 183.1L454.8 183.5L455.3 182.5L455.8 183.1L456.3 182.9L456.8 183.0L457.3 182.4L457.8 183.4L458.3 183.2L458.8 182.8L459.3 182.6L459.8 182.8L460.3 183.6L460.8 183.1L461.3 183.0L461.8 183.3L462.3 183.2L462.8 183.3L463.3 183.4L463.8 183.3L464.3 183.5L464.8 182.8L465.3 183.2L465.8 183.1L466.3 183.3L466.8 183.2L467.3 183.0L467.8 183.1L468.3 183.6L468.8 183.1L469.3 182.9L469.8 183.5L470.3 183.6L470.8 183.2L471.3 183.4L471.8 183.0L472.3 183.3L472.8 183.7L473.3 183.6L473.8 183.4L474.3 183.3L474.8 182.8L475.3 183.5L475.8 183.5L476.3 183.7L476.8 184.1L477.3 183.5L477.8 183.7L478.3 183.0"/><path d="M386.3 143.7L386.8 146.1L387.3 148.4L387.8 150.4L388.3 152.0L388.8 153.8L389.3 155.2L389.8 157.1L390.3 158.0L390.8 160.1L391.3 160.7L391.8 161.9L392.3 162.6L392.8 163.7L393.3 164.8L393.8 165.5L394.3 166.1L394.8 166.7L395.3 167.8L395.8 168.4L396.3 169.2L396.8 170.0L397.3 170.0L397.8 169.9L398.3 171.0L398.8 170.9L399.3 171.5L399.8 172.7L400.3 172.9L400.8 172.8L401.3 173.2L401.8 173.7L402.3 173.4L402.8 174.4L403.3 174.4L403.8 175.4L404.3 174.7L404.8 175.6L405.3 175.3L405.8 176.1L406.3 175.6L406.8 176.4L407.3 176.2L407.8 176.2L408.3 176.6L408.8 177.0L409.3 177.1L409.8 177.7L410.3 177.6L410.8 176.5L411.3 177.4L411.8 177.0L412.3 177.7L412.8 178.2L413.3 177.6L413.8 177.8L414.3 178.4L414.8 178.3L415.3 179.1L415.8 178.7L416.3 178.9L416.8 179.4L417.3 178.7L417.8 179.0L418.3 178.8L418.8 179.3L419.3 179.6L419.8 179.8L420.3 179.4L420.8 179.3L421.3 179.3L421.8 179.2L422.3 179.8L422.8 180.3L423.3 179.1L423.8 179.2L424.3 180.5L424.8 179.5L425.3 180.3L425.8 179.8L426.3 180.6L426.8 180.6L427.3 180.5L427.8 180.8L428.3 180.5L428.8 180.8L429.3 181.3L429.8 181.1L430.3 180.5L430.8 180.5L431.3 180.8L431.8 180.8L432.3 181.0L432.8 180.8L433.3 181.3L433.8 181.1L434.3 181.2L434.8 181.2L435.3 181.4L435.8 180.8L436.3 181.8L436.8 181.5L437.3 181.5L437.8 181.6L438.3 181.8L438.8 181.7L439.3 181.6L439.8 181.5L440.3 181.0L440.8 181.7L441.3 181.6L441.8 181.6L442.3 182.6L442.8 181.1L443.3 181.8L443.8 182.3L444.3 182.2L444.8 182.3L445.3 181.5L445.8 181.6L446.3 182.2L446.8 181.9L447.3 182.6L447.8 182.1L448.3 182.2L448.8 182.3L449.3 182.0L449.8 182.2L450.3 182.0L450.8 182.2L451.3 182.1L451.8 182.3L452.3 181.8L452.8 181.8L453.3 182.5L453.8 182.4L454.3 182.0L454.8 182.3L455.3 182.0L455.8 183.1L456.3 181.9L456.8 183.1L457.3 182.2L457.8 182.7L458.3 182.4L458.8 182.4L459.3 182.9L459.8 182.9L460.3 182.5L460.8 182.3L461.3 183.4L461.8 183.1L462.3 182.7L462.8 182.6L463.3 182.8L463.8 182.7L464.3 183.1L464.8 182.4L465.3 182.8L465.8 182.5L466.3 183.2L466.8 183.4L467.3 182.8L467.8 183.0L468.3 183.3L468.8 182.7L469.3 182.5L469.8 183.2L470.3 183.0L470.8 182.8L471.3 183.4L471.8 183.0L472.3 182.3L472.8 183.0L473.3 182.9L473.8 183.6L474.3 183.0L474.8 182.9L475.3 183.1L475.8 183.1L476.3 182.5L476.8 183.0L477.3 182.9L477.8 183.5L478.3 183.9"/><path d="M386.3 122.3L386.8 125.8L387.3 129.9L387.8 132.9L388.3 136.8L388.8 139.0L389.3 142.1L389.8 144.3L390.3 146.7L390.8 149.2L391.3 150.8L391.8 152.8L392.3 154.1L392.8 156.5L393.3 157.2L393.8 159.1L394.3 160.7L394.8 160.2L395.3 161.8L395.8 163.0L396.3 164.4L396.8 164.7L397.3 165.8L397.8 166.1L398.3 167.3L398.8 167.3L399.3 168.6L399.8 167.8L400.3 168.8L400.8 170.6L401.3 170.5L401.8 170.5L402.3 172.0L402.8 172.0L403.3 172.4L403.8 172.2L404.3 172.9L404.8 173.2L405.3 172.7L405.8 173.8L406.3 173.8L406.8 174.6L407.3 174.9L407.8 174.4L408.3 174.7L408.8 175.2L409.3 175.5L409.8 175.4L410.3 175.7L410.8 176.1L411.3 176.2L411.8 176.7L412.3 176.5L412.8 176.3L413.3 176.1L413.8 177.2L414.3 176.9L414.8 177.0L415.3 177.2L415.8 176.9L416.3 177.4L416.8 176.8L417.3 177.7L417.8 177.6L418.3 178.7L418.8 178.3L419.3 178.2L419.8 178.4L420.3 178.7L420.8 178.3L421.3 178.6L421.8 178.7L422.3 179.8L422.8 179.0L423.3 178.3L423.8 179.4L424.3 180.2L424.8 179.0L425.3 180.6L425.8 179.4L426.3 179.9L426.8 179.4L427.3 179.6L427.8 179.3L428.3 179.5L428.8 179.1L429.3 180.4L429.8 179.6L430.3 180.2L430.8 180.3L431.3 180.0L431.8 180.3L432.3 180.3L432.8 180.2L433.3 180.5L433.8 180.5L434.3 180.2L434.8 180.2L435.3 180.4L435.8 180.8L436.3 181.3L436.8 181.4L437.3 181.0L437.8 181.3L438.3 181.0L438.8 181.4L439.3 181.1L439.8 181.3L440.3 181.1L440.8 181.2L441.3 181.9L441.8 180.9L442.3 181.3L442.8 181.2L443.3 181.7L443.8 182.1L444.3 181.4L444.8 180.5L445.3 181.8L445.8 181.8L446.3 181.0L446.8 181.6L447.3 181.7L447.8 180.9L448.3 182.0L448.8 181.9L449.3 181.9L449.8 181.4L450.3 181.6L450.8 181.7L451.3 182.1L451.8 181.6L452.3 182.5L452.8 182.1L453.3 181.2L453.8 182.7L454.3 182.1L454.8 181.9L455.3 182.2L455.8 181.5L456.3 182.2L456.8 181.3L457.3 181.8L457.8 182.7L458.3 182.7L458.8 182.1L459.3 181.9L459.8 182.6L460.3 182.3L460.8 182.4L461.3 182.6L461.8 182.0L462.3 182.7L462.8 181.6L463.3 183.0L463.8 181.9L464.3 182.2L464.8 182.2L465.3 182.8L465.8 182.8L466.3 182.7L466.8 182.7L467.3 182.7L467.8 182.5L468.3 181.9L468.8 181.8L469.3 181.8L469.8 182.6L470.3 182.6L470.8 182.6L471.3 182.7L471.8 182.6L472.3 182.3L472.8 182.2L473.3 182.0L473.8 183.2L474.3 183.1L474.8 182.2L475.3 182.7L475.8 182.9L476.3 183.4L476.8 182.6L477.3 182.9L477.8 183.2L478.3 182.2"/><path d="M386.3 110.0L386.8 114.2L387.3 118.5L387.8 123.2L388.3 126.9L388.8 130.7L389.3 134.2L389.8 136.6L390.3 139.9L390.8 141.6L391.3 144.4L391.8 145.8L392.3 148.3L392.8 150.0L393.3 151.7L393.8 153.6L394.3 154.1L394.8 156.2L395.3 157.2L395.8 158.7L396.3 159.9L396.8 160.6L397.3 161.6L397.8 162.2L398.3 163.6L398.8 164.0L399.3 165.1L399.8 165.1L400.3 166.8L400.8 166.5L401.3 167.9L401.8 167.8L402.3 168.7L402.8 168.9L403.3 169.7L403.8 169.8L404.3 170.7L404.8 170.9L405.3 171.2L405.8 171.9L406.3 171.4L406.8 172.5L407.3 172.3L407.8 172.1L408.3 173.0L408.8 173.1L409.3 174.0L409.8 173.5L410.3 173.9L410.8 174.2L411.3 173.6L411.8 174.7L412.3 174.4L412.8 175.4L413.3 175.7L413.8 175.3L414.3 174.9L414.8 175.7L415.3 175.9L415.8 176.2L416.3 176.0L416.8 175.8L417.3 176.4L417.8 176.2L418.3 177.3L418.8 176.6L419.3 176.7L419.8 177.1L420.3 176.8L420.8 177.2L421.3 177.4L421.8 177.4L422.3 177.6L422.8 178.2L423.3 178.1L423.8 177.5L424.3 178.0L424.8 178.5L425.3 178.1L425.8 178.4L426.3 178.5L426.8 178.8L427.3 178.6L427.8 178.7L428.3 178.5L428.8 179.1L429.3 178.7L429.8 179.7L430.3 179.2L430.8 179.2L431.3 179.6L431.8 179.4L432.3 179.5L432.8 179.5L433.3 179.3L433.8 179.3L434.3 179.5L434.8 180.2L435.3 179.6L435.8 179.8L436.3 179.8L436.8 180.3L437.3 180.8L437.8 179.8L438.3 180.4L438.8 180.3L439.3 180.2L439.8 180.6L440.3 180.0L440.8 180.8L441.3 180.6L441.8 180.2L442.3 181.2L442.8 181.0L443.3 181.1L443.8 180.2L444.3 180.7L444.8 180.7L445.3 181.1L445.8 181.4L446.3 180.3L446.8 181.0L447.3 181.0L447.8 181.4L448.3 181.1L448.8 180.7L449.3 181.1L449.8 180.9L450.3 181.0L450.8 181.3L451.3 181.2L451.8 181.5L452.3 180.8L452.8 182.3L453.3 181.9L453.8 181.7L454.3 181.0L454.8 180.8L455.3 181.3L455.8 181.5L456.3 182.4L456.8 182.1L457.3 181.5L457.8 182.1L458.3 182.2L458.8 181.8L459.3 182.2L459.8 181.9L460.3 181.6L460.8 181.4L461.3 181.8L461.8 182.2L462.3 181.4L462.8 181.3L463.3 182.1L463.8 181.0L464.3 182.6L464.8 181.8L465.3 182.3L465.8 182.7L466.3 181.5L466.8 181.7L467.3 182.9L467.8 182.0L468.3 182.1L468.8 182.2L469.3 182.5L469.8 182.7L470.3 182.2L470.8 182.1L471.3 182.2L471.8 182.3L472.3 182.7L472.8 182.3L473.3 182.9L473.8 182.0L474.3 182.5L474.8 182.9L475.3 182.8L475.8 182.5L476.3 182.0L476.8 182.1L477.3 182.3L477.8 182.5L478.3 182.3"/><path d="M386.3 108.4L386.8 112.7L387.3 118.1L387.8 121.9L388.3 125.7L388.8 129.8L389.3 132.5L389.8 135.3L390.3 137.9L390.8 140.8L391.3 143.5L391.8 145.1L392.3 147.0L392.8 149.5L393.3 151.0L393.8 152.5L394.3 154.8L394.8 155.0L395.3 156.8L395.8 157.2L396.3 158.9L396.8 160.2L397.3 161.4L397.8 161.4L398.3 163.0L398.8 163.8L399.3 164.2L399.8 165.9L400.3 165.6L400.8 165.9L401.3 167.0L401.8 166.7L402.3 168.4L402.8 168.7L403.3 168.7L403.8 169.5L404.3 169.9L404.8 170.8L405.3 170.2L405.8 170.3L406.3 170.4L406.8 171.3L407.3 171.2L407.8 172.0L408.3 172.5L408.8 172.4L409.3 172.5L409.8 173.5L410.3 173.3L410.8 173.7L411.3 174.1L411.8 173.5L412.3 173.9L412.8 175.3L413.3 174.6L413.8 174.4L414.3 174.9L414.8 174.9L415.3 174.9L415.8 175.3L416.3 175.6L416.8 175.8L417.3 176.1L417.8 175.5L418.3 175.7L418.8 176.6L419.3 176.3L419.8 177.1L420.3 176.9L420.8 176.4L421.3 177.2L421.8 176.7L422.3 177.3L422.8 177.8L423.3 178.2L423.8 177.5L424.3 177.9L424.8 177.9L425.3 178.1L425.8 177.0L426.3 177.9L426.8 178.2L427.3 178.4L427.8 178.0L428.3 178.7L428.8 178.9L429.3 178.6L429.8 178.6L430.3 178.6L430.8 178.9L431.3 179.3L431.8 179.5L432.3 178.9L432.8 178.8L433.3 178.9L433.8 179.6L434.3 179.4L434.8 179.5L435.3 179.6L435.8 179.6L436.3 179.5L436.8 179.2L437.3 179.5L437.8 179.8L438.3 179.9L438.8 179.7L439.3 179.8L439.8 180.4L440.3 179.8L440.8 180.1L441.3 180.0L441.8 179.9L442.3 179.7L442.8 180.1L443.3 180.0L443.8 180.6L444.3 180.0L444.8 180.3L445.3 180.7L445.8 180.5L446.3 180.7L446.8 180.9L447.3 180.0L447.8 180.5L448.3 180.4L448.8 181.2L449.3 180.7L449.8 181.0L450.3 181.5L450.8 180.8L451.3 181.0L451.8 181.1L452.3 180.9L452.8 181.5L453.3 181.3L453.8 181.4L454.3 181.1L454.8 181.0L455.3 181.0L455.8 181.1L456.3 180.6L456.8 181.4L457.3 181.6L457.8 181.3L458.3 181.2L458.8 181.4L459.3 181.5L459.8 181.5L460.3 182.1L460.8 181.1L461.3 181.6L461.8 181.7L462.3 181.5L462.8 181.4L463.3 181.2L463.8 181.4L464.3 181.8L464.8 182.1L465.3 181.4L465.8 181.8L466.3 181.9L466.8 182.0L467.3 181.8L467.8 181.9L468.3 182.1L468.8 181.3L469.3 181.8L469.8 181.2L470.3 181.1L470.8 181.5L471.3 181.3L471.8 182.0L472.3 182.2L472.8 181.8L473.3 181.8L473.8 181.8L474.3 181.8L474.8 182.0L475.3 182.1L475.8 181.8L476.3 181.7L476.8 181.8L477.3 182.3L477.8 181.9L478.3 182.5"/><path d="M386.3 107.7L386.8 112.1L387.3 116.7L387.8 121.7L388.3 124.6L388.8 128.2L389.3 130.9L389.8 134.3L390.3 137.1L390.8 140.7L391.3 142.8L391.8 144.2L392.3 147.3L392.8 148.8L393.3 150.2L393.8 152.2L394.3 153.5L394.8 154.5L395.3 155.5L395.8 157.0L396.3 158.4L396.8 159.3L397.3 160.2L397.8 161.7L398.3 161.8L398.8 163.3L399.3 163.6L399.8 164.5L400.3 164.7L400.8 165.7L401.3 166.0L401.8 166.2L402.3 167.3L402.8 167.8L403.3 168.6L403.8 168.8L404.3 168.8L404.8 169.3L405.3 169.1L405.8 169.9L406.3 171.1L406.8 171.5L407.3 171.5L407.8 171.7L408.3 172.1L408.8 172.3L409.3 171.8L409.8 172.3L410.3 173.3L410.8 173.5L411.3 173.4L411.8 173.4L412.3 173.6L412.8 173.8L413.3 173.8L413.8 173.7L414.3 174.6L414.8 174.5L415.3 174.8L415.8 175.6L416.3 175.4L416.8 175.1L417.3 175.7L417.8 175.1L418.3 176.1L418.8 176.0L419.3 176.0L419.8 176.4L420.3 176.8L420.8 176.3L421.3 176.2L421.8 177.4L422.3 176.8L422.8 177.4L423.3 176.8L423.8 177.2L424.3 177.0L424.8 177.5L425.3 177.3L425.8 177.3L426.3 178.1L426.8 177.8L427.3 177.1L427.8 177.8L428.3 177.6L428.8 177.6L429.3 177.9L429.8 178.0L430.3 178.3L430.8 178.1L431.3 177.8L431.8 178.3L432.3 178.9L432.8 178.2L433.3 179.0L433.8 179.0L434.3 178.7L434.8 179.0L435.3 178.7L435.8 178.9L436.3 178.8L436.8 179.3L437.3 179.7L437.8 179.1L438.3 179.8L438.8 178.7L439.3 179.2L439.8 179.2L440.3 180.2L440.8 179.4L441.3 180.0L441.8 179.0L442.3 179.8L442.8 180.0L443.3 179.9L443.8 179.0L444.3 180.0L444.8 180.3L445.3 180.5L445.8 180.2L446.3 179.5L446.8 180.1L447.3 180.5L447.8 180.0L448.3 180.5L448.8 180.2L449.3 180.4L449.8 180.7L450.3 180.2L450.8 181.5L451.3 180.6L451.8 180.7L452.3 180.3L452.8 180.6L453.3 180.5L453.8 180.2L454.3 180.2L454.8 180.8L455.3 180.7L455.8 179.9L456.3 180.1L456.8 180.7L457.3 180.8L457.8 181.1L458.3 180.5L458.8 181.1L459.3 180.8L459.8 180.8L460.3 181.0L460.8 181.4L461.3 181.2L461.8 181.4L462.3 180.9L462.8 181.0L463.3 180.7L463.8 181.0L464.3 181.0L464.8 181.0L465.3 181.5L465.8 181.4L466.3 181.5L466.8 181.3L467.3 181.7L467.8 181.3L468.3 181.7L468.8 181.5L469.3 181.6L469.8 181.3L470.3 181.0L470.8 180.9L471.3 182.1L471.8 181.6L472.3 181.6L472.8 181.4L473.3 181.3L473.8 182.5L474.3 181.1L474.8 181.5L475.3 181.5L475.8 181.1L476.3 181.1L476.8 181.3L477.3 181.5L477.8 181.4L478.3 181.9"/><path d="M386.3 106.6L386.8 112.1L387.3 116.6L387.8 120.3L388.3 124.2L388.8 127.8L389.3 130.7L389.8 133.9L390.3 136.7L390.8 139.8L391.3 142.4L391.8 144.0L392.3 146.0L392.8 148.1L393.3 149.6L393.8 151.3L394.3 153.2L394.8 154.3L395.3 155.5L395.8 156.6L396.3 158.4L396.8 158.7L397.3 159.9L397.8 160.4L398.3 161.4L398.8 162.5L399.3 163.1L399.8 164.1L400.3 164.6L400.8 164.7L401.3 164.9L401.8 166.7L402.3 166.6L402.8 167.8L403.3 167.8L403.8 167.9L404.3 168.8L404.8 168.9L405.3 169.4L405.8 169.4L406.3 170.3L406.8 170.8L407.3 170.5L407.8 171.7L408.3 171.1L408.8 171.7L409.3 171.3L409.8 171.4L410.3 173.1L410.8 173.1L411.3 173.2L411.8 172.4L412.3 173.3L412.8 173.6L413.3 173.6L413.8 173.9L414.3 173.7L414.8 174.1L415.3 173.9L415.8 174.4L416.3 174.8L416.8 174.5L417.3 174.9L417.8 174.9L418.3 175.2L418.8 175.7L419.3 175.6L419.8 175.8L420.3 175.3L420.8 175.8L421.3 176.3L421.8 175.8L422.3 176.1L422.8 176.0L423.3 176.9L423.8 176.4L424.3 176.4L424.8 177.0L425.3 177.3L425.8 177.2L426.3 177.4L426.8 177.3L427.3 177.2L427.8 177.2L428.3 177.3L428.8 177.3L429.3 177.8L429.8 177.7L430.3 177.8L430.8 178.1L431.3 177.9L431.8 177.5L432.3 177.8L432.8 177.8L433.3 177.6L433.8 178.4L434.3 178.0L434.8 178.0L435.3 178.1L435.8 178.9L436.3 178.5L436.8 179.1L437.3 178.7L437.8 178.7L438.3 179.1L438.8 179.2L439.3 179.0L439.8 178.7L440.3 178.9L440.8 178.7L441.3 179.1L441.8 179.3L442.3 179.8L442.8 179.9L443.3 179.6L443.8 179.8L444.3 179.6L444.8 180.5L445.3 180.1L445.8 180.6L446.3 179.8L446.8 179.9L447.3 180.1L447.8 179.9L448.3 179.9L448.8 179.5L449.3 180.2L449.8 180.0L450.3 180.3L450.8 179.9L451.3 179.4L451.8 180.3L452.3 180.5L452.8 179.7L453.3 179.8L453.8 180.1L454.3 180.2L454.8 179.7L455.3 180.9L455.8 180.7L456.3 180.2L456.8 179.8L457.3 180.5L457.8 181.1L458.3 180.8L458.8 180.9L459.3 180.2L459.8 180.6L460.3 180.1L460.8 181.3L461.3 180.8L461.8 179.9L462.3 180.0L462.8 180.9L463.3 180.8L463.8 180.6L464.3 181.0L464.8 181.5L465.3 180.9L465.8 180.2L466.3 180.8L466.8 180.4L467.3 180.6L467.8 181.0L468.3 180.8L468.8 180.6L469.3 180.9L469.8 180.7L470.3 181.2L470.8 180.9L471.3 181.1L471.8 180.9L472.3 181.3L472.8 181.0L473.3 181.1L473.8 180.9L474.3 181.1L474.8 180.5L475.3 182.1L475.8 180.9L476.3 181.2L476.8 181.0L477.3 181.0L477.8 181.3L478.3 181.0"/><path d="M386.3 106.4L386.8 111.0L387.3 116.4L387.8 119.9L388.3 123.9L388.8 128.0L389.3 130.6L389.8 133.2L390.3 136.2L390.8 138.9L391.3 142.0L391.8 143.7L392.3 145.5L392.8 147.8L393.3 149.7L393.8 150.6L394.3 152.8L394.8 154.0L395.3 155.2L395.8 155.4L396.3 157.4L396.8 158.9L397.3 159.3L397.8 161.1L398.3 161.1L398.8 161.6L399.3 162.9L399.8 163.5L400.3 164.3L400.8 164.6L401.3 165.7L401.8 165.6L402.3 166.3L402.8 166.3L403.3 166.9L403.8 167.7L404.3 167.9L404.8 168.3L405.3 168.8L405.8 169.3L406.3 169.8L406.8 170.1L407.3 170.5L407.8 170.6L408.3 170.6L408.8 170.5L409.3 171.2L409.8 171.3L410.3 171.1L410.8 172.6L411.3 171.6L411.8 172.6L412.3 172.9L412.8 172.8L413.3 174.0L413.8 173.3L414.3 173.2L414.8 174.2L415.3 173.5L415.8 173.4L416.3 173.7L416.8 174.0L417.3 174.4L417.8 174.7L418.3 174.2L418.8 175.0L419.3 175.8L419.8 174.9L420.3 175.2L420.8 175.6L421.3 175.9L421.8 175.4L422.3 175.4L422.8 175.5L423.3 176.3L423.8 176.4L424.3 175.4L424.8 175.5L425.3 175.9L425.8 175.9L426.3 176.7L426.8 176.7L427.3 177.5L427.8 177.1L428.3 177.0L428.8 177.5L429.3 176.8L429.8 176.7L430.3 177.3L430.8 177.7L431.3 176.9L431.8 177.8L432.3 177.9L432.8 177.5L433.3 177.8L433.8 177.7L434.3 177.9L434.8 178.2L435.3 177.7L435.8 178.5L436.3 178.5L436.8 178.5L437.3 177.6L437.8 177.7L438.3 178.6L438.8 178.2L439.3 178.3L439.8 178.3L440.3 178.1L440.8 178.6L441.3 178.5L441.8 178.5L442.3 179.0L442.8 178.5L443.3 179.3L443.8 178.2L444.3 179.9L444.8 178.6L445.3 179.3L445.8 179.5L446.3 179.2L446.8 179.5L447.3 179.3L447.8 178.7L448.3 179.5L448.8 179.8L449.3 179.3L449.8 178.9L450.3 179.3L450.8 179.7L451.3 179.7L451.8 180.0L452.3 179.9L452.8 179.9L453.3 179.0L453.8 180.6L454.3 179.8L454.8 180.1L455.3 179.7L455.8 179.8L456.3 179.9L456.8 180.5L457.3 180.5L457.8 180.2L458.3 180.7L458.8 179.9L459.3 180.3L459.8 180.0L460.3 180.6L460.8 180.2L461.3 180.5L461.8 180.8L462.3 179.5L462.8 181.0L463.3 180.4L463.8 180.2L464.3 179.6L464.8 180.2L465.3 179.5L465.8 180.4L466.3 180.4L466.8 181.1L467.3 180.3L467.8 180.9L468.3 180.9L468.8 181.2L469.3 180.4L469.8 180.8L470.3 180.0L470.8 180.2L471.3 180.5L471.8 180.6L472.3 180.2L472.8 180.5L473.3 180.9L473.8 180.5L474.3 180.6L474.8 180.4L475.3 181.2L475.8 181.4L476.3 180.8L476.8 180.7L477.3 181.4L477.8 181.0L478.3 180.6"/><path d="M386.3 105.8L386.8 111.6L387.3 115.7L387.8 119.9L388.3 123.2L388.8 127.2L389.3 130.5L389.8 132.9L390.3 135.6L390.8 138.3L391.3 141.4L391.8 143.2L392.3 145.5L392.8 147.1L393.3 148.8L393.8 150.4L394.3 151.7L394.8 153.7L395.3 154.6L395.8 155.8L396.3 156.3L396.8 158.0L397.3 158.6L397.8 159.6L398.3 161.0L398.8 161.0L399.3 162.1L399.8 163.1L400.3 163.9L400.8 163.9L401.3 164.8L401.8 165.3L402.3 165.4L402.8 165.5L403.3 166.0L403.8 167.4L404.3 167.6L404.8 167.5L405.3 168.1L405.8 168.5L406.3 168.9L406.8 169.3L407.3 170.5L407.8 169.7L408.3 170.3L408.8 170.2L409.3 170.6L409.8 170.7L410.3 171.2L410.8 171.3L411.3 171.8L411.8 172.0L412.3 171.8L412.8 173.0L413.3 172.1L413.8 172.9L414.3 173.7L414.8 172.8L415.3 173.7L415.8 173.9L416.3 173.7L416.8 173.1L417.3 174.4L417.8 174.1L418.3 174.0L418.8 174.8L419.3 174.2L419.8 175.0L420.3 174.5L420.8 175.1L421.3 174.6L421.8 175.0L422.3 174.9L422.8 175.1L423.3 175.5L423.8 175.5L424.3 175.7L424.8 176.2L425.3 175.8L425.8 175.3L426.3 176.0L426.8 176.2L427.3 176.6L427.8 176.7L428.3 176.8L428.8 176.5L429.3 176.9L429.8 176.2L430.3 177.3L430.8 177.0L431.3 177.1L431.8 176.9L432.3 177.1L432.8 177.0L433.3 177.5L433.8 176.9L434.3 177.8L434.8 177.7L435.3 178.3L435.8 177.6L436.3 177.6L436.8 177.8L437.3 177.8L437.8 177.8L438.3 177.5L438.8 177.6L439.3 177.8L439.8 178.0L440.3 177.7L440.8 177.8L441.3 178.2L441.8 178.6L442.3 178.3L442.8 178.7L443.3 178.8L443.8 178.8L444.3 178.4L444.8 178.5L445.3 178.0L445.8 178.5L446.3 178.9L446.8 178.4L447.3 179.3L447.8 179.4L448.3 178.8L448.8 179.3L449.3 178.5L449.8 178.7L450.3 179.0L450.8 179.1L451.3 179.1L451.8 178.9L452.3 179.9L452.8 179.4L453.3 179.4L453.8 179.6L454.3 179.4L454.8 179.3L455.3 179.2L455.8 178.9L456.3 180.0L456.8 179.2L457.3 179.0L457.8 179.3L458.3 179.0L458.8 180.4L459.3 179.8L459.8 180.2L460.3 180.2L460.8 179.9L461.3 180.0L461.8 179.5L462.3 179.8L462.8 179.6L463.3 179.9L463.8 179.6L464.3 180.4L464.8 180.2L465.3 179.9L465.8 179.4L466.3 180.2L466.8 180.3L467.3 180.0L467.8 179.6L468.3 180.2L468.8 180.5L469.3 179.4L469.8 180.3L470.3 179.5L470.8 180.2L471.3 180.8L471.8 180.2L472.3 180.4L472.8 180.1L473.3 180.3L473.8 181.1L474.3 180.8L474.8 180.2L475.3 180.2L475.8 180.3L476.3 181.1L476.8 180.4L477.3 180.8L477.8 180.3L478.3 179.9"/><path d="M386.3 107.2L386.8 111.0L387.3 116.0L387.8 119.9L388.3 123.6L388.8 127.3L389.3 130.1L389.8 133.7L390.3 136.4L390.8 138.7L391.3 141.2L391.8 142.7L392.3 144.5L392.8 146.8L393.3 148.6L393.8 151.1L394.3 151.6L394.8 153.5L395.3 154.7L395.8 156.3L396.3 156.7L396.8 157.9L397.3 158.6L397.8 159.2L398.3 160.0L398.8 160.9L399.3 162.4L399.8 162.7L400.3 163.2L400.8 163.8L401.3 164.2L401.8 164.9L402.3 165.4L402.8 166.2L403.3 166.7L403.8 166.2L404.3 167.3L404.8 168.1L405.3 167.6L405.8 168.2L406.3 168.7L406.8 169.4L407.3 169.5L407.8 169.5L408.3 170.0L408.8 170.5L409.3 170.5L409.8 171.3L410.3 171.0L410.8 170.7L411.3 171.0L411.8 171.5L412.3 171.7L412.8 172.2L413.3 172.3L413.8 172.9L414.3 172.8L414.8 173.2L415.3 172.6L415.8 172.9L416.3 173.4L416.8 173.4L417.3 173.7L417.8 173.7L418.3 173.5L418.8 174.5L419.3 174.4L419.8 173.6L420.3 174.1L420.8 174.4L421.3 174.8L421.8 174.6L422.3 174.3L422.8 175.2L423.3 174.9L423.8 175.5L424.3 175.3L424.8 175.7L425.3 175.7L425.8 175.9L426.3 175.5L426.8 176.1L427.3 175.9L427.8 175.5L428.3 175.9L428.8 176.0L429.3 176.4L429.8 176.5L430.3 176.0L430.8 176.7L431.3 176.5L431.8 176.2L432.3 177.0L432.8 176.5L433.3 176.4L433.8 177.2L434.3 177.3L434.8 176.8L435.3 177.5L435.8 177.5L436.3 177.1L436.8 178.0L437.3 177.4L437.8 177.5L438.3 176.7L438.8 177.8L439.3 177.4L439.8 177.8L440.3 177.1L440.8 178.2L441.3 178.3L441.8 178.6L442.3 176.9L442.8 178.2L443.3 178.2L443.8 177.0L444.3 177.9L444.8 178.2L445.3 178.7L445.8 178.0L446.3 178.4L446.8 178.4L447.3 178.6L447.8 178.3L448.3 178.8L448.8 178.9L449.3 178.1L449.8 179.0L450.3 178.4L450.8 178.6L451.3 179.1L451.8 178.8L452.3 179.0L452.8 179.1L453.3 179.1L453.8 178.7L454.3 178.6L454.8 179.2L455.3 179.3L455.8 179.2L456.3 179.0L456.8 179.4L457.3 179.1L457.8 178.7L458.3 179.3L458.8 179.4L459.3 179.5L459.8 179.0L460.3 179.1L460.8 179.5L461.3 179.2L461.8 179.4L462.3 179.7L462.8 179.6L463.3 180.1L463.8 179.6L464.3 180.1L464.8 179.9L465.3 180.5L465.8 179.6L466.3 179.6L466.8 180.1L467.3 179.5L467.8 179.5L468.3 179.8L468.8 179.8L469.3 179.2L469.8 179.8L470.3 179.7L470.8 179.8L471.3 179.9L471.8 179.8L472.3 180.2L472.8 180.0L473.3 179.8L473.8 179.9L474.3 180.3L474.8 180.2L475.3 180.4L475.8 179.9L476.3 180.0L476.8 180.7L477.3 180.0L477.8 180.6L478.3 180.3"/></g>
<path d="M279.2 186.0H293" stroke="#0a0a0a" stroke-width="3.2" fill="none"/>
<path d="M293 183.8H478.8" stroke="#0a0a0a" stroke-width="4.2" fill="none"/>
<g fill="none" stroke="#262626" stroke-width="1.1"><path d="M280.6 54.7H293.7V14.2"/><path d="M293.7 14.20H385.8"/><path d="M293.7 16.94H385.8"/><path d="M293.7 19.69H385.8"/><path d="M293.7 22.43H385.8"/><path d="M293.7 25.17H385.8"/><path d="M293.7 27.91H385.8"/><path d="M293.7 30.66H385.8"/><path d="M293.7 33.40H385.8"/><path d="M293.7 36.14H385.8"/><path d="M293.7 38.89H385.8"/><path d="M293.7 41.63H385.8"/><path d="M293.7 44.37H385.8"/><path d="M293.7 47.11H385.8"/><path d="M293.7 49.86H385.8"/><path d="M293.7 52.60H385.8"/><path d="M385.8 14.2V53"/><path d="M385.8 47.8H477.9V56H492"/></g>
<text x="340.6" y="10.6" font-size="15" text-anchor="middle">5 s</text>
<text x="265.2" y="52.4" font-size="15" text-anchor="middle">-80 mV</text>
<text x="431.7" y="43.6" font-size="15" text-anchor="middle">-50 mV</text>
<path d="M53 256.5V441.2H282.8" fill="none" stroke="#5c5c5c" stroke-width="1.3"/>
<text x="42.3" y="262.8" font-size="15" text-anchor="end">30</text>
<text x="42.3" y="310.40000000000003" font-size="15" text-anchor="end">20</text>
<text x="42.3" y="367.0" font-size="15" text-anchor="end">10</text>
<text x="42.3" y="419.8" font-size="15" text-anchor="end">0</text>
<text x="51.7" y="460.2" font-size="15" text-anchor="middle">-80</text>
<text x="109.2" y="460.2" font-size="15" text-anchor="middle">-40</text>
<text x="167.8" y="460.2" font-size="15" text-anchor="middle">0</text>
<text x="225.3" y="460.2" font-size="15" text-anchor="middle">40</text>
<text x="282.8" y="460.2" font-size="15" text-anchor="middle">80</text>
<text x="170" y="482.6" font-size="14.8" text-anchor="middle">Voltage (mV)</text>
<text x="2.9" y="476" font-size="10.5" font-weight="bold" class="k">b</text>
<text transform="translate(10.5 427.2) rotate(-90)" font-size="15"><tspan font-style="italic">I</tspan><tspan font-size="9.6" dy="3.7">hERG-pulse</tspan><tspan dy="-3.7"> density (pA/pF)</tspan></text>
<g stroke="#b56c6c" fill="#b56c6c" stroke-width="1.05"><path fill="none" d="M66.8 410.8L81.2 409.8L95.5 409.0L109.9 407.8L124.3 405.2L138.7 400.7L153.0 392.4L167.4 376.2L181.8 353.7L196.2 343.6L210.5 354.6L224.9 366.7L239.3 373.4L253.7 375.4L268.0 376.8"/><circle cx="66.8" cy="410.8" r="1.4" stroke="none"/><path fill="none" d="M81.2 408.6V411.0M79.9 408.6h2.6M79.9 411.0h2.6" stroke-width="0.9" stroke="#b56c6c"/><circle cx="81.2" cy="409.8" r="1.4" stroke="none"/><path fill="none" d="M95.5 408.0V410.0M94.2 408.0h2.6M94.2 410.0h2.6" stroke-width="0.9" stroke="#b56c6c"/><circle cx="95.5" cy="409.0" r="1.4" stroke="none"/><path fill="none" d="M109.9 406.8V408.8M108.6 406.8h2.6M108.6 408.8h2.6" stroke-width="0.9" stroke="#b56c6c"/><circle cx="109.9" cy="407.8" r="1.4" stroke="none"/><path fill="none" d="M124.3 404.0V406.4M123.0 404.0h2.6M123.0 406.4h2.6" stroke-width="0.9" stroke="#b56c6c"/><circle cx="124.3" cy="405.2" r="1.4" stroke="none"/><path fill="none" d="M138.7 399.2V402.2M137.3 399.2h2.6M137.3 402.2h2.6" stroke-width="0.9" stroke="#b56c6c"/><circle cx="138.7" cy="400.7" r="1.4" stroke="none"/><path fill="none" d="M153.0 390.1V394.7M151.7 390.1h2.6M151.7 394.7h2.6" stroke-width="0.9" stroke="#b56c6c"/><circle cx="153.0" cy="392.4" r="1.4" stroke="none"/><path fill="none" d="M167.4 371.6V380.8M166.1 371.6h2.6M166.1 380.8h2.6" stroke-width="0.9" stroke="#b56c6c"/><circle cx="167.4" cy="376.2" r="1.4" stroke="none"/><path fill="none" d="M181.8 348.4V359.0M180.5 348.4h2.6M180.5 359.0h2.6" stroke-width="0.9" stroke="#b56c6c"/><circle cx="181.8" cy="353.7" r="1.4" stroke="none"/><path fill="none" d="M196.2 339.6V347.6M194.8 339.6h2.6M194.8 347.6h2.6" stroke-width="0.9" stroke="#b56c6c"/><circle cx="196.2" cy="343.6" r="1.4" stroke="none"/><path fill="none" d="M210.5 351.7V357.5M209.2 351.7h2.6M209.2 357.5h2.6" stroke-width="0.9" stroke="#b56c6c"/><circle cx="210.5" cy="354.6" r="1.4" stroke="none"/><path fill="none" d="M224.9 364.4V369.0M223.6 364.4h2.6M223.6 369.0h2.6" stroke-width="0.9" stroke="#b56c6c"/><circle cx="224.9" cy="366.7" r="1.4" stroke="none"/><path fill="none" d="M239.3 370.1V376.7M238.0 370.1h2.6M238.0 376.7h2.6" stroke-width="0.9" stroke="#b56c6c"/><circle cx="239.3" cy="373.4" r="1.4" stroke="none"/><path fill="none" d="M253.7 372.5V378.3M252.3 372.5h2.6M252.3 378.3h2.6" stroke-width="0.9" stroke="#b56c6c"/><circle cx="253.7" cy="375.4" r="1.4" stroke="none"/><path fill="none" d="M268.0 372.5V381.1M266.7 372.5h2.6M266.7 381.1h2.6" stroke-width="0.9" stroke="#b56c6c"/><circle cx="268.0" cy="376.8" r="1.4" stroke="none"/></g>
<g stroke="#1a1a1a" fill="#1a1a1a" stroke-width="1.3"><path fill="none" d="M66.8 410.6L81.2 409.2L95.5 408.4L109.9 407.4L124.3 405.2L138.7 395.7L153.0 375.6L167.4 339.3L181.8 301.0L196.2 291.7L210.5 319.1L224.9 347.4L239.3 366.1L253.7 375.4L268.0 381.1"/><circle cx="66.8" cy="410.6" r="1.4" stroke="none"/><path fill="none" d="M81.2 408.4V410.0M79.9 408.4h2.6M79.9 410.0h2.6" stroke-width="0.9" stroke="#1a1a1a"/><circle cx="81.2" cy="409.2" r="1.4" stroke="none"/><path fill="none" d="M95.5 407.6V409.2M94.2 407.6h2.6M94.2 409.2h2.6" stroke-width="0.9" stroke="#1a1a1a"/><circle cx="95.5" cy="408.4" r="1.4" stroke="none"/><path fill="none" d="M109.9 406.6V408.2M108.6 406.6h2.6M108.6 408.2h2.6" stroke-width="0.9" stroke="#1a1a1a"/><circle cx="109.9" cy="407.4" r="1.4" stroke="none"/><path fill="none" d="M124.3 403.7V406.7M123.0 403.7h2.6M123.0 406.7h2.6" stroke-width="0.9" stroke="#1a1a1a"/><circle cx="124.3" cy="405.2" r="1.4" stroke="none"/><path fill="none" d="M138.7 392.7V398.7M137.3 392.7h2.6M137.3 398.7h2.6" stroke-width="0.9" stroke="#1a1a1a"/><circle cx="138.7" cy="395.7" r="1.4" stroke="none"/><path fill="none" d="M153.0 365.3V385.9M151.7 365.3h2.6M151.7 385.9h2.6" stroke-width="0.9" stroke="#1a1a1a"/><circle cx="153.0" cy="375.6" r="1.4" stroke="none"/><path fill="none" d="M167.4 326.0V352.6M166.1 326.0h2.6M166.1 352.6h2.6" stroke-width="0.9" stroke="#1a1a1a"/><circle cx="167.4" cy="339.3" r="1.4" stroke="none"/><path fill="none" d="M181.8 289.5V312.5M180.5 289.5h2.6M180.5 312.5h2.6" stroke-width="0.9" stroke="#1a1a1a"/><circle cx="181.8" cy="301.0" r="1.4" stroke="none"/><path fill="none" d="M196.2 285.4V298.0M194.8 285.4h2.6M194.8 298.0h2.6" stroke-width="0.9" stroke="#1a1a1a"/><circle cx="196.2" cy="291.7" r="1.4" stroke="none"/><path fill="none" d="M210.5 313.8V324.4M209.2 313.8h2.6M209.2 324.4h2.6" stroke-width="0.9" stroke="#1a1a1a"/><circle cx="210.5" cy="319.1" r="1.4" stroke="none"/><path fill="none" d="M224.9 343.6V351.2M223.6 343.6h2.6M223.6 351.2h2.6" stroke-width="0.9" stroke="#1a1a1a"/><circle cx="224.9" cy="347.4" r="1.4" stroke="none"/><path fill="none" d="M239.3 362.6V369.6M238.0 362.6h2.6M238.0 369.6h2.6" stroke-width="0.9" stroke="#1a1a1a"/><circle cx="239.3" cy="366.1" r="1.4" stroke="none"/><path fill="none" d="M253.7 372.5V378.3M252.3 372.5h2.6M252.3 378.3h2.6" stroke-width="0.9" stroke="#1a1a1a"/><circle cx="253.7" cy="375.4" r="1.4" stroke="none"/><path fill="none" d="M268.0 377.9V384.3M266.7 377.9h2.6M266.7 384.3h2.6" stroke-width="0.9" stroke="#1a1a1a"/><circle cx="268.0" cy="381.1" r="1.4" stroke="none"/></g>
<g fill="#b56c6c"><circle cx="66.8" cy="410.8" r="1.2"/><circle cx="81.2" cy="409.8" r="1.2"/><circle cx="95.5" cy="409.0" r="1.2"/><circle cx="109.9" cy="407.8" r="1.2"/><circle cx="124.3" cy="405.2" r="1.2"/></g>
<rect x="58.2" y="267.8" width="39.5" height="20.6" fill="#fff" stroke="#c8c8c8" stroke-width="0.8"/><path d="M60.0 273.0942h18" stroke="#444" stroke-width="0.9"/><circle cx="69.0" cy="273.0942" r="1.3" fill="#1a1a1a"/><path d="M60.0 283.1058h18" stroke="#c98d8d" stroke-width="0.9"/><circle cx="69.0" cy="283.1058" r="1.2" fill="#b86a6a"/><text x="80.2" y="275.6942" font-size="7.4" fill="#222">Ctrl</text><text x="80.2" y="285.7058" font-size="7.4" fill="#222">HCQ</text>
<g transform="translate(0 0)"><path d="M399.5 271.9V450.2H518" fill="none" stroke="#111" stroke-width="2"/><path d="M392.3 272.7H399.5" stroke="#111" stroke-width="1.6"/><text x="387.6" y="277.09999999999997" font-size="14.3" text-anchor="end">40</text><path d="M392.3 317.4H399.5" stroke="#111" stroke-width="1.6"/><text x="387.6" y="321.79999999999995" font-size="14.3" text-anchor="end">30</text><path d="M392.3 361.5H399.5" stroke="#111" stroke-width="1.6"/><text x="387.6" y="365.9" font-size="14.3" text-anchor="end">20</text><path d="M392.3 405.9H399.5" stroke="#111" stroke-width="1.6"/><text x="387.6" y="410.29999999999995" font-size="14.3" text-anchor="end">10</text><path d="M392.3 450.2H399.5" stroke="#111" stroke-width="1.6"/><text x="387.6" y="454.59999999999997" font-size="14.3" text-anchor="end">0</text><path d="M429.5 450.2v6.4" stroke="#111" stroke-width="1.6"/><path d="M489 450.2v6.4" stroke="#111" stroke-width="1.6"/><path d="M429.5 343.9V320.1M425.5 320.1h8.2" stroke="#111" stroke-width="1.6" fill="none"/><rect x="415.9" y="343.9" width="27.4" height="106.30000000000001" fill="#b3b3ba" stroke="#0d0d0d" stroke-width="2.4"/><path d="M489 389.3V377.9M484.9 377.9h8.2" stroke="#111" stroke-width="1.6" fill="none"/><rect x="474.2" y="389.3" width="29" height="60.89999999999998" fill="#0a0a0a"/><text x="489" y="374.2" font-size="17" letter-spacing="0.8" text-anchor="middle">**</text><text x="430" y="472.0" font-size="14.6" text-anchor="middle">Ctrl</text><text x="489" y="472.0" font-size="14.6" text-anchor="middle">HCQ</text><text x="344.6" y="475.4" font-size="10.5" font-weight="bold" class="k">c</text><text transform="translate(356 462.2) rotate(-90)" font-size="14.6">Peak <tspan font-style="italic">I</tspan><tspan font-size="10.1" dy="3.6">hERG-pulse</tspan><tspan dy="-3.6"> density (pA/pF)</tspan></text></g>
<path d="M52.8 522V708H282.6" fill="none" stroke="#333" stroke-width="1.05"/>
<path d="M49 522H53" stroke="#333" stroke-width="1"/>
<text x="42.3" y="526.3" font-size="15" text-anchor="end">60</text>
<path d="M49 581.4H53" stroke="#333" stroke-width="1"/>
<text x="42.3" y="585.8" font-size="15" text-anchor="end">40</text>
<path d="M49 640.7H53" stroke="#333" stroke-width="1"/>
<text x="42.3" y="645.4000000000001" font-size="15" text-anchor="end">20</text>
<path d="M49 700.3H53" stroke="#333" stroke-width="1"/>
<text x="42.3" y="705.3" font-size="15" text-anchor="end">0</text>
<path d="M50.8 551.6H53" stroke="#333" stroke-width="1"/>
<path d="M50.8 611H53" stroke="#333" stroke-width="1"/>
<path d="M50.8 670.6H53" stroke="#333" stroke-width="1"/>
<path d="M52.4 708v3.3" stroke="#333" stroke-width="1"/>
<path d="M81.2 708v2" stroke="#333" stroke-width="1"/>
<path d="M109.9 708v3.3" stroke="#333" stroke-width="1"/>
<path d="M138.7 708v2" stroke="#333" stroke-width="1"/>
<path d="M167.4 708v3.3" stroke="#333" stroke-width="1"/>
<path d="M196.2 708v2" stroke="#333" stroke-width="1"/>
<path d="M224.9 708v3.3" stroke="#333" stroke-width="1"/>
<path d="M253.7 708v2" stroke="#333" stroke-width="1"/>
<path d="M282.4 708v3.3" stroke="#333" stroke-width="1"/>
<text x="52.7" y="727.5" font-size="15" text-anchor="middle">-80</text>
<text x="110.2" y="727.5" font-size="15" text-anchor="middle">-40</text>
<text x="167.4" y="727.5" font-size="15" text-anchor="middle">0</text>
<text x="224.9" y="727.5" font-size="15" text-anchor="middle">40</text>
<text x="282.4" y="727.5" font-size="15" text-anchor="middle">80</text>
<text x="169.6" y="750" font-size="14.8" text-anchor="middle">Voltage (mV)</text>
<text x="2.7" y="751" font-size="10.5" font-weight="bold" class="k">d</text>
<text transform="translate(10.5 689) rotate(-90)" font-size="15"><tspan font-style="italic">I</tspan><tspan font-size="9.6" dy="3.7">hERG-tail</tspan><tspan dy="-3.7"> density (pA/pF)</tspan></text>
<g stroke="#c05b5c" fill="#c05b5c" stroke-width="0.85"><path fill="none" d="M66.8 697.2L68.2 697.2L69.7 697.2L71.1 697.2L72.5 697.2L74.0 697.2L75.4 697.2L76.8 697.2L78.3 697.2L79.7 697.2L81.2 697.2L82.6 697.2L84.0 697.2L85.5 697.2L86.9 697.2L88.3 697.2L89.8 697.2L91.2 697.2L92.7 697.2L94.1 697.2L95.5 697.2L97.0 697.2L98.4 697.2L99.8 697.2L101.3 697.2L102.7 697.1L104.2 697.1L105.6 697.1L107.0 697.1L108.5 697.1L109.9 697.1L111.3 697.1L112.8 697.1L114.2 697.0L115.7 697.0L117.1 697.0L118.5 696.9L120.0 696.9L121.4 696.9L122.8 696.8L124.3 696.7L125.7 696.7L127.2 696.6L128.6 696.5L130.0 696.4L131.5 696.3L132.9 696.1L134.3 696.0L135.8 695.8L137.2 695.6L138.7 695.3L140.1 695.0L141.5 694.7L143.0 694.4L144.4 693.9L145.8 693.5L147.3 692.9L148.7 692.3L150.2 691.6L151.6 690.8L153.0 689.9L154.5 688.9L155.9 687.8L157.3 686.5L158.8 685.2L160.2 683.6L161.7 681.9L163.1 680.1L164.5 678.1L166.0 676.0L167.4 673.7L168.8 671.3L170.3 668.7L171.7 666.1L173.2 663.3L174.6 660.6L176.0 657.8L177.5 654.9L178.9 652.2L180.3 649.4L181.8 646.8L183.2 644.2L184.7 641.8L186.1 639.5L187.5 637.4L189.0 635.4L190.4 633.6L191.8 631.9L193.3 630.3L194.7 629.0L196.2 627.7L197.6 626.6L199.0 625.6L200.5 624.7L201.9 623.9L203.3 623.2L204.8 622.6L206.2 622.0L207.7 621.6L209.1 621.1L210.5 620.8L212.0 620.5L213.4 620.2L214.8 619.9L216.3 619.7L217.7 619.5L219.2 619.4L220.6 619.2L222.0 619.1L223.5 619.0L224.9 618.9L226.3 618.8L227.8 618.8L229.2 618.7L230.7 618.6L232.1 618.6L233.5 618.6L235.0 618.5L236.4 618.5L237.8 618.5L239.3 618.4L240.7 618.4L242.2 618.4L243.6 618.4L245.0 618.4L246.5 618.4L247.9 618.4L249.3 618.4L250.8 618.3L252.2 618.3L253.7 618.3L255.1 618.3L256.5 618.3L258.0 618.3L259.4 618.3L260.8 618.3L262.3 618.3L263.7 618.3L265.1 618.3L266.6 618.3L268.0 618.3"/><circle cx="66.8" cy="697.2" r="1.4" stroke="none"/><circle cx="81.2" cy="697.2" r="1.4" stroke="none"/><path fill="none" d="M95.5 696.4V698.0M94.2 696.4h2.6M94.2 698.0h2.6" stroke-width="1.1" stroke="#a84a4c"/><circle cx="95.5" cy="697.2" r="1.4" stroke="none"/><circle cx="109.9" cy="697.1" r="1.4" stroke="none"/><path fill="none" d="M124.3 695.7V697.7M123.0 695.7h2.6M123.0 697.7h2.6" stroke-width="1.1" stroke="#a84a4c"/><circle cx="124.3" cy="696.7" r="1.4" stroke="none"/><path fill="none" d="M138.7 693.8V696.8M137.3 693.8h2.6M137.3 696.8h2.6" stroke-width="1.1" stroke="#a84a4c"/><circle cx="138.7" cy="695.3" r="1.4" stroke="none"/><path fill="none" d="M153.0 687.4V692.4M151.7 687.4h2.6M151.7 692.4h2.6" stroke-width="1.1" stroke="#a84a4c"/><circle cx="153.0" cy="689.9" r="1.4" stroke="none"/><path fill="none" d="M167.4 668.7V678.7M166.1 668.7h2.6M166.1 678.7h2.6" stroke-width="1.1" stroke="#a84a4c"/><circle cx="167.4" cy="673.7" r="1.4" stroke="none"/><path fill="none" d="M181.8 642.3V651.3M180.5 642.3h2.6M180.5 651.3h2.6" stroke-width="1.1" stroke="#a84a4c"/><circle cx="181.8" cy="646.8" r="1.4" stroke="none"/><path fill="none" d="M196.2 624.4V631.0M194.8 624.4h2.6M194.8 631.0h2.6" stroke-width="1.1" stroke="#a84a4c"/><circle cx="196.2" cy="627.7" r="1.4" stroke="none"/><path fill="none" d="M210.5 614.7V621.3M209.2 614.7h2.6M209.2 621.3h2.6" stroke-width="1.1" stroke="#a84a4c"/><circle cx="210.5" cy="618.0" r="1.4" stroke="none"/><path fill="none" d="M224.9 615.4V622.4M223.6 615.4h2.6M223.6 622.4h2.6" stroke-width="1.1" stroke="#a84a4c"/><circle cx="224.9" cy="618.9" r="1.4" stroke="none"/><path fill="none" d="M239.3 615.2V622.2M238.0 615.2h2.6M238.0 622.2h2.6" stroke-width="1.1" stroke="#a84a4c"/><circle cx="239.3" cy="618.7" r="1.4" stroke="none"/><path fill="none" d="M253.7 615.5V623.1M252.3 615.5h2.6M252.3 623.1h2.6" stroke-width="1.1" stroke="#a84a4c"/><circle cx="253.7" cy="619.3" r="1.4" stroke="none"/><path fill="none" d="M268.0 615.3V624.3M266.7 615.3h2.6M266.7 624.3h2.6" stroke-width="1.1" stroke="#a84a4c"/><circle cx="268.0" cy="619.8" r="1.4" stroke="none"/></g>
<g stroke="#1a1a1a" fill="#1a1a1a" stroke-width="1.05"><path fill="none" d="M66.8 697.2L68.2 697.2L69.7 697.2L71.1 697.2L72.5 697.2L74.0 697.2L75.4 697.2L76.8 697.2L78.3 697.2L79.7 697.2L81.2 697.2L82.6 697.2L84.0 697.2L85.5 697.2L86.9 697.2L88.3 697.2L89.8 697.2L91.2 697.2L92.7 697.1L94.1 697.1L95.5 697.1L97.0 697.1L98.4 697.1L99.8 697.1L101.3 697.1L102.7 697.1L104.2 697.0L105.6 697.0L107.0 697.0L108.5 696.9L109.9 696.9L111.3 696.9L112.8 696.8L114.2 696.7L115.7 696.7L117.1 696.6L118.5 696.5L120.0 696.4L121.4 696.3L122.8 696.1L124.3 696.0L125.7 695.8L127.2 695.6L128.6 695.3L130.0 695.0L131.5 694.7L132.9 694.3L134.3 693.9L135.8 693.4L137.2 692.8L138.7 692.2L140.1 691.5L141.5 690.6L143.0 689.7L144.4 688.6L145.8 687.4L147.3 686.0L148.7 684.4L150.2 682.7L151.6 680.8L153.0 678.6L154.5 676.3L155.9 673.6L157.3 670.8L158.8 667.7L160.2 664.3L161.7 660.7L163.1 656.9L164.5 652.9L166.0 648.7L167.4 644.4L168.8 639.9L170.3 635.5L171.7 630.9L173.2 626.5L174.6 622.1L176.0 617.8L177.5 613.7L178.9 609.7L180.3 606.0L181.8 602.5L183.2 599.3L184.7 596.3L186.1 593.5L187.5 591.0L189.0 588.7L190.4 586.6L191.8 584.8L193.3 583.1L194.7 581.6L196.2 580.3L197.6 579.2L199.0 578.1L200.5 577.2L201.9 576.4L203.3 575.7L204.8 575.1L206.2 574.6L207.7 574.1L209.1 573.7L210.5 573.4L212.0 573.1L213.4 572.8L214.8 572.6L216.3 572.3L217.7 572.2L219.2 572.0L220.6 571.9L222.0 571.8L223.5 571.7L224.9 571.6L226.3 571.5L227.8 571.4L229.2 571.4L230.7 571.3L232.1 571.3L233.5 571.2L235.0 571.2L236.4 571.2L237.8 571.2L239.3 571.1L240.7 571.1L242.2 571.1L243.6 571.1L245.0 571.1L246.5 571.1L247.9 571.1L249.3 571.1L250.8 571.0L252.2 571.0L253.7 571.0L255.1 571.0L256.5 571.0L258.0 571.0L259.4 571.0L260.8 571.0L262.3 571.0L263.7 571.0L265.1 571.0L266.6 571.0L268.0 571.0"/><circle cx="66.8" cy="697.2" r="1.4" stroke="none"/><circle cx="81.2" cy="697.2" r="1.4" stroke="none"/><path fill="none" d="M95.5 696.1V698.1M94.2 696.1h2.6M94.2 698.1h2.6" stroke-width="1.1" stroke="#1a1a1a"/><circle cx="95.5" cy="697.1" r="1.4" stroke="none"/><path fill="none" d="M109.9 696.1V697.7M108.6 696.1h2.6M108.6 697.7h2.6" stroke-width="1.1" stroke="#1a1a1a"/><circle cx="109.9" cy="696.9" r="1.4" stroke="none"/><path fill="none" d="M124.3 693.8V698.2M123.0 693.8h2.6M123.0 698.2h2.6" stroke-width="1.1" stroke="#1a1a1a"/><circle cx="124.3" cy="696.0" r="1.4" stroke="none"/><path fill="none" d="M138.7 687.7V696.7M137.3 687.7h2.6M137.3 696.7h2.6" stroke-width="1.1" stroke="#1a1a1a"/><circle cx="138.7" cy="692.2" r="1.4" stroke="none"/><path fill="none" d="M153.0 670.1V687.1M151.7 670.1h2.6M151.7 687.1h2.6" stroke-width="1.1" stroke="#1a1a1a"/><circle cx="153.0" cy="678.6" r="1.4" stroke="none"/><path fill="none" d="M167.4 634.4V654.4M166.1 634.4h2.6M166.1 654.4h2.6" stroke-width="1.1" stroke="#1a1a1a"/><circle cx="167.4" cy="644.4" r="1.4" stroke="none"/><path fill="none" d="M181.8 591.5V613.5M180.5 591.5h2.6M180.5 613.5h2.6" stroke-width="1.1" stroke="#1a1a1a"/><circle cx="181.8" cy="602.5" r="1.4" stroke="none"/><path fill="none" d="M196.2 568.0V580.4M194.8 568.0h2.6M194.8 580.4h2.6" stroke-width="1.1" stroke="#1a1a1a"/><circle cx="196.2" cy="574.2" r="1.4" stroke="none"/><path fill="none" d="M210.5 564.2V575.8M209.2 564.2h2.6M209.2 575.8h2.6" stroke-width="1.1" stroke="#1a1a1a"/><circle cx="210.5" cy="570.0" r="1.4" stroke="none"/><path fill="none" d="M224.9 565.6V578.4M223.6 565.6h2.6M223.6 578.4h2.6" stroke-width="1.1" stroke="#1a1a1a"/><circle cx="224.9" cy="572.0" r="1.4" stroke="none"/><path fill="none" d="M239.3 565.3V578.7M238.0 565.3h2.6M238.0 578.7h2.6" stroke-width="1.1" stroke="#1a1a1a"/><circle cx="239.3" cy="572.0" r="1.4" stroke="none"/><path fill="none" d="M253.7 566.9V581.5M252.3 566.9h2.6M252.3 581.5h2.6" stroke-width="1.1" stroke="#1a1a1a"/><circle cx="253.7" cy="574.2" r="1.4" stroke="none"/><path fill="none" d="M268.0 567.2V583.2M266.7 567.2h2.6M266.7 583.2h2.6" stroke-width="1.1" stroke="#1a1a1a"/><circle cx="268.0" cy="575.2" r="1.4" stroke="none"/></g>
<rect x="56.3" y="532.8" width="41.6" height="20.8" fill="#fff" stroke="#c8c8c8" stroke-width="0.8"/><path d="M58.099999999999994 538.1456h18" stroke="#444" stroke-width="0.9"/><circle cx="67.1" cy="538.1456" r="1.3" fill="#1a1a1a"/><path d="M58.099999999999994 548.2543999999999h18" stroke="#c98d8d" stroke-width="0.9"/><circle cx="67.1" cy="548.2543999999999" r="1.2" fill="#b86a6a"/><text x="78.3" y="540.7456" font-size="7.4" fill="#222">Ctrl</text><text x="78.3" y="550.8543999999999" font-size="7.4" fill="#222">HCQ</text>
<g transform="translate(0.5 0.4)"><path d="M399.5 534.8000000000001V713.2H518" fill="none" stroke="#111" stroke-width="2"/><path d="M392.3 535.6H399.5" stroke="#111" stroke-width="1.6"/><text x="388.6" y="540.0" font-size="14.3" text-anchor="end">60</text><path d="M392.3 594.8H399.5" stroke="#111" stroke-width="1.6"/><text x="388.6" y="599.1999999999999" font-size="14.3" text-anchor="end">40</text><path d="M392.3 654H399.5" stroke="#111" stroke-width="1.6"/><text x="388.6" y="658.4" font-size="14.3" text-anchor="end">20</text><path d="M392.3 713.2H399.5" stroke="#111" stroke-width="1.6"/><text x="388.6" y="717.6" font-size="14.3" text-anchor="end">0</text><path d="M429.5 713.2v6.4" stroke="#111" stroke-width="1.6"/><path d="M489 713.2v6.4" stroke="#111" stroke-width="1.6"/><path d="M429.5 582V563.7M425.5 563.7h8.2" stroke="#111" stroke-width="1.6" fill="none"/><rect x="415.9" y="582" width="27.4" height="131.20000000000005" fill="#b3b3ba" stroke="#0d0d0d" stroke-width="2.4"/><path d="M489 630.6V619.6M484.9 619.6h8.2" stroke="#111" stroke-width="1.6" fill="none"/><rect x="474.2" y="630.6" width="29" height="82.60000000000002" fill="#0a0a0a"/><text x="489" y="617.5" font-size="17" letter-spacing="0.8" text-anchor="middle">***</text><text x="430" y="735.0" font-size="14.6" text-anchor="middle">Ctrl</text><text x="489" y="735.0" font-size="14.6" text-anchor="middle">HCQ</text><text x="344.3" y="751.6" font-size="10.5" font-weight="bold" class="k">e</text><text transform="translate(356.7 718.6) rotate(-90)" font-size="14.6">Peak <tspan font-style="italic">I</tspan><tspan font-size="10.1" dy="3.6">hERG-tail</tspan><tspan dy="-3.6"> density (pA/pF)</tspan></text></g></svg>
</body></html>
